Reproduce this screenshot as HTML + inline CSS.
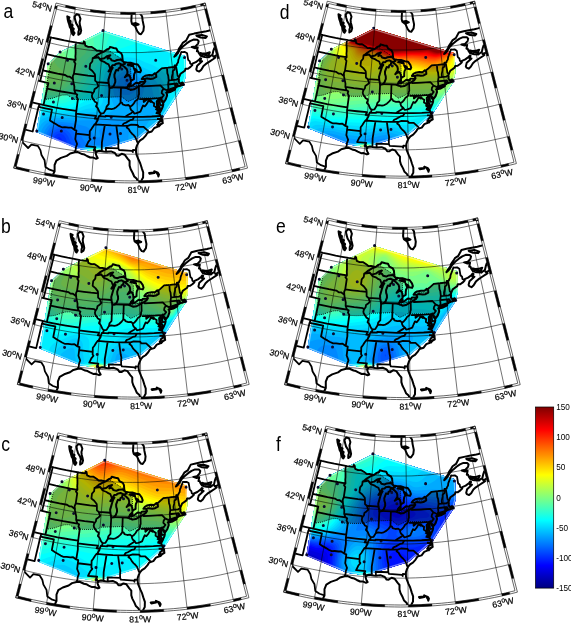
<!DOCTYPE html><html><head><meta charset="utf-8"><title>figure</title><style>
html,body{margin:0;padding:0;background:#fff}svg{display:block}
text{font-family:"Liberation Sans",sans-serif;fill:#000}.tl{font-size:8.7px;stroke:#000;stroke-width:0.2px}.dg{font-size:7.2px}.pl{font-size:19.5px}.cb{font-size:8.2px}
</style></head><body>
<svg width="571" height="623" viewBox="0 0 571 623">
<rect width="571" height="623" fill="#fff"/>
<defs><clipPath id="hull"><path d="M103.2 31.0 L185.1 55.9 L185.7 76.0 L183.0 86.0 L162.6 117.5 L138.5 138.0 L102.0 149.2 L94.3 151.0 L77.5 148.7 L36.4 132.0 L48.0 64.2 L60.4 52.0Z"/></clipPath>
<clipPath id="mc"><path d="M57.4 5.4 L59.2 5.8 L62.9 6.7 L66.6 7.5 L70.3 8.3 L74.0 9.1 L77.8 9.7 L81.5 10.4 L85.2 11.0 L89.0 11.5 L92.8 12.0 L96.5 12.5 L100.3 12.9 L104.1 13.2 L107.9 13.5 L111.6 13.8 L115.4 14.0 L119.2 14.2 L123.0 14.3 L126.8 14.4 L130.6 14.4 L134.4 14.4 L138.2 14.3 L142.0 14.2 L145.8 14.0 L149.6 13.8 L153.3 13.5 L157.1 13.2 L160.9 12.9 L164.7 12.5 L168.4 12.0 L172.2 11.5 L176.0 11.0 L179.7 10.4 L183.4 9.7 L187.2 9.1 L190.9 8.3 L194.6 7.5 L198.3 6.7 L202.0 5.8 L203.8 5.4 L245.1 166.7 L241.3 167.6 L235.6 169.0 L229.8 170.2 L224.1 171.4 L218.3 172.6 L212.5 173.6 L206.7 174.6 L200.9 175.6 L195.1 176.4 L189.3 177.2 L183.4 177.9 L177.6 178.5 L171.7 179.1 L165.9 179.5 L160.0 179.9 L154.1 180.3 L148.2 180.5 L142.4 180.7 L136.5 180.8 L130.6 180.9 L124.7 180.8 L118.8 180.7 L113.0 180.5 L107.1 180.3 L101.2 179.9 L95.3 179.5 L89.5 179.1 L83.6 178.5 L77.8 177.9 L71.9 177.2 L66.1 176.4 L60.3 175.6 L54.5 174.6 L48.7 173.6 L42.9 172.6 L37.1 171.4 L31.4 170.2 L25.6 169.0 L19.9 167.6 L16.1 166.7Z"/></clipPath>
<g id="bm"><g clip-path="url(#mc)"><path d="M20.8 140.3 L28.0 142.1 L35.2 143.7 L42.4 145.3 L49.7 146.7 L57.0 148.0 L64.3 149.2 L71.6 150.2 L78.9 151.1 L86.3 151.9 L93.7 152.6 L101.0 153.2 L108.4 153.6 L115.8 153.9 L123.2 154.1 L130.6 154.2 L138.0 154.1 L145.4 153.9 L152.8 153.6 L160.2 153.2 L167.5 152.6 L174.9 151.9 L182.3 151.1 L189.6 150.2 L196.9 149.2 L204.2 148.0 L211.5 146.7 L218.8 145.3 L226.0 143.7 L233.2 142.1 L240.4 140.3M29.2 107.4 L35.9 109.1 L42.5 110.6 L49.2 112.0 L55.9 113.3 L62.6 114.5 L69.4 115.6 L76.1 116.6 L82.9 117.4 L89.7 118.2 L96.5 118.8 L103.3 119.3 L110.1 119.7 L116.9 120.0 L123.8 120.2 L130.6 120.2 L137.4 120.2 L144.3 120.0 L151.1 119.7 L157.9 119.3 L164.7 118.8 L171.5 118.2 L178.3 117.4 L185.1 116.6 L191.8 115.6 L198.6 114.5 L205.3 113.3 L212.0 112.0 L218.7 110.6 L225.3 109.1 L232.0 107.4M37.6 74.8 L43.7 76.3 L49.8 77.7 L55.9 79.0 L62.1 80.2 L68.2 81.3 L74.4 82.3 L80.6 83.2 L86.8 83.9 L93.1 84.6 L99.3 85.2 L105.6 85.7 L111.8 86.0 L118.1 86.3 L124.3 86.5 L130.6 86.5 L136.9 86.5 L143.1 86.3 L149.4 86.0 L155.6 85.7 L161.9 85.2 L168.1 84.6 L174.4 83.9 L180.6 83.2 L186.8 82.3 L193.0 81.3 L199.1 80.2 L205.3 79.0 L211.4 77.7 L217.5 76.3 L223.6 74.8M46.0 42.0 L51.5 43.3 L57.1 44.6 L62.7 45.8 L68.3 46.9 L73.9 47.9 L79.5 48.8 L85.1 49.6 L90.8 50.3 L96.5 50.9 L102.1 51.5 L107.8 51.9 L113.5 52.2 L119.2 52.5 L124.9 52.6 L130.6 52.6 L136.3 52.6 L142.0 52.5 L147.7 52.2 L153.4 51.9 L159.1 51.5 L164.7 50.9 L170.4 50.3 L176.1 49.6 L181.7 48.8 L187.3 47.9 L192.9 46.9 L198.5 45.8 L204.1 44.6 L209.7 43.3 L215.2 42.0M54.6 8.6 L59.5 9.9 L64.5 11.0 L69.5 12.1 L74.6 13.1 L79.6 14.0 L84.7 14.8 L89.7 15.5 L94.8 16.1 L99.9 16.7 L105.0 17.2 L110.1 17.5 L115.2 17.8 L120.4 18.1 L125.5 18.2 L130.6 18.2 L135.7 18.2 L140.8 18.1 L146.0 17.8 L151.1 17.5 L156.2 17.2 L161.3 16.7 L166.4 16.1 L171.5 15.5 L176.5 14.8 L181.6 14.0 L186.6 13.1 L191.7 12.1 L196.7 11.0 L201.7 9.9 L206.6 8.6M44.4 174.9 L75.6 7.3M91.3 181.2 L105.5 11.3M138.5 182.8 L135.6 12.4M185.6 179.6 L165.7 10.3M232.2 171.8 L195.4 5.3" fill="none" stroke="#000" stroke-width="0.55"/>
<path d="M51.7 179.1 L52.2 176.3 L54.6 171.4 L54.6 165.0 L56.4 160.6 L60.9 157.9 L66.8 155.9 L70.2 153.5 L74.8 152.3 L77.8 152.1 L82.1 154.1 L84.5 154.6 L86.9 156.0 L90.2 157.5 L92.8 157.4 L96.1 158.8 L97.7 158.1 L96.4 155.7 L95.6 153.3 L96.7 152.0 L95.7 151.6 L99.2 150.8 L103.6 151.6 L106.1 151.8 L111.0 151.4 L114.9 153.0 L116.7 155.6 L118.7 155.7 L121.7 153.8 L124.7 154.7 L127.6 158.7 L129.6 161.0 L129.6 165.6 L130.6 169.0 L132.7 173.0 L134.2 176.5 L136.8 178.8 L137.9 181.9 L141.1 181.6 L141.8 179.8 L143.1 177.5 L143.2 172.3 L141.8 168.3 L140.2 163.2 L138.6 159.8 L136.5 154.7 L136.0 151.8 L136.0 148.4 L136.9 145.6 L138.3 142.7 L140.2 140.4 L143.0 138.7 L145.7 135.7 L147.5 132.8 L151.7 131.5 L154.3 128.0 L157.9 126.6 L159.2 124.9 L162.5 123.2 L162.5 120.1 L160.4 115.7 L159.8 114.1 L158.4 113.6 L158.2 110.3 L157.6 108.1 L157.0 105.3 L156.7 101.4 L158.3 99.6 L158.9 102.3 L158.3 105.2 L159.8 107.9 L160.1 112.4 L161.3 110.0 L162.8 106.5 L163.3 104.2 L163.0 103.1 L161.5 101.0 L160.6 98.8 L161.8 100.1 L163.8 102.2 L165.7 99.5 L167.1 95.5 L166.9 93.5 L166.2 92.7 L166.7 92.1 L168.1 90.3 L170.7 88.9 L173.6 88.0 L175.4 87.8 L176.8 87.0 L177.1 85.3 L178.0 86.3 L179.2 85.9 L180.3 85.7 L182.9 84.8 L183.0 84.0 L182.6 82.6 L181.8 82.7 L182.4 84.0 L180.7 84.3 L180.0 83.2 L178.7 81.7 L178.9 80.0 L178.7 78.3 L179.3 76.5 L180.5 73.8 L182.0 72.7 L185.0 70.6 L185.5 68.8 L188.0 68.7 L190.5 66.9 L192.3 65.1 L192.4 63.7 L195.8 62.2 L199.3 59.5 L200.2 58.2 L201.1 58.6 L200.0 61.1 L202.1 61.3 L197.2 65.7 L196.3 69.3 L196.9 70.6 L199.2 71.6 L201.3 69.7 L203.5 66.1 L205.9 63.9 L209.8 61.3 L213.4 59.0 L215.1 57.7 L213.2 56.5 L215.1 56.0 L217.3 54.9 L218.8 52.8 L217.7 51.9 L215.3 48.7 L214.3 48.0 L213.4 50.6 L212.4 54.9 L210.9 55.6 L208.9 57.2 L204.8 56.9 L202.7 56.5 L200.6 55.8 L198.9 53.3 L198.0 51.1 L196.9 51.3 L197.7 47.4 L195.1 48.2 L191.8 47.1 L195.5 46.4 L198.1 43.6 L198.7 41.1 L197.3 39.7 L193.5 39.6 L190.0 41.1 L186.6 43.4 L183.2 46.3 L179.9 49.6 L177.7 53.4 L175.4 56.0 L174.3 56.7 L175.9 54.2 L178.2 51.0 L179.0 48.6 L181.2 45.4 L182.7 42.9 L186.1 40.6 L189.2 34.8 L194.2 33.6 L199.5 32.5 L205.0 31.6 L208.5 30.7 L212.0 29.6 L215.5 28.4M166.8 92.7 L171.0 91.7 L175.0 89.5 L173.7 89.1 L170.8 90.3 L167.9 91.1 L166.8 92.7ZM196.4 35.5 L202.0 34.9 L206.9 36.4 L205.7 37.9 L200.6 37.5 L196.9 36.0 L196.4 35.5ZM200.4 53.0 L202.9 53.6 L206.1 53.5 L209.8 52.3 L208.5 55.3 L205.6 55.0 L202.2 54.3 L200.4 53.0ZM132.7 23.7 L135.8 23.1 L138.6 24.5 L135.8 25.4 L132.7 23.7ZM128.6 64.5 L132.6 64.3 L133.4 66.5 L130.6 65.7 L127.8 64.8 L128.6 64.5ZM149.1 173.0 L153.7 172.5 L154.3 173.0 L149.7 173.8 L149.1 173.0ZM154.2 171.3 L157.9 172.8 L159.0 174.5 L158.4 176.5 L158.0 175.1 L156.3 172.3 L154.2 171.3ZM153.1 181.2 L154.7 181.4 L155.9 185.1 L154.4 186.3 L152.8 184.7 L153.1 181.2ZM131.3 8.9 L131.6 15.3 L131.3 21.1 L132.0 24.0 L135.2 26.3 L137.4 31.4 L139.2 33.7 L141.0 34.2 L143.4 30.7 L143.9 26.6 L142.7 20.9 L142.1 16.3 L140.4 14.0 L143.8 8.6M160.4 115.7 L162.3 120.1 L162.8 123.2 L160.6 124.5 L158.4 126.9M160.1 118.0 L161.2 120.8 L158.6 122.4 L157.8 124.7 L156.4 125.0M157.0 119.1 L160.2 119.1 L160.3 120.8M158.3 108.6 L155.3 106.8M158.2 110.8 L155.4 108.8M158.3 112.2 L156.1 112.4M158.4 113.6 L155.7 112.7M93.4 58.0 L96.8 55.2 L100.9 52.8 L104.0 51.6 L106.8 49.5 L109.2 48.6 L110.0 46.9 L113.7 48.0 L116.3 48.4 L117.7 51.3 L121.1 53.1 L122.2 55.4 L122.5 58.8 L122.8 61.1 L120.9 59.6 L117.0 60.0 L114.6 61.1 L111.5 60.3 L110.5 58.6 L108.6 57.9 L107.6 58.7 L109.5 56.0 L110.3 55.2 L107.2 56.1 L104.3 58.2 L99.9 59.2 L98.2 57.1 L97.0 57.5 L93.4 58.0ZM109.6 87.9 L109.3 86.5 L108.6 83.0 L108.4 79.9 L109.5 76.1 L110.4 73.0 L111.4 70.0 L112.7 67.8 L111.0 69.7 L108.5 71.5 L110.3 68.5 L112.5 65.2 L114.8 65.0 L115.7 63.9 L118.8 63.2 L121.7 64.7 L120.7 65.3 L120.3 67.5 L118.7 68.3 L118.2 70.5 L116.2 69.9 L115.6 71.3 L114.4 74.6 L114.5 77.2 L115.2 79.4 L115.3 82.0 L113.9 85.6 L112.2 87.5 L109.6 87.9ZM121.9 65.0 L124.3 66.7 L126.8 69.3 L127.4 71.3 L127.4 73.6 L124.9 77.2 L126.9 75.8 L129.0 75.0 L130.4 77.5 L130.8 80.9 L133.9 79.2 L133.9 76.7 L134.2 74.1 L135.4 71.8 L133.8 68.2 L136.6 70.1 L137.0 71.8 L140.2 72.3 L141.0 70.6 L140.1 67.8 L137.7 64.5 L134.5 64.0 L130.6 62.8 L126.7 62.5 L124.3 62.2 L124.7 63.9 L121.9 65.0ZM126.6 88.2 L128.1 86.2 L130.6 86.5 L133.1 85.1 L136.0 82.8 L139.3 83.3 L140.1 81.9 L143.8 81.5 L145.4 81.2 L143.9 83.5 L140.6 85.5 L136.9 87.6 L134.0 89.3 L130.6 89.9 L129.8 89.3 L128.5 89.0 L126.6 88.2ZM141.7 79.0 L143.2 77.0 L145.2 75.8 L149.2 75.1 L152.5 75.2 L154.8 73.3 L156.1 74.4 L156.3 76.9 L153.5 78.5 L150.7 78.9 L147.0 78.4 L144.7 79.1 L141.7 79.0ZM128.9 84.5 L130.2 83.1 L130.8 84.0 L129.8 84.8 L128.9 84.5ZM78.3 34.8 L80.4 33.4 L81.2 30.6 L80.6 27.6 L79.9 25.1 L79.6 22.2 L80.5 18.8 L79.1 15.0 L76.4 14.3 L74.6 16.6 L75.1 19.6 L76.2 23.4 L78.2 26.6 L79.1 29.7 L78.4 31.9 L78.3 34.8Z" fill="none" stroke="#000" stroke-width="2.0" stroke-linejoin="round"/>
<path d="M73.4 35.1 L74.6 33.0 L73.1 31.0 L73.8 28.8 L71.9 27.3 L72.7 25.1 L70.4 24.0 L70.6 21.1 L68.4 19.5 L69.5 17.4 L67.3 16.3 L67.7 19.4 L68.3 21.9 L69.0 23.8 L69.8 26.9 L70.9 28.8 L71.4 31.8 L72.5 34.3 L73.4 35.1Z" fill="#000" stroke="#000" stroke-width="2.0" stroke-linejoin="round"/>
<path d="M45.6 36.0 L51.9 37.6 L58.1 39.0 L64.4 40.4 L70.8 41.6 L77.1 42.7 L83.5 43.6 L83.8 41.5 L84.7 42.1 L85.3 45.6 L88.2 46.8 L91.4 46.8 L94.8 49.0 L96.9 50.7 L99.4 50.6 L103.7 51.6M122.8 61.1 L124.3 62.8 L125.1 63.6M131.0 80.9 L130.6 83.1 L129.4 84.3 L128.1 85.1 L127.9 86.5M145.0 81.2 L144.7 79.2M155.3 73.9 L157.6 72.0 L161.7 68.3 L168.0 67.7 L174.4 66.9 L174.6 65.5 L176.8 65.2 L176.8 64.3 L178.1 62.2 L178.4 59.6 L179.0 58.3 L181.3 52.0 L182.2 52.2 L184.9 52.0 L187.1 53.3 L188.2 59.8 L189.8 61.3 L190.2 63.5 L192.2 64.8M50.9 37.3 L48.7 46.2 L46.5 55.0 L44.4 63.7 L42.3 72.5 L40.1 81.2 L48.4 83.1 L45.9 94.1 L43.5 105.1M46.7 54.2 L53.9 55.9 L61.1 57.4 L68.3 58.8 L75.6 60.0M42.8 70.3 L50.2 72.0 L57.6 73.6 L65.1 75.0 L67.4 76.6 L69.8 76.7 L72.1 78.5 L73.0 79.3M34.2 79.7 L40.1 81.2M47.2 88.6 L54.3 90.1 L61.4 91.5 L68.5 92.7 L75.7 93.8M28.5 101.4 L35.2 103.1 L42.0 104.7 L48.8 106.2 L55.7 107.6 L62.6 108.8 L69.4 109.9 L76.3 110.9M39.4 104.1 L38.7 106.9 L45.3 108.3 L52.0 109.7 L49.9 120.4 L53.2 122.6 L56.2 124.3 L58.8 125.9 L61.9 127.3 L64.8 127.2 L68.5 127.7 L71.3 127.6 L74.4 129.8 L76.4 130.5 L75.3 139.2 L76.2 141.6 L77.1 144.0 L75.9 147.3 L75.6 150.1 L74.6 152.3M38.5 106.8 L36.6 115.0 L34.6 123.3 L32.7 131.5 L21.3 128.7M19.3 136.4 L22.1 137.1 L22.8 142.6 L28.1 148.0 L31.4 144.6 L37.8 145.8 L40.4 150.1 L41.5 155.0 L44.6 160.3 L45.4 166.9 L49.6 169.7 L54.6 171.4M74.4 129.8 L76.0 120.0 L76.0 113.7 L77.9 99.2 L76.6 96.8 L77.3 94.6 L75.7 93.8 L74.3 90.2 L74.4 86.8 L73.8 83.9 L73.2 80.9 L73.0 79.2 L72.8 76.3 L73.9 73.7 L75.4 63.6 L74.1 61.7 L75.6 60.0 L75.4 56.2 L75.6 53.9 L75.6 49.3 L75.4 47.0 L75.9 42.5M76.0 133.6 L89.6 135.2M76.0 113.7 L86.0 114.9 L96.1 115.9 L94.8 118.6 L97.9 118.9M73.9 73.7 L80.9 74.7 L88.0 75.6 L95.1 76.3M74.2 90.2 L82.8 91.4 L91.3 92.3 L92.5 93.7M93.4 58.0 L92.7 58.2 L92.3 61.5 L90.2 63.9 L89.6 68.7 L92.4 71.0 L94.9 74.3 L95.1 76.3 L95.1 80.6 L96.9 82.2 L98.4 86.2 L96.6 87.8 L94.5 89.3 L94.1 91.5 L92.5 93.7 L91.9 95.8 L92.2 97.5 L94.9 101.7 L97.0 102.8 L96.8 104.2 L96.0 106.3 L97.8 108.2 L99.3 111.7 L100.8 113.5 L100.4 115.7 L99.0 116.2 L97.9 118.9 L97.8 120.0 L95.6 123.8 L94.6 124.3 L93.1 126.4 L91.4 129.1 L89.8 131.2 L89.7 135.2 L89.6 138.0 L90.5 139.2 L88.3 141.9 L87.0 144.6 L86.2 146.2 L95.4 147.1 L94.7 148.7 L95.7 151.6M96.9 82.2 L108.6 83.0M110.3 68.5 L109.6 67.0 L108.6 64.4 L105.9 63.1 L104.8 62.2 L101.0 60.7 L99.9 59.5M106.0 109.3 L106.6 106.6 L108.7 104.2 L108.8 100.8 L109.5 87.3M110.9 87.3 L121.0 87.7 L126.6 88.0M121.0 87.7 L120.5 102.7M138.8 84.7 L139.0 94.1 L138.5 95.4 L138.3 97.7 L137.7 99.4 L135.2 101.1 L133.9 103.3 L131.9 105.6 L130.2 106.7 L128.4 105.0 L125.6 105.3 L122.7 104.4 L121.9 102.7 L120.5 102.7 L118.8 104.9 L116.3 107.2 L113.8 108.6 L111.5 109.1 L108.2 108.6 L106.0 109.3 L103.7 113.1 L100.8 113.5M99.0 116.2 L105.5 116.6 L105.6 115.8 L115.4 116.4 L125.3 116.8 L134.3 116.9 L143.0 116.8 L151.7 116.5 L160.4 116.0M125.3 116.8 L127.9 115.1 L131.5 112.9 L133.0 111.6 L131.0 109.8 L130.2 107.9 L130.2 106.6M133.0 111.6 L134.3 113.5 L136.3 113.2 L137.9 112.7 L140.4 111.7 L141.8 108.3 L143.1 105.5 L144.7 106.4 L146.5 104.3 L148.6 100.7 L150.9 102.1 L151.4 101.0 L152.4 102.2 L154.2 103.2 L153.9 106.0 L155.3 106.8 L158.0 108.3M151.4 101.0 L149.2 99.3 L146.6 99.7 L143.7 102.0 L143.6 99.1M139.2 99.2 L146.0 99.0 L152.8 98.7 L159.6 98.2 L160.1 105.3 L163.3 105.0M159.6 98.2 L160.3 97.6 L161.2 97.7M142.0 84.8 L142.0 86.3 L151.2 85.9 L160.4 85.3 L163.5 88.7 L162.0 91.1 L161.7 93.1 L163.8 95.2 L162.4 97.0 L160.8 98.5M163.5 88.7 L167.0 90.4M168.1 90.3 L167.7 89.8 L168.5 88.5 L168.1 84.3 L168.7 80.3 L168.2 75.6 L167.4 73.4 L167.0 67.8M168.1 84.5 L175.2 83.7 L176.9 83.5 L177.9 85.2 L178.3 86.3M175.2 83.7 L175.6 87.6M168.7 80.4 L176.8 79.7 L176.9 79.4 L178.6 78.5M172.0 80.1 L171.9 76.9 L172.7 73.4 L172.8 71.1 L174.5 69.5 L174.4 66.9M178.9 77.1 L177.6 75.6 L177.1 72.3 L175.8 65.0M94.6 124.3 L102.9 124.9 L111.2 125.4 L119.5 125.7 L127.8 125.8 L131.1 124.7 L137.3 125.0 L138.0 125.5 L138.6 126.8 L143.6 126.8 L149.1 131.9M122.2 125.8 L123.7 123.5 L126.0 122.6 L127.9 121.5 L130.1 120.2 L132.6 119.7 L134.3 116.9M127.8 125.8 L126.7 127.5 L128.7 128.9 L130.1 131.5 L132.0 133.7 L133.4 134.9 L135.3 137.1 L136.3 139.6 L137.3 142.2 L138.3 142.6M116.3 125.6 L117.9 137.7 L118.6 140.9 L118.3 145.2 L118.4 148.3 L119.1 150.0 L132.1 150.9 L132.8 152.1 L133.0 149.9 L135.7 150.1M106.1 151.8 L105.8 147.8 L118.4 148.3M104.3 125.0 L104.7 125.6 L103.3 134.0 L101.9 142.4 L101.7 150.9" fill="none" stroke="#000" stroke-width="1.8" stroke-linejoin="round"/></g><path d="M56.0 3.0 L59.7 3.9 L63.3 4.8 L67.0 5.6 L70.7 6.4 L74.4 7.1 L78.1 7.8 L81.8 8.4 L85.5 9.0 L89.3 9.5 L93.0 10.0 L96.8 10.5 L100.5 10.9 L104.3 11.2 L108.0 11.5 L111.8 11.8 L115.5 12.0 L119.3 12.2 L123.1 12.3 L126.8 12.4 L130.6 12.4 L134.4 12.4 L138.1 12.3 L141.9 12.2 L145.7 12.0 L149.4 11.8 L153.2 11.5 L156.9 11.2 L160.7 10.9 L164.4 10.5 L168.2 10.0 L171.9 9.5 L175.7 9.0 L179.4 8.4 L183.1 7.8 L186.8 7.1 L190.5 6.4 L194.2 5.6 L197.9 4.8 L201.5 3.9 L205.2 3.0 L247.5 168.1 L241.8 169.5 L236.0 170.9 L230.3 172.2 L224.5 173.4 L218.7 174.5 L212.9 175.6 L207.1 176.6 L201.2 177.5 L195.4 178.4 L189.5 179.2 L183.7 179.9 L177.8 180.5 L171.9 181.0 L166.0 181.5 L160.1 181.9 L154.2 182.3 L148.3 182.5 L142.4 182.7 L136.5 182.8 L130.6 182.9 L124.7 182.8 L118.8 182.7 L112.9 182.5 L107.0 182.3 L101.1 181.9 L95.2 181.5 L89.3 181.0 L83.4 180.5 L77.5 179.9 L71.7 179.2 L65.8 178.4 L60.0 177.5 L54.1 176.6 L48.3 175.6 L42.5 174.5 L36.7 173.4 L30.9 172.2 L25.2 170.9 L19.4 169.5 L13.7 168.1Z" fill="none" stroke="#000" stroke-width="0.6"/>
<path d="M57.4 5.4 L59.2 5.8 L62.9 6.7 L66.6 7.5 L70.3 8.3 L74.0 9.1 L77.8 9.7 L81.5 10.4 L85.2 11.0 L89.0 11.5 L92.8 12.0 L96.5 12.5 L100.3 12.9 L104.1 13.2 L107.9 13.5 L111.6 13.8 L115.4 14.0 L119.2 14.2 L123.0 14.3 L126.8 14.4 L130.6 14.4 L134.4 14.4 L138.2 14.3 L142.0 14.2 L145.8 14.0 L149.6 13.8 L153.3 13.5 L157.1 13.2 L160.9 12.9 L164.7 12.5 L168.4 12.0 L172.2 11.5 L176.0 11.0 L179.7 10.4 L183.4 9.7 L187.2 9.1 L190.9 8.3 L194.6 7.5 L198.3 6.7 L202.0 5.8 L203.8 5.4 L245.1 166.7 L241.3 167.6 L235.6 169.0 L229.8 170.2 L224.1 171.4 L218.3 172.6 L212.5 173.6 L206.7 174.6 L200.9 175.6 L195.1 176.4 L189.3 177.2 L183.4 177.9 L177.6 178.5 L171.7 179.1 L165.9 179.5 L160.0 179.9 L154.1 180.3 L148.2 180.5 L142.4 180.7 L136.5 180.8 L130.6 180.9 L124.7 180.8 L118.8 180.7 L113.0 180.5 L107.1 180.3 L101.2 179.9 L95.3 179.5 L89.5 179.1 L83.6 178.5 L77.8 177.9 L71.9 177.2 L66.1 176.4 L60.3 175.6 L54.5 174.6 L48.7 173.6 L42.9 172.6 L37.1 171.4 L31.4 170.2 L25.6 169.0 L19.9 167.6 L16.1 166.7Z" fill="none" stroke="#000" stroke-width="0.6"/>
<path d="M13.7 168.1 L17.3 154.2 L19.2 154.6 L15.6 168.6ZM243.9 154.2 L240.4 140.3 L238.5 140.8 L242.0 154.6ZM20.8 140.3 L25.0 123.8 L27.0 124.3 L22.7 140.8ZM236.2 123.8 L232.0 107.4 L230.0 107.9 L234.2 124.3ZM29.2 107.4 L33.4 91.1 L35.4 91.6 L31.2 107.9ZM227.8 91.1 L223.6 74.8 L221.7 75.3 L225.8 91.6ZM37.6 74.8 L41.8 58.4 L43.7 58.9 L39.5 75.3ZM219.4 58.4 L215.2 42.0 L213.2 42.5 L217.5 58.9ZM46.0 42.0 L50.3 25.4 L52.2 25.9 L48.0 42.5ZM210.9 25.4 L206.6 8.6 L204.7 9.1 L209.0 25.9ZM54.6 8.6 L55.3 5.8 L57.2 6.3 L56.5 9.1ZM205.9 5.8 L205.2 3.0 L203.3 3.5 L204.0 6.3ZM13.7 168.1 L18.8 169.4 L23.9 170.6 L29.0 171.8 L29.4 169.8 L24.3 168.7 L19.2 167.4 L14.2 166.2ZM65.8 5.3 L69.1 6.0 L72.3 6.7 L75.6 7.3 L75.3 9.3 L72.0 8.7 L68.6 8.0 L65.4 7.3ZM44.4 174.9 L50.3 176.0 L56.1 176.9 L61.9 177.8 L67.8 178.6 L68.0 176.7 L62.2 175.8 L56.4 175.0 L50.6 174.0 L44.8 172.9ZM90.5 9.7 L94.3 10.2 L98.0 10.6 L101.7 11.0 L105.5 11.3 L105.3 13.3 L101.6 13.0 L97.8 12.6 L94.0 12.2 L90.2 11.7ZM91.3 181.2 L97.2 181.7 L103.0 182.1 L108.9 182.4 L114.8 182.6 L114.9 180.6 L109.0 180.4 L103.2 180.1 L97.3 179.7 L91.4 179.2ZM120.6 12.2 L124.3 12.3 L128.1 12.4 L131.9 12.4 L135.6 12.4 L135.7 14.4 L131.9 14.4 L128.1 14.4 L124.3 14.3 L120.5 14.2ZM138.5 182.8 L144.4 182.7 L150.3 182.4 L156.2 182.2 L162.1 181.8 L162.0 179.8 L156.1 180.2 L150.2 180.5 L144.3 180.7 L138.4 180.8ZM150.7 11.7 L154.4 11.5 L158.2 11.1 L162.0 10.8 L165.7 10.3 L165.9 12.3 L162.2 12.7 L158.4 13.1 L154.6 13.4 L150.8 13.7ZM185.6 179.6 L191.5 178.9 L197.3 178.1 L203.2 177.2 L209.0 176.3 L208.7 174.3 L202.9 175.3 L197.0 176.1 L191.2 176.9 L185.4 177.6ZM180.6 8.2 L184.3 7.6 L188.0 6.9 L191.7 6.1 L195.4 5.3 L195.8 7.3 L192.1 8.1 L188.4 8.8 L184.7 9.5 L181.0 10.2ZM232.2 171.8 L236.0 170.9 L239.9 170.0 L239.4 168.1 L235.6 169.0 L231.8 169.8ZM200.3 4.2 L202.8 3.6 L205.2 3.0 L205.7 4.9 L203.2 5.5 L200.8 6.1Z" fill="#000" stroke="#000" stroke-width="0.3"/></g>
</defs>
<g transform="translate(0.00 0.00) scale(1.0000 1.0000)">
<g clip-path="url(#hull)">
<rect x="32" y="27" width="158" height="128" fill="#0022ff"/>
<path d="M34.0 29.0L188.0 29.0L188.0 153.0L34.0 153.0L34.0 29.0ZM58.0 137.4L56.9 140.0L57.4 143.0L59.0 145.7L60.0 146.1L61.0 145.9L62.1 144.0L62.4 142.0L62.1 140.0L61.0 138.1L60.0 137.4L59.0 137.1L58.0 137.4Z" fill="#0033ff"/>
<path d="M34.0 29.0L188.0 29.0L188.0 153.0L68.2 153.0L67.8 145.0L66.0 138.7L64.3 136.0L63.0 134.8L61.0 133.8L59.0 133.6L57.0 134.2L55.9 135.0L54.4 137.0L53.7 139.0L53.1 145.0L53.9 153.0L34.0 153.0L34.0 29.0Z" fill="#0044ff"/>
<path d="M34.0 29.0L188.0 29.0L188.0 153.0L73.4 153.0L72.0 145.0L68.0 136.0L65.0 132.6L63.0 131.6L60.0 131.0L58.0 131.2L55.9 132.0L54.0 133.5L52.4 136.0L50.6 142.0L49.0 153.0L34.0 153.0L34.0 29.0Z" fill="#0055ff"/>
<path d="M34.0 29.0L188.0 29.0L188.0 153.0L76.7 153.0L75.8 151.0L76.4 147.0L76.1 145.0L70.4 134.0L68.8 132.0L66.0 130.0L63.0 128.9L60.0 128.6L57.0 129.1L55.0 129.9L53.0 131.3L51.6 133.0L49.8 137.0L44.9 153.0L34.0 153.0L34.0 29.0Z" fill="#0066ff"/>
<path d="M34.0 29.0L188.0 29.0L188.0 153.0L78.9 153.0L78.1 152.0L77.8 150.0L80.5 146.0L80.6 145.0L74.1 133.0L71.4 130.0L69.0 128.4L65.0 126.9L61.0 126.4L58.0 126.6L55.0 127.4L52.2 129.0L50.3 131.0L48.7 134.0L46.0 141.5L40.8 153.0L34.0 153.0L34.0 29.0Z" fill="#0077ff"/>
<path d="M34.0 29.0L188.0 29.0L188.0 153.0L80.5 153.0L79.2 151.0L80.0 149.0L82.0 147.3L85.8 145.0L86.3 144.0L82.9 139.0L79.3 132.0L76.5 129.0L72.0 126.3L67.0 124.8L61.0 124.2L57.0 124.5L54.0 125.3L52.0 126.2L49.7 128.0L47.1 132.0L44.0 140.3L36.4 153.0L34.0 153.0L34.0 29.0ZM126.0 81.6L125.0 82.6L124.7 84.0L125.0 85.2L126.0 85.9L127.0 86.1L128.8 85.0L129.3 83.0L128.9 82.0L128.0 81.2L127.0 81.1L126.0 81.6Z" fill="#0088ff"/>
<path d="M34.0 29.0L188.0 29.0L188.0 153.0L119.6 153.0L118.8 150.0L119.2 139.0L118.9 135.0L117.5 131.0L116.0 129.1L114.4 128.0L112.0 127.2L109.0 127.0L104.0 127.6L101.0 128.6L99.5 130.0L99.2 131.0L100.1 135.0L100.0 136.6L99.0 137.4L98.0 137.5L96.0 137.0L94.5 136.0L93.0 134.3L90.8 130.0L88.6 128.0L86.0 126.5L72.0 123.1L62.0 122.0L58.0 122.2L54.0 122.9L51.0 124.0L48.0 126.0L45.1 130.0L42.0 138.4L34.0 149.6L34.0 29.0ZM127.0 74.9L124.0 75.6L120.5 78.0L118.3 81.0L117.3 84.0L117.3 88.0L118.7 92.0L121.0 94.1L124.0 95.1L129.0 94.9L133.0 93.1L135.9 90.0L137.2 86.0L137.2 84.0L136.6 82.0L134.0 78.3L131.0 76.0L129.0 75.2L127.0 74.9ZM95.8 145.0L102.0 145.3L107.0 146.4L112.6 149.0L113.7 150.0L113.9 151.0L113.3 152.0L112.0 153.0L81.9 153.0L80.8 152.0L80.4 151.0L80.6 150.0L83.0 147.9L86.0 146.6L90.0 145.6L95.8 145.0Z" fill="#0099ff"/>
<path d="M34.0 29.0L188.0 29.0L188.0 153.0L131.7 153.0L129.3 144.0L128.2 138.0L129.3 128.0L128.6 124.0L126.8 122.0L124.0 120.5L120.0 119.1L116.0 118.5L94.0 120.3L86.0 120.2L77.0 120.6L60.0 119.9L55.0 120.4L51.0 121.3L47.0 123.1L44.0 125.9L42.2 129.0L39.0 136.8L34.0 143.3L34.0 29.0ZM126.0 70.9L123.0 71.8L119.5 74.0L116.5 77.0L114.5 80.0L113.6 83.0L113.2 87.0L113.3 91.0L114.1 95.0L116.0 98.0L118.0 99.8L120.0 101.0L123.0 101.9L132.2 103.0L136.4 104.0L138.4 105.0L141.0 108.2L142.0 108.7L143.0 108.0L143.1 107.0L141.8 102.0L141.8 97.0L143.7 91.0L144.1 88.0L143.8 85.0L143.1 83.0L142.0 81.0L139.5 78.0L134.0 73.3L130.0 71.2L128.0 70.8L126.0 70.9ZM87.5 147.0L93.0 146.1L101.0 146.4L107.0 148.2L109.5 150.0L109.8 151.0L109.4 152.0L108.2 153.0L83.0 153.0L81.9 152.0L81.5 151.0L81.7 150.0L84.0 148.2L87.5 147.0Z" fill="#00aaff"/>
<path d="M34.0 29.0L188.0 29.0L188.0 153.0L143.4 153.0L142.2 148.0L141.7 143.0L141.8 139.0L142.7 134.0L144.4 129.0L146.4 125.0L155.1 112.0L156.0 109.0L155.9 106.0L151.7 87.0L149.2 82.0L144.3 77.0L136.0 70.7L132.0 68.2L128.0 67.1L126.0 67.2L123.0 68.1L118.3 71.0L114.0 75.2L111.4 80.0L110.2 86.0L110.2 94.0L111.0 98.1L113.7 105.0L114.3 108.0L113.5 110.0L112.5 111.0L107.0 114.0L100.0 115.7L87.0 116.3L75.0 117.8L57.0 117.9L49.0 119.2L44.9 121.0L41.4 124.0L34.0 136.7L34.0 29.0ZM90.2 147.0L96.0 146.6L102.0 147.3L106.5 149.0L107.6 150.0L107.9 151.0L107.5 152.0L106.3 153.0L84.1 153.0L82.8 152.0L82.4 151.0L83.0 149.7L86.0 147.9L90.2 147.0Z" fill="#00bbff"/>
<path d="M34.0 29.0L188.0 29.0L188.0 153.0L154.7 153.0L153.5 148.0L152.9 143.0L153.2 134.0L155.0 126.0L159.8 115.0L161.0 109.0L160.7 103.0L158.9 89.0L158.0 85.1L156.0 81.0L151.6 77.0L134.6 66.0L132.0 64.7L129.0 64.0L127.0 63.9L124.0 64.4L119.0 66.9L113.0 72.0L110.2 76.0L108.4 81.0L107.4 87.0L107.0 93.0L107.4 102.0L107.2 105.0L105.9 108.0L103.9 110.0L102.0 111.1L99.0 111.9L87.0 112.6L74.0 115.3L54.0 115.9L47.1 117.0L43.0 118.6L39.7 121.0L36.9 124.0L34.0 128.3L34.0 29.0ZM87.3 148.0L93.0 147.1L100.0 147.4L105.0 149.0L106.3 150.0L106.7 151.0L106.2 152.0L104.8 153.0L85.0 153.0L83.6 152.0L83.2 151.0L83.5 150.0L85.0 148.9L87.3 148.0Z" fill="#00ccff"/>
<path d="M34.0 29.0L188.0 29.0L188.0 153.0L165.7 153.0L163.2 144.0L162.3 136.0L162.6 128.0L164.8 116.0L165.4 109.0L164.6 88.0L163.6 83.0L162.1 80.0L160.7 78.0L156.1 74.0L151.0 71.1L142.1 67.0L136.0 62.8L131.0 61.0L128.0 60.7L125.0 61.0L120.0 62.7L115.0 66.2L111.8 69.0L109.2 72.0L107.1 76.0L105.7 81.0L102.6 102.0L101.2 105.0L99.0 107.0L96.0 107.8L86.0 109.1L77.0 112.0L72.0 113.1L52.0 113.7L46.0 114.4L43.0 115.3L39.6 117.0L34.0 121.6L34.0 29.0ZM88.7 148.0L94.0 147.4L99.0 147.7L103.8 149.0L105.2 150.0L105.6 151.0L105.1 152.0L103.6 153.0L86.0 153.0L84.4 152.0L83.9 151.0L84.3 150.0L86.0 148.9L88.7 148.0Z" fill="#00ddff"/>
<path d="M34.0 29.0L188.0 29.0L188.0 153.0L177.4 153.0L174.8 147.0L172.5 140.0L171.2 133.0L170.6 125.0L170.1 96.0L170.9 85.0L170.4 82.0L169.1 79.0L165.0 73.7L159.0 68.6L152.0 64.8L145.0 62.3L137.9 59.0L134.0 57.8L127.0 57.3L121.0 58.5L118.0 60.0L115.0 62.1L108.0 68.5L106.0 71.2L104.3 75.0L99.7 96.0L98.0 99.4L95.0 102.2L85.0 105.5L73.0 110.4L67.0 111.1L50.0 111.3L45.0 111.8L39.0 113.7L34.0 116.6L34.0 29.0ZM90.4 148.0L95.0 147.7L100.0 148.2L103.0 149.2L104.2 150.0L104.7 151.0L104.2 152.0L102.5 153.0L86.9 153.0L85.2 152.0L84.6 151.0L85.1 150.0L87.0 148.8L90.4 148.0Z" fill="#00eeff"/>
<path d="M34.0 29.0L188.0 29.0L188.0 148.5L184.2 141.0L181.2 133.0L179.2 125.0L177.6 115.0L177.0 109.0L177.1 103.0L177.7 97.0L179.6 87.0L179.6 82.0L177.5 77.0L170.8 68.0L169.7 66.0L169.0 62.0L170.1 53.0L169.0 50.2L167.0 47.9L163.0 45.9L161.0 45.6L158.0 45.8L154.0 47.2L147.0 51.6L144.0 52.7L141.0 53.0L133.0 52.6L126.0 53.2L122.0 54.0L119.0 55.2L115.0 57.6L111.0 60.9L106.0 65.6L103.3 69.0L101.5 73.0L99.8 82.0L96.8 91.0L94.4 95.0L91.0 98.0L75.0 106.5L71.2 108.0L60.2 109.0L44.0 109.1L39.0 110.3L34.0 112.5L34.0 29.0ZM93.0 148.0L100.0 148.5L103.0 149.8L103.9 151.0L103.3 152.0L101.4 153.0L87.8 153.0L85.9 152.0L85.3 151.0L85.8 150.0L89.0 148.5L93.0 148.0Z" fill="#00ffff"/>
<path d="M34.0 29.0L188.0 29.0L188.0 73.6L184.6 68.0L183.8 66.0L183.3 62.0L183.7 53.0L183.3 48.0L181.9 43.0L179.7 39.0L177.1 36.0L175.0 34.3L170.0 31.8L164.0 30.8L158.0 31.5L151.0 34.2L137.2 43.0L121.0 48.6L117.0 50.8L114.0 53.1L103.0 63.7L100.0 67.2L97.9 72.0L95.4 83.0L93.6 87.0L91.7 90.0L87.5 94.0L75.7 102.0L71.0 104.5L66.0 105.8L58.0 106.5L44.0 106.4L39.0 107.2L34.0 108.7L34.0 29.0ZM188.0 102.0L188.0 113.8L187.6 108.0L188.0 102.0ZM88.5 149.0L93.0 148.2L98.0 148.4L102.0 149.7L103.1 151.0L102.5 152.0L100.4 153.0L88.7 153.0L86.6 152.0L85.9 151.0L86.5 150.0L88.5 149.0Z" fill="#11ffee"/>
<path d="M34.0 29.0L134.4 29.0L121.0 38.2L117.0 41.5L114.0 44.9L105.6 56.0L98.0 64.0L95.8 67.0L94.3 70.0L91.5 80.0L89.2 85.0L86.0 89.1L80.2 94.0L70.0 100.9L64.5 103.0L58.0 103.9L42.0 103.8L34.0 105.2L34.0 29.0ZM89.5 149.0L94.0 148.4L98.0 148.7L101.0 149.6L101.8 150.0L102.4 151.0L101.7 152.0L99.3 153.0L89.7 153.0L87.3 152.0L86.6 151.0L87.2 150.0L89.5 149.0Z" fill="#22ffdd"/>
<path d="M34.0 29.0L114.3 29.0L111.0 33.4L109.0 37.0L105.3 48.0L102.9 53.0L100.8 56.0L94.3 63.0L91.2 67.0L89.6 70.0L87.3 78.0L85.6 82.0L83.0 85.8L80.0 89.0L69.0 97.3L66.0 99.0L63.0 100.2L57.0 101.1L42.0 100.9L34.0 101.7L34.0 29.0ZM90.7 149.0L94.0 148.7L98.0 149.0L101.0 150.0L101.7 151.0L100.9 152.0L98.0 153.0L90.9 153.0L88.0 152.0L87.2 151.0L87.9 150.0L90.7 149.0Z" fill="#33ffcc"/>
<path d="M34.0 29.0L102.6 29.0L100.3 37.0L99.7 48.0L97.9 53.0L94.8 57.0L88.3 64.0L86.1 67.0L82.7 78.0L79.3 84.0L76.6 87.0L73.3 90.0L68.0 94.0L64.0 96.4L60.0 97.8L56.0 98.3L41.0 97.9L34.0 98.2L34.0 29.0ZM92.3 149.0L98.0 149.3L100.2 150.0L101.0 151.0L100.1 152.0L97.0 152.9L91.0 152.8L88.7 152.0L87.9 151.0L88.6 150.0L92.3 149.0Z" fill="#44ffbb"/>
<path d="M34.0 29.0L93.4 29.0L93.0 35.0L94.1 47.0L92.9 52.0L90.3 56.0L85.0 61.4L83.1 64.0L81.8 67.0L78.7 77.0L75.3 83.0L72.7 86.0L69.0 89.3L65.3 92.0L62.0 93.8L58.0 95.1L54.0 95.5L34.0 94.5L34.0 29.0ZM89.4 150.0L92.0 149.3L96.0 149.2L99.4 150.0L100.2 151.0L99.3 152.0L98.0 152.4L93.0 152.8L89.5 152.0L88.5 151.0L89.4 150.0Z" fill="#55ffaa"/>
<path d="M34.0 29.0L83.1 29.0L83.6 36.0L86.9 48.0L86.4 52.0L85.0 54.0L81.0 57.2L79.1 60.0L75.8 73.0L74.3 77.0L72.1 81.0L69.7 84.0L66.7 87.0L61.0 90.7L57.0 91.9L52.0 92.3L34.0 90.3L34.0 29.0ZM90.3 150.0L93.0 149.4L96.0 149.5L98.5 150.0L99.5 151.0L98.0 152.1L93.0 152.5L90.0 151.8L89.2 151.0L90.3 150.0Z" fill="#66ff99"/>
<path d="M34.0 29.0L68.4 29.0L64.0 43.8L63.5 50.0L64.0 53.0L65.4 56.0L70.0 61.9L71.2 64.0L72.0 67.0L71.8 69.0L70.2 75.0L67.8 80.0L64.0 84.6L60.0 87.3L56.0 88.5L51.0 88.6L34.0 85.4L34.0 29.0ZM91.3 150.0L96.0 149.7L97.4 150.0L98.7 151.0L97.0 152.1L93.0 152.3L91.3 152.0L90.0 151.0L91.3 150.0Z" fill="#77ff88"/>
<path d="M34.0 29.0L53.5 29.0L51.6 37.0L50.8 43.0L50.8 49.0L51.5 54.0L53.1 59.0L55.1 63.0L58.0 66.9L62.0 70.1L63.1 72.0L63.5 74.0L63.3 77.0L62.1 80.0L60.5 82.0L58.0 83.6L55.0 84.2L51.0 83.8L34.0 78.4L34.0 29.0ZM92.7 150.0L96.0 150.0L97.8 151.0L95.9 152.0L92.8 152.0L90.8 151.0L92.7 150.0Z" fill="#88ff77"/>
<path d="M34.0 29.0L39.0 29.0L36.7 39.0L34.0 55.5L34.0 29.0ZM91.9 151.0L94.0 150.4L96.7 151.0L94.0 151.6L91.9 151.0Z" fill="#99ff66"/>
<path d="M53.0 55.7 L75.6 60.0 L75.4 56.2 L75.6 53.9 L75.6 49.3 L75.4 47.0 L75.9 42.5 L83.5 43.6 L83.8 41.5 L84.7 42.1 L85.3 45.6 L88.2 46.8 L91.4 46.8 L94.8 49.0 L96.9 50.7 L99.4 50.6 L103.7 51.6 L108.3 50.2 L121.5 58.8 L122.8 61.1 L124.3 62.8 L125.1 63.6 L126.7 65.1 L130.6 67.9 L131.0 80.9 L130.6 83.1 L129.4 84.3 L128.1 85.1 L127.9 86.5 L131.0 88.3 L136.8 85.3 L145.0 81.7 L144.7 79.2 L146.1 77.0 L153.8 76.6 L155.3 73.9 L157.6 72.0 L161.7 68.3 L174.4 66.9 L174.6 65.5 L175.8 65.0 L177.1 72.3 L177.6 75.6 L178.9 77.1 L178.7 78.3 L178.9 80.0 L178.7 81.7 L180.0 83.2 L182.6 82.6 L183.1 84.8 L180.3 85.7 L178.0 86.3 L176.8 87.0 L175.0 89.5 L171.0 91.7 L166.8 92.7 L167.1 95.5 L165.7 99.5 L163.8 102.2 L161.8 100.1 L160.6 98.8 L159.6 98.2 L163.0 98.0 L140.0 98.0 L138.0 96.5 L134.0 99.0 L128.0 101.6 L122.0 97.0 L120.0 96.8 L109.0 97.2 L98.5 97.5 L96.0 99.5 L85.0 99.8 L74.0 99.4 L71.5 97.6 L67.3 94.9 L62.3 95.1 L58.0 96.3 L52.0 98.4 L45.6 99.4 L46.4 88.4 L47.9 77.4Z" fill="#000" fill-opacity="0.30"/>
<path d="M53.0 55.7 L75.6 60.0 L75.4 56.2 L75.6 53.9 L75.6 49.3 L75.4 47.0 L75.9 42.5 L83.5 43.6 L83.8 41.5 L84.7 42.1 L85.3 45.6 L88.2 46.8 L91.4 46.8 L94.8 49.0 L96.9 50.7 L99.4 50.6 L103.7 51.6 L108.3 50.2 L121.5 58.8 L122.8 61.1 L124.3 62.8 L125.1 63.6 L126.7 65.1 L130.6 67.9 L131.0 80.9 L130.6 83.1 L129.4 84.3 L128.1 85.1 L127.9 86.5 L131.0 88.3 L136.8 85.3 L145.0 81.7 L144.7 79.2 L146.1 77.0 L153.8 76.6 L155.3 73.9 L157.6 72.0 L161.7 68.3 L174.4 66.9 L174.6 65.5 L175.8 65.0 L177.1 72.3 L177.6 75.6 L178.9 77.1 L178.7 78.3 L178.9 80.0 L178.7 81.7 L180.0 83.2 L182.6 82.6 L183.1 84.8 L180.3 85.7 L178.0 86.3 L176.8 87.0 L175.0 89.5 L171.0 91.7 L166.8 92.7 L167.1 95.5 L165.7 99.5 L163.8 102.2 L161.8 100.1 L160.6 98.8 L159.6 98.2 L163.0 98.0 L140.0 98.0 L138.0 96.5 L134.0 99.0 L128.0 101.6 L122.0 97.0 L120.0 96.8 L109.0 97.2 L98.5 97.5 L96.0 99.5 L85.0 99.8 L74.0 99.4 L71.5 97.6 L67.3 94.9 L62.3 95.1 L58.0 96.3 L52.0 98.4 L45.6 99.4 L46.4 88.4 L47.9 77.4Z" fill="none" stroke="#000" stroke-width="0.9" stroke-dasharray="0.9 1.1"/>
<path d="M103.2 31.0 L185.1 55.9 L185.7 76.0 L183.0 86.0 L162.6 117.5 L138.5 138.0 L102.0 149.2 L94.3 151.0 L77.5 148.7 L36.4 132.0 L48.0 64.2 L60.4 52.0Z" fill="none" stroke="#fff" stroke-opacity="0.45" stroke-width="2.6"/>
</g>
<path d="M103.0 30.4h0.01M60.1 51.9h0.01M48.2 63.7h0.01M67.5 60.2h0.01M85.8 66.3h0.01M54.3 82.9h0.01M71.8 83.8h0.01M121.8 68.9h0.01M127.0 80.3h0.01M155.7 60.2h0.01M53.4 101.9h0.01M72.4 98.4h0.01M43.5 114.1h0.01M62.2 117.6h0.01M36.8 130.9h0.01M61.3 130.9h0.01M110.0 133.9h0.01M120.5 133.4h0.01M94.2 137.9h0.01M101.6 95.4h0.01M111.2 117.3h0.01M94.3 150.0h0.01M162.3 116.4h0.01M184.5 57.5h0.01M183.5 84.5h0.01" fill="none" stroke="#0a0a30" stroke-width="3.0" stroke-linecap="round"/>
<use href="#bm"/>
</g>
<text transform="translate(17.4 143.4) rotate(14.4)" text-anchor="end" class="tl"><tspan>30</tspan><tspan class="dg" dy="-3.3">o</tspan><tspan dy="3.3">N</tspan></text>
<text transform="translate(25.8 110.5) rotate(14.4)" text-anchor="end" class="tl"><tspan>36</tspan><tspan class="dg" dy="-3.3">o</tspan><tspan dy="3.3">N</tspan></text>
<text transform="translate(34.2 77.8) rotate(14.4)" text-anchor="end" class="tl"><tspan>42</tspan><tspan class="dg" dy="-3.3">o</tspan><tspan dy="3.3">N</tspan></text>
<text transform="translate(42.6 45.0) rotate(14.4)" text-anchor="end" class="tl"><tspan>48</tspan><tspan class="dg" dy="-3.3">o</tspan><tspan dy="3.3">N</tspan></text>
<text transform="translate(51.1 11.7) rotate(14.4)" text-anchor="end" class="tl"><tspan>54</tspan><tspan class="dg" dy="-3.3">o</tspan><tspan dy="3.3">N</tspan></text>
<text transform="translate(43.2 184.8) rotate(10.5)" text-anchor="middle" class="tl"><tspan>99</tspan><tspan class="dg" dy="-3.3">o</tspan><tspan dy="3.3">W</tspan></text>
<text transform="translate(90.7 191.2) rotate(4.8)" text-anchor="middle" class="tl"><tspan>90</tspan><tspan class="dg" dy="-3.3">o</tspan><tspan dy="3.3">W</tspan></text>
<text transform="translate(138.6 192.8) rotate(-1.0)" text-anchor="middle" class="tl"><tspan>81</tspan><tspan class="dg" dy="-3.3">o</tspan><tspan dy="3.3">W</tspan></text>
<text transform="translate(186.4 189.6) rotate(-6.7)" text-anchor="middle" class="tl"><tspan>72</tspan><tspan class="dg" dy="-3.3">o</tspan><tspan dy="3.3">W</tspan></text>
<text transform="translate(233.7 181.6) rotate(-12.5)" text-anchor="middle" class="tl"><tspan>63</tspan><tspan class="dg" dy="-3.3">o</tspan><tspan dy="3.3">W</tspan></text>
<text transform="translate(3.6 18.4) scale(0.9 1)" class="pl">a</text>
<g transform="translate(3.78 217.66) scale(0.9915 0.9920)">
<g clip-path="url(#hull)">
<rect x="32" y="27" width="158" height="128" fill="#0044ff"/>
<path d="M34.0 29.0L188.0 29.0L188.0 146.5L181.9 153.0L34.0 153.0L34.0 29.0Z" fill="#0055ff"/>
<path d="M34.0 29.0L188.0 29.0L188.0 137.6L174.6 153.0L34.0 153.0L34.0 29.0Z" fill="#0066ff"/>
<path d="M34.0 29.0L188.0 29.0L188.0 128.4L173.8 146.0L167.5 153.0L34.0 153.0L34.0 29.0Z" fill="#0077ff"/>
<path d="M34.0 29.0L188.0 29.0L188.0 118.6L181.4 128.0L169.5 143.0L164.2 149.0L160.0 153.0L34.0 153.0L34.0 29.0Z" fill="#0088ff"/>
<path d="M34.0 29.0L188.0 29.0L188.0 108.1L186.3 109.0L185.6 110.0L181.8 119.0L178.0 124.6L161.0 145.0L156.0 149.7L151.3 153.0L34.0 153.0L34.0 29.0Z" fill="#0099ff"/>
<path d="M34.0 29.0L188.0 29.0L188.0 102.7L184.0 102.1L182.0 103.0L180.9 105.0L180.0 112.0L179.2 115.0L176.3 120.0L167.0 128.9L159.0 139.3L155.0 143.7L150.0 147.6L145.0 149.9L141.0 150.9L136.0 151.2L132.0 150.8L124.0 149.2L122.0 149.2L120.0 150.3L117.7 153.0L34.0 153.0L34.0 29.0Z" fill="#00aaff"/>
<path d="M34.0 29.0L188.0 29.0L188.0 99.7L183.0 98.6L181.0 98.8L180.0 99.4L178.8 101.0L177.5 104.0L176.6 112.0L174.7 116.0L172.0 118.6L166.1 122.0L164.0 123.6L152.0 138.9L148.4 142.0L145.0 143.8L140.0 144.7L135.0 144.0L130.2 142.0L122.0 137.1L118.0 136.3L115.0 137.1L114.0 138.0L113.1 140.0L112.0 145.0L112.1 146.0L113.7 150.0L113.7 151.0L112.6 153.0L34.0 153.0L34.0 29.0Z" fill="#00bbff"/>
<path d="M34.0 29.0L188.0 29.0L188.0 97.5L182.0 96.4L179.0 97.0L178.0 98.0L173.9 106.0L174.0 110.0L172.8 113.0L170.0 115.2L163.0 117.5L161.0 118.8L147.0 134.3L143.6 137.0L141.0 137.6L138.2 137.0L128.4 132.0L124.0 130.9L121.0 130.9L118.0 131.3L115.0 132.4L113.0 133.7L110.3 137.0L107.7 144.0L108.1 146.0L111.4 150.0L111.2 152.0L110.3 153.0L74.0 153.0L73.2 152.0L72.6 150.0L73.0 146.0L71.2 133.0L70.0 131.2L69.0 131.0L67.0 131.5L64.0 133.0L60.0 135.5L58.0 137.3L56.6 140.0L53.6 149.0L51.3 153.0L34.0 153.0L34.0 29.0Z" fill="#00ccff"/>
<path d="M34.0 29.0L188.0 29.0L188.0 95.8L182.0 94.8L180.0 94.9L178.0 95.6L177.0 96.7L174.0 102.1L172.0 104.1L168.8 106.0L168.1 108.0L168.4 110.0L165.5 112.0L150.0 120.8L146.0 122.4L142.0 123.5L130.0 123.3L126.0 123.9L119.0 126.3L112.0 129.9L110.0 131.8L108.4 134.0L103.7 144.0L103.9 145.0L108.0 147.9L109.9 150.0L109.7 152.0L108.8 153.0L77.7 153.0L76.8 152.0L76.5 150.0L77.8 148.0L81.0 145.0L81.1 144.0L79.8 138.0L79.8 128.0L78.8 125.0L77.0 123.1L74.7 122.0L72.0 121.6L69.0 122.3L65.6 124.0L57.0 129.7L54.2 132.0L51.2 136.0L46.0 146.3L44.0 149.0L41.0 151.9L39.4 153.0L34.0 153.0L34.0 29.0Z" fill="#00ddff"/>
<path d="M34.0 29.0L188.0 29.0L188.0 94.3L182.0 93.5L178.0 94.2L176.8 95.0L174.0 100.0L172.2 102.0L167.4 105.0L162.0 110.3L156.0 113.6L153.0 114.7L149.0 115.4L134.0 115.7L126.0 116.9L120.0 119.4L110.0 126.0L107.8 128.0L106.0 130.6L102.0 139.4L98.2 143.0L97.6 144.0L106.0 147.6L108.0 149.0L108.7 150.0L108.9 151.0L108.6 152.0L107.6 153.0L79.7 153.0L78.7 152.0L78.3 151.0L78.4 150.0L80.0 148.3L83.0 146.6L89.8 144.0L89.8 143.0L87.0 139.9L85.9 137.0L86.4 127.0L85.8 123.0L84.6 121.0L83.0 119.8L80.0 118.6L77.0 118.1L72.0 118.1L67.0 119.2L51.0 126.4L48.9 128.0L47.0 130.4L43.3 138.0L41.0 141.6L38.0 144.4L34.0 146.7L34.0 29.0Z" fill="#00eeff"/>
<path d="M34.0 29.0L188.0 29.0L188.0 93.0L182.0 92.4L178.0 93.1L176.0 94.6L173.5 99.0L172.0 100.7L166.4 104.0L160.0 108.6L156.0 110.6L150.0 111.5L142.0 110.7L130.0 110.9L122.8 112.0L115.4 114.0L104.4 118.0L101.3 120.0L100.4 121.0L100.0 122.9L99.6 123.0L99.0 123.1L99.4 121.0L98.7 119.0L96.6 117.0L91.9 115.0L87.0 114.0L82.0 114.0L73.0 114.9L59.0 117.6L55.0 118.0L50.0 117.0L43.0 113.0L41.0 112.7L39.0 113.0L37.1 114.0L34.0 117.1L34.0 29.0ZM88.9 146.0L95.0 145.5L101.0 146.4L106.0 148.4L107.8 150.0L108.0 151.0L107.6 152.0L106.5 153.0L81.1 153.0L80.0 152.0L79.6 151.0L79.8 150.0L80.6 149.0L84.0 147.2L88.9 146.0Z" fill="#00ffff"/>
<path d="M34.0 29.0L188.0 29.0L188.0 91.8L182.0 91.3L178.0 92.1L176.0 93.4L173.0 98.3L171.0 100.3L158.0 107.0L153.0 108.4L149.0 108.4L141.0 107.4L129.0 107.1L109.0 108.8L100.0 108.4L86.0 109.3L72.0 112.2L59.0 113.4L56.0 113.0L53.3 112.0L46.0 107.4L43.0 106.2L39.0 105.5L34.0 105.7L34.0 29.0ZM86.8 147.0L92.0 146.2L99.0 146.5L105.0 148.4L106.9 150.0L107.2 151.0L106.8 152.0L105.6 153.0L82.2 153.0L81.0 152.0L80.6 151.0L80.9 150.0L83.0 148.3L86.8 147.0Z" fill="#11ffee"/>
<path d="M34.0 29.0L188.0 29.0L188.0 90.6L182.0 90.3L178.0 91.1L175.3 93.0L172.2 98.0L170.0 99.8L158.0 104.7L153.0 105.7L149.0 105.6L131.0 103.8L123.0 103.8L100.0 104.8L88.0 105.8L82.0 106.8L72.0 109.2L61.0 109.7L58.0 109.3L55.0 108.3L47.0 103.8L43.0 102.1L39.0 101.0L34.0 100.2L34.0 29.0ZM89.0 147.0L95.0 146.5L101.0 147.3L105.1 149.0L106.2 150.0L106.5 151.0L106.1 152.0L104.8 153.0L83.2 153.0L81.9 152.0L81.5 151.0L81.8 150.0L84.0 148.4L89.0 147.0Z" fill="#22ffdd"/>
<path d="M34.0 29.0L188.0 29.0L188.0 89.5L182.0 89.3L178.0 90.1L175.0 92.2L172.1 97.0L170.0 98.8L163.0 101.3L155.0 103.0L148.0 103.0L130.0 100.6L122.0 100.2L88.0 102.9L69.0 106.2L62.0 106.2L56.0 104.7L44.0 98.6L34.0 95.4L34.0 29.0ZM92.1 147.0L97.0 147.1L101.0 147.7L104.3 149.0L105.5 150.0L105.9 151.0L105.4 152.0L104.0 153.0L84.1 153.0L82.7 152.0L82.3 151.0L82.6 150.0L83.8 149.0L88.0 147.5L92.1 147.0Z" fill="#33ffcc"/>
<path d="M34.0 29.0L188.0 29.0L188.0 88.5L182.0 88.4L178.0 89.1L175.0 91.0L171.9 96.0L170.0 97.8L166.0 99.3L158.0 100.6L152.0 100.7L144.0 100.0L131.0 97.2L122.0 96.2L109.0 97.4L68.0 102.5L62.0 102.4L56.0 100.8L43.0 94.2L34.0 90.6L34.0 29.0ZM87.3 148.0L93.0 147.2L99.0 147.5L103.6 149.0L104.9 150.0L105.3 151.0L104.8 152.0L103.3 153.0L84.9 153.0L83.4 152.0L82.9 151.0L83.3 150.0L85.0 148.8L87.3 148.0Z" fill="#44ffbb"/>
<path d="M34.0 29.0L188.0 29.0L188.0 87.4L181.0 87.5L177.0 88.4L174.0 90.7L171.7 95.0L170.0 96.8L167.0 97.9L163.0 98.5L156.0 98.5L143.0 97.2L128.0 91.9L122.0 90.8L117.0 91.3L100.0 95.1L86.0 97.2L64.0 98.5L60.0 98.1L57.0 97.4L34.0 85.3L34.0 29.0ZM88.5 148.0L94.0 147.4L99.0 147.8L102.9 149.0L104.3 150.0L104.7 151.0L104.2 152.0L102.6 153.0L85.7 153.0L84.1 152.0L83.6 151.0L84.0 150.0L86.0 148.7L88.5 148.0Z" fill="#55ffaa"/>
<path d="M34.0 29.0L188.0 29.0L188.0 86.3L180.0 86.6L176.0 87.7L173.3 90.0L171.0 94.5L170.0 95.6L168.0 96.5L165.0 96.9L159.0 96.6L143.0 93.5L140.0 92.0L128.0 84.1L125.0 83.0L122.0 82.7L119.0 83.0L116.0 83.8L99.0 90.5L87.0 93.3L73.0 93.2L63.0 94.0L60.0 93.8L57.0 93.0L51.0 89.8L34.0 79.3L34.0 29.0ZM89.8 148.0L95.0 147.6L100.0 148.3L103.0 149.5L103.7 150.0L104.2 151.0L103.6 152.0L101.9 153.0L86.4 153.0L84.7 152.0L84.2 151.0L84.6 150.0L87.0 148.7L89.8 148.0Z" fill="#66ff99"/>
<path d="M34.0 29.0L188.0 29.0L188.0 85.3L180.0 85.5L176.0 86.5L174.0 87.6L172.6 89.0L170.0 93.8L169.0 94.7L166.0 95.4L162.0 95.1L158.0 94.0L147.0 89.8L129.0 77.6L124.0 75.2L120.0 74.5L116.0 75.6L107.0 80.6L97.0 84.9L90.0 87.1L84.0 87.9L73.0 87.9L64.0 88.6L60.0 88.3L57.0 87.5L53.0 85.6L48.9 83.0L34.0 71.4L34.0 29.0ZM91.5 148.0L96.0 147.9L100.0 148.5L103.0 149.9L103.6 151.0L103.1 152.0L101.2 153.0L87.1 153.0L85.3 152.0L84.7 151.0L85.2 150.0L88.0 148.6L91.5 148.0Z" fill="#77ff88"/>
<path d="M34.0 29.0L188.0 29.0L188.0 84.2L180.0 84.4L176.0 85.1L174.0 86.0L172.0 87.5L168.0 93.0L165.0 93.5L162.0 92.8L156.3 90.0L132.0 74.6L123.0 67.0L117.0 60.0L116.0 59.2L115.0 59.2L114.4 61.0L114.4 66.0L112.9 69.0L107.8 74.0L104.7 76.0L101.0 77.7L94.0 80.0L89.0 80.9L81.0 81.2L72.0 81.0L63.0 81.8L57.7 81.0L53.8 79.0L48.6 75.0L44.6 71.0L38.1 63.0L34.0 59.9L34.0 29.0ZM87.6 149.0L92.0 148.1L98.0 148.3L102.0 149.6L103.1 151.0L102.5 152.0L100.5 153.0L87.9 153.0L85.9 152.0L85.3 151.0L85.8 150.0L87.6 149.0Z" fill="#88ff77"/>
<path d="M34.0 29.0L188.0 29.0L188.0 83.1L179.0 83.3L175.0 84.0L171.0 86.0L167.0 89.9L165.0 90.4L163.0 89.9L160.0 88.2L154.5 84.0L140.0 76.1L135.0 72.8L128.5 67.0L122.0 59.0L119.1 56.0L116.0 53.6L114.0 52.9L111.7 54.0L110.3 56.0L109.3 59.0L108.1 65.0L106.2 69.0L103.0 71.9L99.0 73.9L93.0 75.2L86.0 75.3L76.9 74.0L62.9 71.0L59.2 69.0L57.8 67.0L58.0 65.0L60.2 60.0L61.0 56.0L60.5 53.0L59.0 51.4L56.0 50.0L53.0 49.4L34.0 48.4L34.0 29.0ZM88.4 149.0L93.0 148.2L98.0 148.5L101.0 149.4L102.1 150.0L102.6 151.0L102.0 152.0L99.8 153.0L88.6 153.0L86.4 152.0L85.8 151.0L86.3 150.0L88.4 149.0Z" fill="#99ff66"/>
<path d="M34.0 29.0L188.0 29.0L188.0 81.8L185.0 82.2L176.0 82.2L172.0 83.1L166.0 85.6L163.0 85.2L156.5 81.0L147.0 76.9L138.0 71.7L132.3 67.0L122.3 56.0L117.0 52.0L114.0 51.0L111.0 51.7L108.5 54.0L106.9 57.0L103.7 65.0L102.0 67.5L100.0 69.0L97.0 70.0L93.0 70.4L89.0 70.1L84.0 68.9L77.0 65.9L73.8 64.0L71.4 62.0L69.0 58.9L64.3 49.0L62.0 46.6L59.8 45.0L56.0 43.3L51.0 42.0L44.0 41.2L34.0 40.6L34.0 29.0ZM89.2 149.0L93.0 148.4L98.0 148.7L101.0 149.7L102.2 151.0L101.5 152.0L99.1 153.0L89.4 153.0L87.0 152.0L86.3 151.0L86.9 150.0L89.2 149.0Z" fill="#aaff55"/>
<path d="M34.0 29.0L188.0 29.0L188.0 80.5L185.0 81.0L175.0 80.6L166.0 81.7L162.0 80.7L149.0 75.2L141.0 70.9L135.0 66.3L127.3 58.0L123.9 55.0L118.0 50.9L114.0 49.5L110.2 50.0L107.3 52.0L102.0 60.4L98.7 64.0L97.0 64.8L95.0 65.2L90.0 64.3L86.0 62.4L74.0 54.8L72.0 52.9L69.2 48.0L67.0 45.1L62.0 41.0L57.0 38.5L51.0 36.7L44.0 35.4L34.0 34.5L34.0 29.0ZM90.0 149.0L94.0 148.6L98.0 148.9L101.0 150.0L101.7 151.0L101.0 152.0L98.2 153.0L90.2 153.0L87.5 152.0L86.8 151.0L87.4 150.0L90.0 149.0Z" fill="#bbff44"/>
<path d="M34.0 29.0L188.0 29.0L188.0 79.0L184.0 79.5L176.0 78.9L166.0 78.7L162.0 77.7L151.0 73.7L144.0 70.2L139.1 67.0L135.0 63.4L128.0 56.2L125.1 54.0L118.0 49.5L114.0 48.1L110.0 48.2L107.0 49.5L105.0 51.2L101.0 56.3L98.0 58.5L96.0 59.1L93.0 58.7L90.0 56.8L86.0 52.9L77.0 48.0L68.0 40.0L61.0 35.6L56.0 33.5L50.0 31.7L34.0 29.0ZM91.0 149.0L94.0 148.7L97.5 149.0L100.5 150.0L101.2 151.0L100.4 152.0L97.2 153.0L91.0 153.0L88.1 152.0L87.3 151.0L88.0 150.0L91.0 149.0Z" fill="#ccff33"/>
<path d="M55.4 29.0L188.0 29.0L188.0 77.1L183.0 77.7L166.0 76.1L160.0 74.6L152.0 71.8L146.0 69.0L141.0 65.9L137.0 62.6L127.7 54.0L119.0 48.8L115.0 47.0L111.0 46.4L107.3 47.0L103.6 49.0L100.0 52.7L99.0 53.3L97.0 53.6L95.0 53.2L87.9 48.0L79.0 42.7L67.0 34.4L61.0 31.3L55.4 29.0ZM92.3 149.0L98.0 149.3L100.0 150.0L100.7 151.0L99.9 152.0L97.0 152.8L91.0 152.8L88.6 152.0L87.8 151.0L89.0 149.8L92.3 149.0Z" fill="#ddff22"/>
<path d="M64.9 29.0L188.0 29.0L188.0 75.0L182.0 75.5L169.0 74.2L162.0 72.9L155.0 70.8L149.0 68.2L143.0 64.8L139.0 61.9L129.0 53.2L117.0 46.5L113.0 45.2L109.0 44.8L105.0 45.2L99.0 47.1L96.0 46.9L92.0 45.0L64.9 29.0ZM89.2 150.0L92.0 149.2L96.0 149.2L99.4 150.0L100.2 151.0L99.3 152.0L98.0 152.4L93.0 152.8L89.2 152.0L88.3 151.0L89.2 150.0Z" fill="#eeff11"/>
<path d="M72.4 29.0L188.0 29.0L188.0 72.5L182.0 73.1L171.0 72.1L162.0 70.6L155.0 68.6L144.0 63.0L140.0 60.3L130.9 53.0L117.0 45.2L111.0 43.3L100.0 42.5L95.0 41.3L86.0 36.9L72.4 29.0ZM89.8 150.0L93.0 149.3L96.0 149.4L98.8 150.0L99.7 151.0L98.0 152.2L93.0 152.7L89.8 152.0L88.8 151.0L89.8 150.0Z" fill="#ffff00"/>
<path d="M79.3 29.0L188.0 29.0L188.0 69.7L182.0 70.3L174.0 69.9L164.0 68.5L156.0 66.6L145.0 61.3L131.7 52.0L117.0 44.0L112.0 42.0L102.0 39.6L96.0 37.5L89.0 34.3L79.3 29.0ZM90.5 150.0L93.0 149.5L96.0 149.6L98.1 150.0L99.2 151.0L98.0 152.0L97.0 152.3L93.0 152.5L90.5 152.0L89.4 151.0L90.5 150.0Z" fill="#ffee00"/>
<path d="M85.9 29.0L188.0 29.0L188.0 66.6L180.0 67.3L172.0 67.0L162.0 65.6L156.1 64.0L144.0 58.3L134.3 52.0L126.0 48.0L117.0 42.6L97.0 34.5L85.9 29.0ZM91.3 150.0L96.0 149.8L97.3 150.0L98.6 151.0L97.0 152.1L92.0 152.1L89.9 151.0L91.3 150.0Z" fill="#ffdd00"/>
<path d="M92.2 29.0L188.0 29.0L188.0 63.4L179.0 64.1L172.0 64.0L163.0 62.8L156.0 60.9L144.0 55.9L135.7 51.0L126.0 46.9L116.0 40.7L92.2 29.0ZM92.3 150.0L96.3 150.0L98.0 151.0L96.2 152.0L92.3 152.0L90.6 151.0L92.3 150.0Z" fill="#ffcc00"/>
<path d="M97.8 29.0L188.0 29.0L188.0 60.1L177.0 60.8L169.0 60.5L161.0 59.1L151.0 55.9L143.1 53.0L137.0 49.8L127.0 46.3L118.0 40.3L97.8 29.0ZM91.3 151.0L94.0 150.1L96.0 150.4L97.3 151.0L96.0 151.6L94.0 151.9L91.3 151.0Z" fill="#ffbb00"/>
<path d="M102.4 29.0L188.0 29.0L188.0 56.7L174.0 57.3L165.0 56.4L148.9 52.0L139.0 48.3L129.0 46.0L126.8 45.0L119.0 39.4L102.4 29.0ZM92.2 151.0L94.0 150.5L96.3 151.0L94.0 151.5L92.2 151.0Z" fill="#ffaa00"/>
<path d="M106.2 29.0L188.0 29.0L188.0 53.3L175.0 53.7L167.0 53.1L153.0 49.7L143.0 46.3L133.0 45.5L129.0 44.7L127.0 43.7L120.0 38.4L106.2 29.0Z" fill="#ff9900"/>
<path d="M109.7 29.0L188.0 29.0L188.0 49.9L176.0 50.1L169.0 49.7L159.0 47.8L144.0 43.5L142.0 43.4L134.0 43.9L130.0 43.5L127.0 42.0L109.7 29.0Z" fill="#ff8800"/>
<path d="M113.0 29.0L188.0 29.0L188.0 46.6L176.0 46.6L168.0 46.0L144.0 41.1L134.0 41.9L130.0 41.6L127.0 40.0L113.0 29.0Z" fill="#ff7700"/>
<path d="M116.2 29.0L188.0 29.0L188.0 43.2L177.0 43.3L169.0 42.7L146.0 38.8L142.0 38.8L134.0 39.7L131.0 39.5L127.0 37.6L116.2 29.0Z" fill="#ff6600"/>
<path d="M119.5 29.0L188.0 29.0L188.0 39.9L171.0 39.5L147.0 36.4L132.0 37.0L130.0 36.5L127.0 34.9L119.5 29.0Z" fill="#ff5500"/>
<path d="M123.2 29.0L188.0 29.0L188.0 36.6L172.0 36.3L148.0 33.8L133.0 34.2L129.0 33.0L123.2 29.0Z" fill="#ff4400"/>
<path d="M127.8 29.0L188.0 29.0L188.0 33.3L173.0 33.1L149.0 31.2L135.0 31.3L131.0 30.5L127.8 29.0Z" fill="#ff3300"/>
<path d="M160.8 29.0L188.0 29.0L188.0 29.9L175.0 29.9L160.8 29.0Z" fill="#ff2200"/>
<path d="M53.0 55.7 L75.6 60.0 L75.4 56.2 L75.6 53.9 L75.6 49.3 L75.4 47.0 L75.9 42.5 L83.5 43.6 L83.8 41.5 L84.7 42.1 L85.3 45.6 L88.2 46.8 L91.4 46.8 L94.8 49.0 L96.9 50.7 L99.4 50.6 L103.7 51.6 L108.3 50.2 L121.5 58.8 L122.8 61.1 L124.3 62.8 L125.1 63.6 L126.7 65.1 L130.6 67.9 L131.0 80.9 L130.6 83.1 L129.4 84.3 L128.1 85.1 L127.9 86.5 L131.0 88.3 L136.8 85.3 L145.0 81.7 L144.7 79.2 L146.1 77.0 L153.8 76.6 L155.3 73.9 L157.6 72.0 L161.7 68.3 L174.4 66.9 L174.6 65.5 L175.8 65.0 L177.1 72.3 L177.6 75.6 L178.9 77.1 L178.7 78.3 L178.9 80.0 L178.7 81.7 L180.0 83.2 L182.6 82.6 L183.1 84.8 L180.3 85.7 L178.0 86.3 L176.8 87.0 L175.0 89.5 L171.0 91.7 L166.8 92.7 L167.1 95.5 L165.7 99.5 L163.8 102.2 L161.8 100.1 L160.6 98.8 L159.6 98.2 L163.0 98.0 L140.0 98.0 L138.0 96.5 L134.0 99.0 L128.0 101.6 L122.0 97.0 L120.0 96.8 L109.0 97.2 L98.5 97.5 L96.0 99.5 L85.0 99.8 L74.0 99.4 L71.5 97.6 L67.3 94.9 L62.3 95.1 L58.0 96.3 L52.0 98.4 L45.6 99.4 L46.4 88.4 L47.9 77.4Z" fill="#000" fill-opacity="0.30"/>
<path d="M53.0 55.7 L75.6 60.0 L75.4 56.2 L75.6 53.9 L75.6 49.3 L75.4 47.0 L75.9 42.5 L83.5 43.6 L83.8 41.5 L84.7 42.1 L85.3 45.6 L88.2 46.8 L91.4 46.8 L94.8 49.0 L96.9 50.7 L99.4 50.6 L103.7 51.6 L108.3 50.2 L121.5 58.8 L122.8 61.1 L124.3 62.8 L125.1 63.6 L126.7 65.1 L130.6 67.9 L131.0 80.9 L130.6 83.1 L129.4 84.3 L128.1 85.1 L127.9 86.5 L131.0 88.3 L136.8 85.3 L145.0 81.7 L144.7 79.2 L146.1 77.0 L153.8 76.6 L155.3 73.9 L157.6 72.0 L161.7 68.3 L174.4 66.9 L174.6 65.5 L175.8 65.0 L177.1 72.3 L177.6 75.6 L178.9 77.1 L178.7 78.3 L178.9 80.0 L178.7 81.7 L180.0 83.2 L182.6 82.6 L183.1 84.8 L180.3 85.7 L178.0 86.3 L176.8 87.0 L175.0 89.5 L171.0 91.7 L166.8 92.7 L167.1 95.5 L165.7 99.5 L163.8 102.2 L161.8 100.1 L160.6 98.8 L159.6 98.2 L163.0 98.0 L140.0 98.0 L138.0 96.5 L134.0 99.0 L128.0 101.6 L122.0 97.0 L120.0 96.8 L109.0 97.2 L98.5 97.5 L96.0 99.5 L85.0 99.8 L74.0 99.4 L71.5 97.6 L67.3 94.9 L62.3 95.1 L58.0 96.3 L52.0 98.4 L45.6 99.4 L46.4 88.4 L47.9 77.4Z" fill="none" stroke="#000" stroke-width="0.9" stroke-dasharray="0.9 1.1"/>
<path d="M103.2 31.0 L185.1 55.9 L185.7 76.0 L183.0 86.0 L162.6 117.5 L138.5 138.0 L102.0 149.2 L94.3 151.0 L77.5 148.7 L36.4 132.0 L48.0 64.2 L60.4 52.0Z" fill="none" stroke="#fff" stroke-opacity="0.45" stroke-width="2.6"/>
</g>
<path d="M103.0 30.4h0.01M60.1 51.9h0.01M48.2 63.7h0.01M67.5 60.2h0.01M85.8 66.3h0.01M54.3 82.9h0.01M71.8 83.8h0.01M121.8 68.9h0.01M127.0 80.3h0.01M155.7 60.2h0.01M53.4 101.9h0.01M72.4 98.4h0.01M43.5 114.1h0.01M62.2 117.6h0.01M36.8 130.9h0.01M61.3 130.9h0.01M110.0 133.9h0.01M120.5 133.4h0.01M94.2 137.9h0.01M101.6 95.4h0.01M111.2 117.3h0.01M94.3 150.0h0.01M162.3 116.4h0.01M184.5 57.5h0.01M183.5 84.5h0.01" fill="none" stroke="#0a0a30" stroke-width="3.0" stroke-linecap="round"/>
<use href="#bm"/>
</g>
<text transform="translate(21.0 359.9) rotate(14.4)" text-anchor="end" class="tl"><tspan>30</tspan><tspan class="dg" dy="-3.3">o</tspan><tspan dy="3.3">N</tspan></text>
<text transform="translate(29.3 327.3) rotate(14.4)" text-anchor="end" class="tl"><tspan>36</tspan><tspan class="dg" dy="-3.3">o</tspan><tspan dy="3.3">N</tspan></text>
<text transform="translate(37.6 294.9) rotate(14.4)" text-anchor="end" class="tl"><tspan>42</tspan><tspan class="dg" dy="-3.3">o</tspan><tspan dy="3.3">N</tspan></text>
<text transform="translate(45.9 262.4) rotate(14.4)" text-anchor="end" class="tl"><tspan>48</tspan><tspan class="dg" dy="-3.3">o</tspan><tspan dy="3.3">N</tspan></text>
<text transform="translate(54.4 229.3) rotate(14.4)" text-anchor="end" class="tl"><tspan>54</tspan><tspan class="dg" dy="-3.3">o</tspan><tspan dy="3.3">N</tspan></text>
<text transform="translate(46.6 401.1) rotate(10.5)" text-anchor="middle" class="tl"><tspan>99</tspan><tspan class="dg" dy="-3.3">o</tspan><tspan dy="3.3">W</tspan></text>
<text transform="translate(93.7 407.4) rotate(4.8)" text-anchor="middle" class="tl"><tspan>90</tspan><tspan class="dg" dy="-3.3">o</tspan><tspan dy="3.3">W</tspan></text>
<text transform="translate(141.2 409.0) rotate(-1.0)" text-anchor="middle" class="tl"><tspan>81</tspan><tspan class="dg" dy="-3.3">o</tspan><tspan dy="3.3">W</tspan></text>
<text transform="translate(188.6 405.8) rotate(-6.7)" text-anchor="middle" class="tl"><tspan>72</tspan><tspan class="dg" dy="-3.3">o</tspan><tspan dy="3.3">W</tspan></text>
<text transform="translate(235.5 397.9) rotate(-12.5)" text-anchor="middle" class="tl"><tspan>63</tspan><tspan class="dg" dy="-3.3">o</tspan><tspan dy="3.3">W</tspan></text>
<text transform="translate(0.9 233.3) scale(0.9 1)" class="pl">b</text>
<g transform="translate(2.02 429.87) scale(0.9976 0.9984)">
<g clip-path="url(#hull)">
<rect x="32" y="27" width="158" height="128" fill="#00aaff"/>
<path d="M34.0 29.0L188.0 29.0L188.0 151.5L183.0 151.8L178.5 153.0L61.8 153.0L56.0 151.9L48.9 153.0L34.0 153.0L34.0 29.0Z" fill="#00bbff"/>
<path d="M34.0 29.0L188.0 29.0L188.0 141.9L184.0 141.2L181.0 141.1L176.0 142.3L172.0 144.7L161.7 153.0L74.4 153.0L70.0 148.1L67.0 145.9L62.0 143.2L58.0 142.3L53.0 143.1L41.0 148.4L34.0 150.4L34.0 29.0Z" fill="#00ccff"/>
<path d="M34.0 29.0L188.0 29.0L188.0 133.2L182.0 130.6L178.0 129.5L175.0 129.2L172.0 129.9L170.0 131.2L168.0 133.3L161.6 142.0L157.1 147.0L153.0 150.2L147.7 153.0L78.2 153.0L76.6 151.0L76.7 149.0L78.0 146.0L77.0 144.5L71.2 140.0L67.0 137.4L63.0 135.7L59.0 135.0L55.0 135.4L51.0 136.6L47.0 138.4L40.0 142.5L34.0 144.6L34.0 29.0Z" fill="#00ddff"/>
<path d="M34.0 29.0L188.0 29.0L188.0 126.2L175.0 119.6L171.0 118.7L168.0 119.1L165.0 120.8L163.0 122.8L153.9 139.0L151.0 142.3L147.5 145.0L143.0 146.8L138.0 147.4L134.0 147.1L123.0 145.1L119.0 145.0L115.0 145.6L113.0 146.5L112.8 147.0L113.4 150.0L112.3 152.0L111.0 153.0L80.3 153.0L78.7 151.0L79.4 149.0L81.0 147.7L86.7 145.0L87.7 144.0L86.8 143.0L73.0 133.1L69.0 131.2L65.0 130.1L58.0 129.8L51.2 131.0L45.0 133.4L38.0 137.6L34.0 138.8L34.0 29.0Z" fill="#00eeff"/>
<path d="M34.0 29.0L188.0 29.0L188.0 120.8L177.0 115.1L172.0 113.2L168.0 112.9L163.7 114.0L158.0 116.7L153.9 120.0L150.0 125.0L145.0 135.0L143.0 137.0L141.0 137.5L139.0 137.1L137.0 136.2L131.0 132.2L128.0 130.8L124.0 129.5L121.0 129.2L118.0 129.5L115.0 130.4L106.0 135.4L102.2 137.0L99.0 137.4L96.0 137.1L89.0 134.7L80.0 129.1L75.7 127.0L71.0 125.5L66.0 124.9L58.0 125.2L50.0 126.5L45.0 128.0L34.0 132.5L34.0 29.0ZM89.9 146.0L97.0 145.5L104.0 146.5L107.0 147.6L109.0 148.9L109.9 150.0L110.0 151.0L109.4 152.0L108.2 153.0L81.8 153.0L80.7 152.0L80.2 151.0L80.4 150.0L81.2 149.0L84.0 147.4L89.9 146.0Z" fill="#00ffff"/>
<path d="M34.0 29.0L188.0 29.0L188.0 116.5L176.0 111.0L172.0 109.7L169.0 109.4L159.2 111.0L148.0 113.8L138.0 115.3L133.0 115.5L121.0 114.9L116.0 115.2L111.3 117.0L101.0 123.1L96.0 124.5L90.0 124.2L74.0 120.5L66.0 120.1L59.0 120.7L50.0 122.1L34.0 126.3L34.0 29.0ZM88.0 147.0L94.0 146.3L101.0 146.8L106.0 148.3L108.0 150.0L108.3 151.0L107.8 152.0L106.5 153.0L83.1 153.0L81.8 152.0L81.3 151.0L81.6 150.0L84.0 148.2L88.0 147.0Z" fill="#11ffee"/>
<path d="M34.0 29.0L188.0 29.0L188.0 112.9L177.0 108.6L170.0 107.0L163.0 107.4L149.0 109.2L137.0 109.8L116.0 109.3L112.0 110.0L99.0 115.3L93.0 116.8L87.0 117.0L74.0 115.8L67.0 115.8L57.0 116.9L34.0 120.7L34.0 29.0ZM91.2 147.0L96.0 146.8L102.0 147.6L105.6 149.0L106.7 150.0L107.0 151.0L106.5 152.0L105.1 153.0L84.2 153.0L82.8 152.0L82.3 151.0L83.0 149.6L85.0 148.4L87.0 147.7L91.2 147.0Z" fill="#22ffdd"/>
<path d="M34.0 29.0L188.0 29.0L188.0 109.8L178.0 106.5L170.0 105.0L163.0 105.0L148.0 106.1L139.0 106.3L117.0 105.7L110.0 106.6L96.0 110.6L90.0 111.7L84.0 112.0L70.0 111.7L59.0 112.8L44.0 115.0L34.0 115.5L34.0 29.0ZM87.5 148.0L93.0 147.2L100.0 147.6L104.3 149.0L105.6 150.0L106.0 151.0L105.4 152.0L103.9 153.0L85.2 153.0L83.7 152.0L83.2 151.0L83.5 150.0L85.0 148.9L87.5 148.0Z" fill="#33ffcc"/>
<path d="M34.0 29.0L188.0 29.0L188.0 107.0L178.0 104.2L169.0 103.0L160.0 102.8L142.0 103.5L119.0 102.6L108.0 103.5L93.0 106.7L87.0 107.6L71.0 108.1L45.0 111.0L40.0 110.9L34.0 110.3L34.0 29.0ZM89.1 148.0L94.0 147.5L99.0 147.8L103.2 149.0L104.7 150.0L105.1 151.0L104.5 152.0L102.9 153.0L86.1 153.0L84.5 152.0L84.0 151.0L84.3 150.0L86.0 148.9L89.1 148.0Z" fill="#44ffbb"/>
<path d="M34.0 29.0L188.0 29.0L188.0 104.4L178.0 102.1L165.0 100.8L156.0 100.5L142.0 100.9L122.0 99.5L106.0 100.3L86.0 103.7L51.0 106.7L42.0 106.5L34.0 104.6L34.0 29.0ZM90.9 148.0L95.0 147.7L100.0 148.3L103.0 149.4L103.8 150.0L104.3 151.0L103.7 152.0L101.9 153.0L87.1 153.0L85.2 152.0L84.7 151.0L85.1 150.0L87.0 148.9L90.9 148.0Z" fill="#55ffaa"/>
<path d="M34.0 29.0L188.0 29.0L188.0 102.0L179.0 100.2L161.0 98.3L152.0 97.9L142.0 98.2L131.0 96.9L123.0 96.4L103.0 96.7L84.0 100.0L57.0 102.9L51.0 102.9L46.0 102.4L42.0 101.5L38.0 100.0L34.0 97.8L34.0 29.0ZM87.7 149.0L92.0 148.1L98.0 148.3L102.0 149.4L103.0 150.0L103.5 151.0L102.9 152.0L100.9 153.0L88.0 153.0L86.0 152.0L85.4 151.0L85.9 150.0L87.7 149.0Z" fill="#66ff99"/>
<path d="M34.0 29.0L188.0 29.0L188.0 99.5L180.0 98.2L170.0 97.4L158.0 95.4L151.0 94.9L142.0 95.2L133.0 93.6L126.0 92.9L114.0 92.7L106.0 92.1L98.0 92.7L86.0 95.4L74.0 97.5L60.0 99.3L52.7 99.0L48.2 98.0L45.0 96.8L41.5 95.0L38.8 93.0L36.0 90.3L34.0 87.7L34.0 29.0ZM88.7 149.0L93.0 148.3L98.0 148.5L101.0 149.3L102.2 150.0L102.8 151.0L102.1 152.0L99.9 153.0L88.9 153.0L86.7 152.0L86.0 151.0L86.6 150.0L88.7 149.0Z" fill="#77ff88"/>
<path d="M34.0 29.0L188.0 29.0L188.0 97.1L180.0 96.0L170.0 95.2L161.0 92.9L153.0 91.4L142.0 90.8L133.0 89.4L106.0 86.5L102.0 86.6L98.0 87.1L72.0 93.3L62.0 95.0L57.0 95.2L52.0 93.7L47.2 91.0L43.2 87.0L40.6 82.0L39.6 77.0L39.9 72.0L41.5 67.0L44.2 62.0L49.4 55.0L49.6 53.0L48.0 51.2L45.9 50.0L40.4 48.0L34.0 46.4L34.0 29.0ZM89.7 149.0L94.0 148.5L98.0 148.8L101.5 150.0L102.1 151.0L101.4 152.0L98.8 153.0L89.9 153.0L87.4 152.0L86.7 151.0L87.3 150.0L89.7 149.0Z" fill="#88ff77"/>
<path d="M34.0 29.0L188.0 29.0L188.0 94.7L171.0 92.7L158.0 88.6L153.0 87.4L141.0 85.3L128.0 84.1L117.0 81.7L112.0 81.1L100.0 81.4L88.0 84.1L73.0 86.1L63.0 88.3L59.0 88.2L56.0 87.3L52.0 84.5L49.5 81.0L48.2 77.0L48.1 72.0L49.4 68.0L50.9 65.0L53.5 62.0L59.4 57.0L60.6 55.0L60.8 53.0L59.8 51.0L58.0 49.0L52.0 45.1L44.0 42.0L34.0 39.3L34.0 29.0ZM90.9 149.0L94.0 148.7L97.8 149.0L100.8 150.0L101.4 151.0L100.7 152.0L97.5 153.0L91.0 153.0L88.1 152.0L87.3 151.0L88.0 150.0L90.9 149.0Z" fill="#99ff66"/>
<path d="M34.0 29.0L188.0 29.0L188.0 92.3L173.0 90.0L156.0 84.3L142.0 81.3L131.0 79.9L122.0 77.5L117.0 76.6L111.0 76.4L104.0 76.8L89.0 79.2L83.0 79.6L72.0 78.7L64.0 78.9L60.0 77.9L58.0 76.8L56.4 75.0L55.4 73.0L55.0 70.0L55.4 68.0L56.4 66.0L61.7 61.0L63.5 58.0L64.1 54.0L63.0 50.0L61.0 47.3L59.0 45.3L53.0 41.3L45.0 37.6L34.0 34.1L34.0 29.0ZM92.7 149.0L98.0 149.3L100.0 150.0L100.8 151.0L99.9 152.0L97.0 152.8L93.2 153.0L91.0 152.7L88.8 152.0L87.9 151.0L89.0 149.9L92.7 149.0Z" fill="#aaff55"/>
<path d="M34.0 29.0L188.0 29.0L188.0 89.8L176.0 87.5L158.0 81.8L149.0 80.1L136.0 77.2L126.0 73.8L122.0 72.8L117.0 72.3L111.0 72.4L91.0 74.9L86.0 75.2L79.0 74.3L71.3 72.0L67.6 70.0L66.1 68.0L66.0 66.0L67.1 59.0L66.9 54.0L65.3 49.0L62.5 45.0L58.0 40.9L52.0 37.0L44.0 33.2L34.0 29.6L34.0 29.0ZM89.5 150.0L93.0 149.2L96.0 149.2L99.2 150.0L100.1 151.0L99.1 152.0L98.0 152.4L93.0 152.7L89.6 152.0L88.6 151.0L89.5 150.0Z" fill="#bbff44"/>
<path d="M42.9 29.0L188.0 29.0L188.0 87.2L179.0 85.4L170.0 82.4L160.8 80.0L149.0 77.8L140.0 75.5L135.0 73.8L127.0 70.1L123.0 69.0L119.0 68.6L114.0 68.7L90.0 71.4L85.0 71.1L81.0 70.0L76.0 67.2L73.0 64.0L71.7 61.0L67.9 49.0L66.0 45.7L63.0 42.0L59.0 38.3L55.0 35.4L49.0 31.9L42.9 29.0ZM90.3 150.0L93.0 149.5L96.0 149.5L98.3 150.0L99.4 151.0L98.0 152.1L93.0 152.5L90.0 151.7L89.3 151.0L90.3 150.0Z" fill="#ccff33"/>
<path d="M49.8 29.0L188.0 29.0L188.0 84.6L181.0 83.1L170.0 79.6L151.0 76.1L144.0 74.3L137.0 71.9L128.0 67.2L122.0 65.6L115.0 65.2L102.0 67.1L94.0 67.8L89.0 67.7L85.0 66.8L80.4 64.0L76.0 59.4L73.0 54.8L68.9 46.0L64.3 40.0L58.0 34.4L49.8 29.0ZM91.4 150.0L96.0 149.8L97.3 150.0L98.6 151.0L97.0 152.1L92.0 152.1L90.0 151.0L91.4 150.0Z" fill="#ddff22"/>
<path d="M54.9 29.0L188.0 29.0L188.0 82.0L183.0 80.9L170.0 77.1L154.0 74.7L146.0 72.8L139.0 70.3L129.0 65.0L120.0 62.3L114.0 62.1L104.0 64.1L98.0 64.7L92.0 64.4L88.0 63.3L84.0 60.8L78.0 55.4L75.0 51.8L70.3 44.0L66.4 39.0L61.0 33.7L54.9 29.0ZM92.8 150.0L95.8 150.0L97.8 151.0L95.7 152.0L92.9 152.0L90.9 151.0L92.8 150.0Z" fill="#eeff11"/>
<path d="M59.0 29.0L188.0 29.0L188.0 79.3L171.0 74.9L156.0 73.1L148.0 71.3L141.0 68.9L129.0 62.6L123.0 60.4L118.0 59.1L114.0 59.0L105.0 61.4L100.0 62.1L96.0 62.0L91.8 61.0L88.0 58.9L78.5 51.0L67.4 37.0L59.0 29.0ZM91.9 151.0L94.0 150.4L96.7 151.0L94.0 151.6L91.9 151.0Z" fill="#ffff00"/>
<path d="M62.6 29.0L188.0 29.0L188.0 76.5L172.0 72.6L157.0 71.4L150.4 70.0L142.0 67.1L129.0 60.3L121.0 57.2L117.0 56.1L113.0 56.2L106.0 58.7L102.0 59.6L98.0 59.7L94.0 58.8L90.0 56.6L79.3 48.0L69.0 35.6L62.6 29.0Z" fill="#ffee00"/>
<path d="M65.7 29.0L188.0 29.0L188.0 73.7L172.0 70.1L167.0 69.6L157.0 69.4L153.0 68.6L144.0 65.5L132.0 59.4L121.0 54.6L117.0 53.4L115.0 53.3L113.0 53.6L106.0 56.3L102.0 57.4L98.0 57.4L95.0 56.5L91.0 54.2L80.7 46.0L65.7 29.0Z" fill="#ffdd00"/>
<path d="M68.7 29.0L188.0 29.0L188.0 70.9L172.0 67.4L167.0 67.1L158.0 67.3L155.0 66.9L146.0 63.8L134.0 57.9L122.0 52.6L118.0 51.3L115.0 51.0L113.0 51.3L102.0 55.2L100.0 55.4L97.0 54.8L92.0 52.2L82.9 45.0L78.9 41.0L68.7 29.0Z" fill="#ffcc00"/>
<path d="M71.5 29.0L188.0 29.0L188.0 67.9L172.0 64.6L167.0 64.4L158.0 64.6L154.3 64.0L146.2 61.0L122.0 50.1L118.0 49.0L115.0 48.9L112.0 49.4L102.0 53.0L100.0 53.2L98.0 52.8L93.0 50.3L84.8 44.0L80.0 39.1L71.5 29.0Z" fill="#ffbb00"/>
<path d="M74.3 29.0L188.0 29.0L188.0 64.8L173.0 61.7L168.0 61.4L159.0 61.4L154.0 60.6L146.0 57.8L123.0 48.0L119.0 46.9L116.0 46.7L113.0 47.1L102.0 50.6L98.0 50.4L93.0 47.9L86.0 42.4L81.7 38.0L74.3 29.0Z" fill="#ffaa00"/>
<path d="M76.9 29.0L188.0 29.0L188.0 61.5L173.0 58.5L159.0 57.6L152.0 56.3L144.0 53.8L124.4 46.0L120.0 44.8L117.0 44.5L114.0 44.7L102.0 48.2L98.0 47.9L93.0 45.4L88.0 41.6L83.5 37.0L76.9 29.0Z" fill="#ff9900"/>
<path d="M79.6 29.0L188.0 29.0L188.0 58.1L173.0 55.0L160.0 53.8L150.0 52.2L140.0 49.2L125.0 43.5L120.0 42.3L117.0 42.1L114.0 42.5L103.0 45.7L100.0 45.9L98.0 45.5L94.0 43.7L89.2 40.0L85.0 35.7L79.6 29.0Z" fill="#ff8800"/>
<path d="M82.3 29.0L188.0 29.0L188.0 54.6L173.0 51.5L155.0 49.4L148.0 48.1L140.0 45.9L126.0 41.0L121.0 39.9L115.0 39.9L104.0 43.3L101.0 43.6L99.0 43.4L95.0 41.8L91.1 39.0L87.1 35.0L82.3 29.0Z" fill="#ff7700"/>
<path d="M85.1 29.0L188.0 29.0L188.0 51.1L173.0 48.1L148.0 44.6L141.0 42.9L127.0 38.5L121.0 37.3L115.0 37.3L104.0 41.0L101.0 41.3L99.0 41.1L96.0 39.9L93.0 37.9L89.1 34.0L85.1 29.0Z" fill="#ff6600"/>
<path d="M88.0 29.0L188.0 29.0L188.0 47.6L173.0 44.7L149.0 41.3L128.0 35.9L121.0 34.7L117.0 34.6L114.0 35.0L104.0 38.6L100.0 38.9L97.0 37.9L94.3 36.0L88.0 29.0Z" fill="#ff5500"/>
<path d="M91.2 29.0L188.0 29.0L188.0 44.0L173.0 41.3L149.0 37.8L129.0 33.1L122.0 32.1L118.0 32.0L114.0 32.4L104.0 35.9L100.0 36.3L98.0 35.5L96.0 34.1L91.2 29.0Z" fill="#ff4400"/>
<path d="M95.0 29.0L188.0 29.0L188.0 40.5L173.0 37.9L150.0 34.5L125.0 29.6L120.0 29.2L115.0 29.6L102.0 32.9L99.0 32.2L95.0 29.0Z" fill="#ff3300"/>
<path d="M139.1 29.0L188.0 29.0L188.0 37.0L151.0 31.2L139.1 29.0Z" fill="#ff2200"/>
<path d="M159.3 29.0L188.0 29.0L188.0 33.5L159.3 29.0Z" fill="#ff1100"/>
<path d="M182.5 29.0L188.0 29.0L188.0 29.9L182.5 29.0Z" fill="#ff0000"/>
<path d="M53.0 55.7 L75.6 60.0 L75.4 56.2 L75.6 53.9 L75.6 49.3 L75.4 47.0 L75.9 42.5 L83.5 43.6 L83.8 41.5 L84.7 42.1 L85.3 45.6 L88.2 46.8 L91.4 46.8 L94.8 49.0 L96.9 50.7 L99.4 50.6 L103.7 51.6 L108.3 50.2 L121.5 58.8 L122.8 61.1 L124.3 62.8 L125.1 63.6 L126.7 65.1 L130.6 67.9 L131.0 80.9 L130.6 83.1 L129.4 84.3 L128.1 85.1 L127.9 86.5 L131.0 88.3 L136.8 85.3 L145.0 81.7 L144.7 79.2 L146.1 77.0 L153.8 76.6 L155.3 73.9 L157.6 72.0 L161.7 68.3 L174.4 66.9 L174.6 65.5 L175.8 65.0 L177.1 72.3 L177.6 75.6 L178.9 77.1 L178.7 78.3 L178.9 80.0 L178.7 81.7 L180.0 83.2 L182.6 82.6 L183.1 84.8 L180.3 85.7 L178.0 86.3 L176.8 87.0 L175.0 89.5 L171.0 91.7 L166.8 92.7 L167.1 95.5 L165.7 99.5 L163.8 102.2 L161.8 100.1 L160.6 98.8 L159.6 98.2 L163.0 98.0 L140.0 98.0 L138.0 96.5 L134.0 99.0 L128.0 101.6 L122.0 97.0 L120.0 96.8 L109.0 97.2 L98.5 97.5 L96.0 99.5 L85.0 99.8 L74.0 99.4 L71.5 97.6 L67.3 94.9 L62.3 95.1 L58.0 96.3 L52.0 98.4 L45.6 99.4 L46.4 88.4 L47.9 77.4Z" fill="#000" fill-opacity="0.30"/>
<path d="M53.0 55.7 L75.6 60.0 L75.4 56.2 L75.6 53.9 L75.6 49.3 L75.4 47.0 L75.9 42.5 L83.5 43.6 L83.8 41.5 L84.7 42.1 L85.3 45.6 L88.2 46.8 L91.4 46.8 L94.8 49.0 L96.9 50.7 L99.4 50.6 L103.7 51.6 L108.3 50.2 L121.5 58.8 L122.8 61.1 L124.3 62.8 L125.1 63.6 L126.7 65.1 L130.6 67.9 L131.0 80.9 L130.6 83.1 L129.4 84.3 L128.1 85.1 L127.9 86.5 L131.0 88.3 L136.8 85.3 L145.0 81.7 L144.7 79.2 L146.1 77.0 L153.8 76.6 L155.3 73.9 L157.6 72.0 L161.7 68.3 L174.4 66.9 L174.6 65.5 L175.8 65.0 L177.1 72.3 L177.6 75.6 L178.9 77.1 L178.7 78.3 L178.9 80.0 L178.7 81.7 L180.0 83.2 L182.6 82.6 L183.1 84.8 L180.3 85.7 L178.0 86.3 L176.8 87.0 L175.0 89.5 L171.0 91.7 L166.8 92.7 L167.1 95.5 L165.7 99.5 L163.8 102.2 L161.8 100.1 L160.6 98.8 L159.6 98.2 L163.0 98.0 L140.0 98.0 L138.0 96.5 L134.0 99.0 L128.0 101.6 L122.0 97.0 L120.0 96.8 L109.0 97.2 L98.5 97.5 L96.0 99.5 L85.0 99.8 L74.0 99.4 L71.5 97.6 L67.3 94.9 L62.3 95.1 L58.0 96.3 L52.0 98.4 L45.6 99.4 L46.4 88.4 L47.9 77.4Z" fill="none" stroke="#000" stroke-width="0.9" stroke-dasharray="0.9 1.1"/>
<path d="M103.2 31.0 L185.1 55.9 L185.7 76.0 L183.0 86.0 L162.6 117.5 L138.5 138.0 L102.0 149.2 L94.3 151.0 L77.5 148.7 L36.4 132.0 L48.0 64.2 L60.4 52.0Z" fill="none" stroke="#fff" stroke-opacity="0.45" stroke-width="2.6"/>
</g>
<path d="M103.0 30.4h0.01M60.1 51.9h0.01M48.2 63.7h0.01M67.5 60.2h0.01M85.8 66.3h0.01M54.3 82.9h0.01M71.8 83.8h0.01M121.8 68.9h0.01M127.0 80.3h0.01M155.7 60.2h0.01M53.4 101.9h0.01M72.4 98.4h0.01M43.5 114.1h0.01M62.2 117.6h0.01M36.8 130.9h0.01M61.3 130.9h0.01M110.0 133.9h0.01M120.5 133.4h0.01M94.2 137.9h0.01M101.6 95.4h0.01M111.2 117.3h0.01M94.3 150.0h0.01M162.3 116.4h0.01M184.5 57.5h0.01M183.5 84.5h0.01" fill="none" stroke="#0a0a30" stroke-width="3.0" stroke-linecap="round"/>
<use href="#bm"/>
</g>
<text transform="translate(19.3 573.0) rotate(14.4)" text-anchor="end" class="tl"><tspan>30</tspan><tspan class="dg" dy="-3.3">o</tspan><tspan dy="3.3">N</tspan></text>
<text transform="translate(27.7 540.2) rotate(14.4)" text-anchor="end" class="tl"><tspan>36</tspan><tspan class="dg" dy="-3.3">o</tspan><tspan dy="3.3">N</tspan></text>
<text transform="translate(36.1 507.6) rotate(14.4)" text-anchor="end" class="tl"><tspan>42</tspan><tspan class="dg" dy="-3.3">o</tspan><tspan dy="3.3">N</tspan></text>
<text transform="translate(44.5 474.8) rotate(14.4)" text-anchor="end" class="tl"><tspan>48</tspan><tspan class="dg" dy="-3.3">o</tspan><tspan dy="3.3">N</tspan></text>
<text transform="translate(53.0 441.5) rotate(14.4)" text-anchor="end" class="tl"><tspan>54</tspan><tspan class="dg" dy="-3.3">o</tspan><tspan dy="3.3">N</tspan></text>
<text transform="translate(45.1 614.4) rotate(10.5)" text-anchor="middle" class="tl"><tspan>99</tspan><tspan class="dg" dy="-3.3">o</tspan><tspan dy="3.3">W</tspan></text>
<text transform="translate(92.5 620.8) rotate(4.8)" text-anchor="middle" class="tl"><tspan>90</tspan><tspan class="dg" dy="-3.3">o</tspan><tspan dy="3.3">W</tspan></text>
<text transform="translate(140.3 622.4) rotate(-1.0)" text-anchor="middle" class="tl"><tspan>81</tspan><tspan class="dg" dy="-3.3">o</tspan><tspan dy="3.3">W</tspan></text>
<text transform="translate(188.0 619.2) rotate(-6.7)" text-anchor="middle" class="tl"><tspan>72</tspan><tspan class="dg" dy="-3.3">o</tspan><tspan dy="3.3">W</tspan></text>
<text transform="translate(235.2 611.2) rotate(-12.5)" text-anchor="middle" class="tl"><tspan>63</tspan><tspan class="dg" dy="-3.3">o</tspan><tspan dy="3.3">W</tspan></text>
<text transform="translate(1.3 451.2) scale(0.9 1)" class="pl">c</text>
<g transform="translate(272.00 -1.79) scale(0.9874 0.9838)">
<g clip-path="url(#hull)">
<rect x="32" y="27" width="158" height="128" fill="#0000cc"/>
<path d="M34.0 29.0L188.0 29.0L188.0 151.0L185.6 153.0L34.0 153.0L34.0 29.0Z" fill="#0000dd"/>
<path d="M34.0 29.0L188.0 29.0L188.0 148.0L182.1 153.0L34.0 153.0L34.0 29.0Z" fill="#0000ee"/>
<path d="M34.0 29.0L188.0 29.0L188.0 145.0L178.5 153.0L34.0 153.0L34.0 29.0Z" fill="#0000ff"/>
<path d="M34.0 29.0L188.0 29.0L188.0 141.8L174.8 153.0L34.0 153.0L34.0 29.0Z" fill="#0011ff"/>
<path d="M34.0 29.0L188.0 29.0L188.0 138.7L178.0 147.5L171.0 153.0L34.0 153.0L34.0 29.0Z" fill="#0022ff"/>
<path d="M34.0 29.0L188.0 29.0L188.0 135.5L175.0 147.0L167.0 153.0L34.0 153.0L34.0 29.0Z" fill="#0033ff"/>
<path d="M34.0 29.0L188.0 29.0L188.0 132.3L172.5 146.0L162.8 153.0L34.0 153.0L34.0 29.0Z" fill="#0044ff"/>
<path d="M34.0 29.0L188.0 29.0L188.0 129.2L169.0 145.8L163.2 150.0L158.2 153.0L34.0 153.0L34.0 29.0Z" fill="#0055ff"/>
<path d="M34.0 29.0L188.0 29.0L188.0 126.1L165.0 145.8L158.8 150.0L152.7 153.0L34.0 153.0L34.0 29.0Z" fill="#0066ff"/>
<path d="M34.0 29.0L188.0 29.0L188.0 123.1L179.5 130.0L167.0 141.1L161.0 145.7L153.6 150.0L146.0 152.5L143.1 153.0L134.6 153.0L118.0 150.3L115.0 150.9L111.3 153.0L75.7 153.0L69.0 150.3L64.0 149.3L60.0 149.0L55.0 149.7L46.9 153.0L34.0 153.0L34.0 29.0Z" fill="#0077ff"/>
<path d="M34.0 29.0L188.0 29.0L188.0 120.2L179.0 127.1L165.5 139.0L160.0 143.3L153.0 147.6L146.0 150.0L141.0 150.6L136.0 150.4L120.0 146.8L115.0 146.3L112.0 147.0L111.2 151.0L108.9 153.0L78.8 153.0L77.2 152.0L74.6 149.0L73.0 148.0L64.0 145.4L59.0 144.7L54.0 145.6L44.0 150.6L40.0 152.3L37.5 153.0L34.0 153.0L34.0 29.0Z" fill="#0088ff"/>
<path d="M34.0 29.0L188.0 29.0L188.0 117.4L176.3 126.0L158.0 141.6L152.0 145.2L146.0 147.4L142.0 148.0L137.0 147.8L132.0 146.8L119.0 143.1L113.0 142.6L107.0 143.9L104.7 145.0L105.2 146.0L109.0 148.9L109.5 150.0L109.5 151.0L108.8 152.0L107.4 153.0L80.6 153.0L78.4 151.0L78.2 149.0L79.0 147.0L78.1 146.0L62.0 141.2L58.0 140.6L56.0 140.8L53.0 141.8L42.0 148.1L38.0 149.7L34.0 150.6L34.0 29.0Z" fill="#0099ff"/>
<path d="M34.0 29.0L188.0 29.0L188.0 114.7L174.6 124.0L161.0 135.7L155.4 140.0L150.0 143.2L145.0 144.9L141.0 145.3L137.0 144.9L121.0 140.2L115.0 139.1L111.0 139.6L94.0 143.5L90.0 143.9L86.0 143.7L76.0 142.0L62.0 138.0L57.0 137.3L54.0 137.7L51.0 138.7L48.0 140.3L41.0 145.1L38.0 146.4L34.0 147.4L34.0 29.0ZM90.5 145.0L92.0 144.7L97.0 145.2L103.0 146.6L107.0 148.6L108.2 150.0L108.2 151.0L107.6 152.0L106.2 153.0L81.9 153.0L80.5 152.0L79.8 151.0L79.8 150.0L81.0 148.3L84.0 146.5L87.0 145.4L90.5 145.0Z" fill="#00aaff"/>
<path d="M34.0 29.0L188.0 29.0L188.0 112.1L172.8 122.0L153.1 138.0L148.0 140.9L144.0 142.2L141.0 142.4L137.8 142.0L124.0 137.7L117.0 136.3L111.0 136.6L96.0 139.8L87.0 140.4L79.0 139.4L62.0 135.1L56.0 134.5L52.0 134.9L48.3 136.0L46.0 137.3L39.0 142.5L34.0 144.0L34.0 29.0ZM86.1 147.0L92.0 146.1L100.0 146.6L103.0 147.4L106.0 148.8L107.1 150.0L107.2 151.0L106.7 152.0L105.2 153.0L83.0 153.0L81.6 152.0L80.9 151.0L81.0 150.0L83.0 148.1L86.1 147.0Z" fill="#00bbff"/>
<path d="M34.0 29.0L188.0 29.0L188.0 109.7L171.0 120.0L157.0 131.0L150.0 136.0L146.0 138.2L143.0 139.1L139.0 138.8L126.0 135.0L118.0 133.6L112.0 133.7L97.0 136.5L87.0 137.1L78.0 136.0L61.0 132.4L53.0 131.8L49.0 132.0L45.5 133.0L43.0 134.5L38.0 139.0L34.0 140.2L34.0 29.0ZM88.9 147.0L95.0 146.6L101.0 147.3L105.2 149.0L106.2 150.0L106.4 151.0L105.8 152.0L104.3 153.0L84.0 153.0L82.5 152.0L81.9 151.0L82.0 150.0L84.0 148.4L88.9 147.0Z" fill="#00ccff"/>
<path d="M34.0 29.0L188.0 29.0L188.0 107.3L182.0 111.1L169.1 118.0L157.0 126.7L151.0 130.5L146.0 133.3L143.0 134.3L139.0 134.4L125.0 131.5L117.0 130.7L110.0 131.1L96.0 133.2L86.0 133.4L78.0 132.6L60.0 129.8L47.0 128.6L44.0 128.8L42.0 129.6L36.0 133.6L34.0 134.5L34.0 29.0ZM86.3 148.0L92.0 147.0L99.0 147.3L104.0 148.9L105.4 150.0L105.7 151.0L105.1 152.0L103.5 153.0L84.9 153.0L83.3 152.0L82.7 151.0L82.9 150.0L84.0 149.0L86.3 148.0Z" fill="#00ddff"/>
<path d="M34.0 29.0L188.0 29.0L188.0 104.9L182.0 108.8L169.2 115.0L153.0 124.5L146.0 127.4L140.0 128.9L135.0 129.1L117.0 127.8L110.0 128.2L96.0 129.8L83.0 129.7L59.0 127.4L44.0 124.9L40.0 125.6L34.0 127.9L34.0 29.0ZM87.7 148.0L93.0 147.3L99.0 147.6L103.4 149.0L104.7 150.0L105.0 151.0L104.4 152.0L102.7 153.0L85.7 153.0L84.0 152.0L83.4 151.0L83.7 150.0L85.0 149.0L87.7 148.0Z" fill="#00eeff"/>
<path d="M34.0 29.0L188.0 29.0L188.0 102.5L180.0 107.7L170.0 112.0L153.0 120.0L147.0 122.0L136.0 124.5L130.0 124.9L118.0 124.7L99.0 126.3L93.0 126.5L76.0 126.2L62.0 125.3L57.0 124.8L43.0 122.1L34.0 123.1L34.0 29.0ZM89.1 148.0L94.0 147.5L99.0 148.0L102.5 149.0L104.0 150.0L104.4 151.0L103.7 152.0L101.9 153.0L86.5 153.0L84.7 152.0L84.1 151.0L84.4 150.0L86.0 148.9L89.1 148.0Z" fill="#00ffff"/>
<path d="M34.0 29.0L188.0 29.0L188.0 100.1L183.0 103.9L179.0 106.2L164.0 112.1L149.0 117.4L134.0 120.5L115.0 121.4L97.0 123.0L70.0 123.3L59.0 122.7L44.0 119.7L34.0 119.2L34.0 29.0ZM90.8 148.0L95.0 147.8L100.0 148.4L103.0 149.7L103.8 151.0L103.1 152.0L101.2 153.0L87.3 153.0L85.3 152.0L84.7 151.0L85.1 150.0L87.0 148.8L90.8 148.0Z" fill="#11ffee"/>
<path d="M34.0 29.0L188.0 29.0L188.0 97.7L181.0 103.1L174.0 106.4L164.0 109.8L151.0 113.5L134.0 116.7L114.0 117.8L96.0 119.7L65.0 120.7L57.0 120.1L45.0 117.5L34.0 115.7L34.0 29.0ZM87.5 149.0L92.0 148.1L98.0 148.3L102.0 149.5L102.7 150.0L103.2 151.0L102.5 152.0L100.4 153.0L88.1 153.0L85.9 152.0L85.3 151.0L85.7 150.0L87.5 149.0Z" fill="#22ffdd"/>
<path d="M34.0 29.0L188.0 29.0L188.0 95.2L180.0 101.6L176.0 103.8L172.0 105.3L164.0 107.7L151.0 110.7L135.0 113.2L115.0 114.0L94.0 116.6L63.0 118.3L54.0 117.2L40.4 114.0L34.0 112.1L34.0 29.0ZM88.3 149.0L93.0 148.2L98.0 148.5L101.0 149.4L102.1 150.0L102.6 151.0L101.9 152.0L99.6 153.0L88.9 153.0L86.5 152.0L85.8 151.0L86.3 150.0L88.3 149.0Z" fill="#33ffcc"/>
<path d="M34.0 29.0L188.0 29.0L188.0 92.6L180.7 99.0L177.0 101.4L173.6 103.0L164.0 105.8L147.0 108.8L133.0 110.3L114.0 110.5L91.0 113.7L64.0 115.8L59.0 115.7L55.0 115.1L40.0 110.9L34.0 108.0L34.0 29.0ZM89.2 149.0L93.0 148.4L98.0 148.7L101.0 149.7L102.1 151.0L101.4 152.0L98.8 153.0L89.7 153.0L87.1 152.0L86.4 151.0L86.9 150.0L89.2 149.0Z" fill="#44ffbb"/>
<path d="M34.0 29.0L188.0 29.0L188.0 89.9L180.0 97.3L174.0 101.1L166.0 103.5L153.0 105.6L134.0 107.4L113.0 107.6L88.0 110.9L63.0 113.2L59.0 113.2L55.0 112.6L44.0 109.4L39.4 107.0L34.0 102.9L34.0 29.0ZM90.1 149.0L94.0 148.6L98.0 148.9L101.0 150.0L101.6 151.0L100.8 152.0L97.8 153.0L90.7 153.0L87.7 152.0L86.9 151.0L87.5 150.0L90.1 149.0Z" fill="#55ffaa"/>
<path d="M34.0 29.0L188.0 29.0L188.0 87.3L179.8 95.0L174.3 99.0L169.0 101.0L161.0 102.6L137.0 104.5L111.0 104.9L61.0 110.5L56.0 110.1L49.1 108.0L44.7 106.0L40.4 103.0L36.6 99.0L34.0 95.0L34.0 29.0ZM91.3 149.0L95.0 148.8L98.0 149.2L100.4 150.0L101.0 151.0L100.2 152.0L97.0 152.9L91.0 152.8L88.3 152.0L87.5 151.0L88.2 150.0L91.3 149.0Z" fill="#66ff99"/>
<path d="M34.0 29.0L188.0 29.0L188.0 84.8L178.0 94.0L174.2 97.0L170.0 98.9L164.0 100.1L157.0 101.0L143.0 101.8L108.0 102.3L77.0 105.0L61.0 107.1L57.4 107.0L53.7 106.0L48.0 103.4L43.7 100.0L39.9 95.0L37.5 89.0L36.7 84.0L36.8 79.0L37.5 74.0L39.4 66.0L39.6 63.0L39.0 61.4L38.0 60.5L34.0 59.3L34.0 29.0ZM93.0 149.0L98.0 149.4L99.7 150.0L100.5 151.0L99.6 152.0L96.0 152.9L93.0 152.9L90.0 152.4L88.9 152.0L88.0 151.0L88.8 150.0L93.0 149.0Z" fill="#77ff88"/>
<path d="M34.0 29.0L188.0 29.0L188.0 82.4L172.0 96.0L169.0 97.1L163.0 98.1L155.0 99.0L106.0 99.5L76.0 100.9L62.0 102.7L58.0 102.5L55.0 101.7L51.0 99.6L47.8 97.0L44.9 93.0L43.0 88.5L42.1 82.0L42.6 76.0L43.7 72.0L48.7 59.0L49.1 57.0L48.8 56.0L48.0 55.0L45.5 54.0L41.0 53.5L34.0 53.8L34.0 29.0ZM89.5 150.0L93.0 149.2L96.0 149.3L99.1 150.0L100.0 151.0L99.0 152.0L98.0 152.3L93.0 152.7L89.6 152.0L88.6 151.0L89.5 150.0Z" fill="#88ff77"/>
<path d="M34.0 29.0L188.0 29.0L188.0 80.3L171.0 93.6L167.0 95.0L159.0 96.2L75.0 96.3L63.0 97.2L60.0 97.0L57.0 96.2L53.0 93.9L49.6 90.0L47.5 85.0L46.8 80.0L47.3 74.0L49.5 67.0L51.3 63.0L55.8 56.0L56.2 54.0L55.7 53.0L54.5 52.0L52.0 51.0L49.0 50.4L42.0 49.9L34.0 50.3L34.0 29.0ZM90.2 150.0L93.0 149.4L96.0 149.5L98.4 150.0L99.4 151.0L98.0 152.1L93.0 152.5L90.0 151.8L89.2 151.0L90.2 150.0Z" fill="#99ff66"/>
<path d="M34.0 29.0L188.0 29.0L188.0 78.3L170.0 90.3L166.0 91.8L159.0 92.8L114.0 93.1L88.0 92.4L74.0 91.2L64.0 91.2L60.0 90.5L56.0 88.4L53.0 85.0L51.4 81.0L50.8 76.0L51.2 72.0L52.5 67.0L54.0 63.9L58.8 57.0L59.7 55.0L59.9 53.0L59.0 51.5L57.0 50.0L52.0 48.3L44.0 47.4L34.0 47.6L34.0 29.0ZM91.0 150.0L96.0 149.7L97.6 150.0L98.8 151.0L97.0 152.1L93.0 152.3L91.1 152.0L89.8 151.0L91.0 150.0Z" fill="#aaff55"/>
<path d="M34.0 29.0L188.0 29.0L188.0 76.0L184.0 79.1L171.0 85.7L167.0 87.3L162.0 88.0L118.0 89.2L103.0 88.4L91.0 88.4L84.0 87.8L73.0 85.7L65.0 85.2L62.0 84.6L59.0 83.2L56.8 81.0L55.0 77.3L54.3 73.0L54.4 70.0L55.2 67.0L59.8 60.0L61.1 57.0L61.8 54.0L61.1 51.0L60.0 49.7L58.0 48.4L52.0 46.4L44.0 45.3L34.0 45.3L34.0 29.0ZM92.0 150.0L96.0 149.9L98.1 151.0L96.0 152.1L92.1 152.0L90.4 151.0L92.0 150.0Z" fill="#bbff44"/>
<path d="M34.0 29.0L188.0 29.0L188.0 61.4L187.1 63.0L186.9 65.0L187.7 73.0L187.0 74.7L186.0 75.8L182.0 78.2L170.0 82.6L164.0 83.8L156.0 83.6L144.0 84.1L136.0 83.6L129.0 84.3L115.0 84.5L103.0 83.8L91.0 84.3L85.0 83.6L73.0 80.4L64.2 79.0L61.9 78.0L59.7 76.0L58.1 73.0L57.6 70.0L58.0 67.4L61.4 62.0L62.8 58.0L63.2 53.0L62.4 50.0L61.0 48.5L59.0 47.1L53.0 45.0L44.0 43.5L34.0 43.3L34.0 29.0ZM94.0 150.0L96.0 150.3L97.4 151.0L95.0 151.9L93.0 151.8L91.2 151.0L94.0 150.0Z" fill="#ccff33"/>
<path d="M34.0 29.0L188.0 29.0L188.0 59.9L186.7 61.0L185.6 64.0L186.0 71.0L185.7 73.0L183.9 75.0L180.0 76.9L168.0 80.2L164.0 80.8L149.0 80.3L139.0 78.5L128.0 78.4L115.0 76.5L112.0 76.8L103.0 79.4L97.0 80.3L91.0 80.3L85.0 79.3L68.0 73.8L64.7 72.0L63.8 71.0L63.0 69.0L64.8 59.0L64.6 52.0L63.6 49.0L62.0 47.4L59.8 46.0L53.0 43.5L44.0 41.9L34.0 41.4L34.0 29.0ZM92.1 151.0L94.0 150.5L96.4 151.0L94.0 151.5L92.1 151.0Z" fill="#ddff22"/>
<path d="M34.0 29.0L188.0 29.0L188.0 58.9L186.3 60.0L185.1 62.0L184.3 65.0L184.0 70.4L182.7 73.0L181.0 74.2L178.0 75.4L166.0 78.3L161.0 78.5L150.0 77.6L140.0 75.1L128.0 74.0L117.0 70.8L113.0 70.2L109.0 70.8L104.0 74.5L100.0 76.2L95.0 76.7L90.0 76.2L86.0 75.1L80.9 73.0L74.0 69.3L70.9 67.0L69.4 65.0L68.3 62.0L66.4 54.0L66.2 50.0L64.8 48.0L62.3 46.0L57.0 43.5L50.0 41.5L42.0 40.2L34.0 39.7L34.0 29.0Z" fill="#eeff11"/>
<path d="M34.0 29.0L188.0 29.0L188.0 58.2L186.3 59.0L184.7 61.0L183.3 64.0L182.0 69.7L180.1 72.0L176.0 73.9L166.0 76.4L161.0 76.7L152.0 75.8L141.0 73.0L129.0 71.6L118.0 68.1L108.0 66.5L106.0 66.6L105.4 67.0L102.5 71.0L100.0 72.5L97.0 73.1L93.0 72.8L89.0 71.7L85.0 70.1L81.5 68.0L79.1 66.0L72.3 57.0L70.8 52.0L69.5 50.0L67.3 48.0L62.9 45.0L57.0 42.3L50.0 40.2L43.0 38.9L34.0 38.1L34.0 29.0Z" fill="#ffff00"/>
<path d="M34.0 29.0L188.0 29.0L188.0 57.6L186.0 58.5L184.5 60.0L182.7 63.0L180.6 68.0L178.0 70.8L173.2 73.0L165.0 74.9L161.0 75.1L155.0 74.6L142.0 71.5L130.0 69.9L120.0 66.7L111.0 64.9L104.0 62.3L103.0 62.2L101.3 63.0L100.4 65.0L100.1 68.0L99.0 68.6L97.0 68.8L92.0 68.2L87.0 66.7L83.0 64.2L80.5 61.0L78.5 56.0L77.1 54.0L72.0 49.0L63.2 44.0L57.0 41.2L50.0 39.0L42.0 37.5L34.0 36.6L34.0 29.0Z" fill="#ffee00"/>
<path d="M34.0 29.0L188.0 29.0L188.0 57.1L186.0 57.8L184.7 59.0L179.0 67.1L175.9 70.0L171.0 72.2L163.0 73.6L156.0 73.2L144.0 70.3L129.0 68.1L120.0 65.3L112.0 63.8L103.0 60.0L100.0 60.6L94.0 63.9L92.0 64.2L89.0 63.9L86.0 62.8L84.0 61.2L82.4 59.0L80.2 54.0L71.4 47.0L60.0 41.4L53.0 38.7L44.0 36.5L34.0 35.2L34.0 29.0Z" fill="#ffdd00"/>
<path d="M34.0 29.0L188.0 29.0L188.0 56.6L185.0 58.0L177.0 66.9L174.0 69.3L170.0 71.1L162.0 72.2L157.0 72.0L145.0 69.0L128.0 66.6L121.0 64.4L112.0 62.7L103.0 58.6L99.9 59.0L93.0 61.3L89.0 61.3L87.0 60.6L84.8 59.0L81.6 53.0L77.0 50.2L73.0 46.8L61.0 40.8L54.0 38.0L44.0 35.3L34.0 33.8L34.0 29.0Z" fill="#ffcc00"/>
<path d="M34.0 29.0L188.0 29.0L188.0 56.2L185.0 57.5L176.0 65.9L172.0 68.8L169.0 70.0L162.0 70.9L157.0 70.6L145.0 67.6L130.0 65.9L121.0 63.5L115.0 62.6L111.0 61.3L105.0 58.2L103.0 57.6L100.0 57.8L93.0 59.4L89.0 59.3L87.0 58.5L85.2 57.0L83.5 53.0L82.5 52.0L78.0 49.8L73.0 45.9L61.0 39.9L53.0 36.6L44.0 34.1L34.0 32.5L34.0 29.0Z" fill="#ffbb00"/>
<path d="M34.0 29.0L188.0 29.0L188.0 55.8L185.0 57.1L181.0 60.5L172.0 67.2L169.0 68.6L166.0 69.2L158.0 69.4L145.0 66.3L129.0 64.7L121.0 62.7L114.0 61.5L103.0 56.8L93.0 57.9L90.0 57.7L88.0 57.2L86.0 55.8L84.0 51.9L78.0 49.0L72.0 44.6L61.0 39.0L53.0 35.6L44.0 33.0L34.0 31.2L34.0 29.0Z" fill="#ffaa00"/>
<path d="M34.0 29.0L188.0 29.0L188.0 55.4L185.0 56.7L181.0 59.8L171.0 66.2L169.0 67.1L166.0 67.9L159.0 68.1L145.0 65.0L128.0 63.7L114.0 60.8L105.8 57.0L103.0 56.1L93.0 56.6L89.0 55.9L87.0 54.7L85.3 52.0L84.3 51.0L79.0 48.9L73.0 44.5L61.0 38.1L54.0 35.0L48.0 33.0L41.0 31.2L34.0 29.9L34.0 29.0Z" fill="#ff9900"/>
<path d="M35.9 29.0L188.0 29.0L188.0 55.0L185.0 56.4L181.0 59.2L176.0 61.6L170.0 65.3L165.0 66.7L158.0 66.6L149.0 64.6L143.0 63.7L132.0 63.3L127.0 62.7L114.0 60.1L104.0 55.7L101.0 55.4L94.0 55.6L90.0 54.9L88.0 53.7L85.0 50.7L79.0 48.3L73.0 43.9L59.0 36.3L48.0 32.0L35.9 29.0Z" fill="#ff8800"/>
<path d="M41.2 29.0L188.0 29.0L188.0 54.7L185.0 56.1L181.0 58.7L176.0 60.6L170.0 64.1L165.0 65.5L159.0 65.5L149.0 63.4L143.0 62.6L132.0 62.5L126.0 61.8L115.0 59.7L104.0 55.2L94.0 54.7L91.0 54.0L89.0 53.0L85.1 50.0L79.0 47.7L72.0 42.7L60.0 35.9L51.0 32.0L41.2 29.0Z" fill="#ff7700"/>
<path d="M45.1 29.0L188.0 29.0L188.0 54.3L181.0 58.2L175.3 60.0L169.0 63.4L164.0 64.4L159.0 64.3L144.0 61.7L129.0 61.5L118.0 59.8L113.0 58.4L104.0 54.6L95.0 54.0L91.0 53.0L86.0 49.8L79.0 47.1L72.0 42.0L60.0 35.0L53.0 31.8L45.1 29.0Z" fill="#ff6600"/>
<path d="M48.2 29.0L188.0 29.0L188.0 53.9L181.0 57.8L175.8 59.0L169.0 62.4L165.0 63.3L160.0 63.2L151.0 61.6L143.0 60.7L129.0 60.8L118.0 59.3L114.0 58.2L104.0 54.1L95.0 53.2L91.0 52.1L86.0 49.2L79.0 46.6L72.0 41.4L61.0 34.7L55.0 31.7L48.2 29.0Z" fill="#ff5500"/>
<path d="M50.8 29.0L188.0 29.0L188.0 53.6L181.0 57.4L176.0 58.3L169.0 61.5L165.0 62.3L160.0 62.1L152.0 60.7L143.0 59.9L129.0 60.2L118.0 58.8L114.0 57.7L105.0 53.9L93.0 52.1L86.0 48.7L81.0 47.2L78.8 46.0L72.0 40.8L64.0 35.6L57.0 31.8L50.8 29.0Z" fill="#ff4400"/>
<path d="M53.0 29.0L188.0 29.0L188.0 53.2L181.0 57.1L175.0 57.9L169.0 60.7L165.0 61.4L161.0 61.2L153.0 59.8L142.0 59.0L129.0 59.6L119.0 58.5L115.0 57.5L105.0 53.4L93.0 51.4L86.0 48.1L81.0 46.7L79.0 45.6L72.0 40.2L65.0 35.5L59.0 32.0L53.0 29.0Z" fill="#ff3300"/>
<path d="M54.9 29.0L188.0 29.0L188.0 52.8L181.0 56.7L175.0 57.3L170.0 59.6L166.0 60.5L162.0 60.3L154.0 59.0L142.0 58.3L129.0 59.0L119.0 58.0L115.0 56.9L106.0 53.2L94.0 51.0L86.9 48.0L81.0 46.3L78.7 45.0L66.0 35.4L54.9 29.0Z" fill="#ff2200"/>
<path d="M56.7 29.0L188.0 29.0L188.0 52.4L181.0 56.4L175.0 56.7L170.0 58.9L166.0 59.7L163.0 59.6L154.0 58.0L141.0 57.6L128.0 58.4L119.0 57.5L115.0 56.4L106.0 52.7L95.0 50.7L87.0 47.6L81.0 45.9L79.0 44.7L67.0 35.3L56.7 29.0Z" fill="#ff1100"/>
<path d="M58.3 29.0L188.0 29.0L188.0 52.0L182.0 55.7L180.0 56.2L175.0 56.2L170.0 58.3L167.0 59.0L164.0 58.9L155.0 57.2L140.0 57.0L127.0 57.8L119.0 57.1L115.3 56.0L106.0 52.2L95.0 50.1L87.0 47.2L81.0 45.5L78.7 44.0L68.0 35.3L58.3 29.0Z" fill="#ff0000"/>
<path d="M59.8 29.0L188.0 29.0L188.0 51.6L182.0 55.4L180.0 55.9L175.0 55.8L170.0 57.8L167.0 58.3L164.0 58.2L156.0 56.3L140.0 56.4L127.0 57.3L120.0 56.8L116.0 55.8L106.7 52.0L96.0 49.8L87.8 47.0L82.0 45.6L79.0 43.8L68.0 34.5L59.8 29.0Z" fill="#ee0000"/>
<path d="M61.1 29.0L188.0 29.0L188.0 51.2L182.0 55.2L180.0 55.5L175.0 55.3L170.0 57.2L167.0 57.7L164.0 57.5L157.0 55.5L149.0 55.9L139.0 55.9L126.0 56.8L120.0 56.4L116.0 55.3L107.0 51.6L96.0 49.2L88.0 46.6L82.0 45.2L79.0 43.3L69.0 34.6L61.1 29.0Z" fill="#dd0000"/>
<path d="M62.4 29.0L188.0 29.0L188.0 50.8L182.0 54.9L180.0 55.2L176.0 54.6L168.0 57.1L164.0 56.8L157.0 54.7L149.0 55.3L138.0 55.3L126.0 56.2L120.0 55.9L116.6 55.0L107.0 51.1L97.0 48.9L82.0 44.8L79.2 43.0L69.0 33.8L62.4 29.0Z" fill="#cc0000"/>
<path d="M63.6 29.0L188.0 29.0L188.0 50.3L182.0 54.6L180.0 54.8L176.0 54.1L170.0 56.2L168.0 56.6L164.0 56.2L159.0 54.3L157.0 54.0L150.0 54.7L138.0 54.7L125.0 55.8L120.0 55.5L117.0 54.6L108.0 50.9L82.0 44.4L79.0 42.3L70.0 33.9L63.6 29.0Z" fill="#bb0000"/>
<path d="M64.8 29.0L188.0 29.0L188.0 49.8L182.0 54.3L180.0 54.4L176.0 53.6L171.0 55.5L168.0 56.1L165.0 55.9L159.0 53.6L157.0 53.3L150.0 54.1L137.0 54.2L125.0 55.3L120.0 55.0L108.0 50.4L82.0 44.1L79.2 42.0L71.0 34.0L64.8 29.0Z" fill="#aa0000"/>
<path d="M65.9 29.0L188.0 29.0L188.0 49.4L182.0 53.9L180.0 54.1L176.0 53.0L171.0 55.1L168.0 55.6L165.0 55.3L158.0 52.8L150.0 53.6L135.0 53.7L124.0 54.8L120.0 54.6L108.0 49.9L90.0 45.4L82.7 44.0L79.8 42.0L72.0 34.2L65.9 29.0Z" fill="#990000"/>
<path d="M66.9 29.0L188.0 29.0L188.0 48.8L182.0 53.5L180.0 53.5L176.0 52.3L172.0 54.2L169.0 55.1L167.0 55.1L164.0 54.5L158.0 52.2L150.0 53.0L136.0 53.1L124.0 54.3L120.0 54.1L109.0 49.7L101.2 48.0L89.0 44.7L84.0 44.1L82.0 43.3L72.0 33.5L66.9 29.0Z" fill="#880000"/>
<path d="M53.0 55.7 L75.6 60.0 L75.4 56.2 L75.6 53.9 L75.6 49.3 L75.4 47.0 L75.9 42.5 L83.5 43.6 L83.8 41.5 L84.7 42.1 L85.3 45.6 L88.2 46.8 L91.4 46.8 L94.8 49.0 L96.9 50.7 L99.4 50.6 L103.7 51.6 L108.3 50.2 L121.5 58.8 L122.8 61.1 L124.3 62.8 L125.1 63.6 L126.7 65.1 L130.6 67.9 L131.0 80.9 L130.6 83.1 L129.4 84.3 L128.1 85.1 L127.9 86.5 L131.0 88.3 L136.8 85.3 L145.0 81.7 L144.7 79.2 L146.1 77.0 L153.8 76.6 L155.3 73.9 L157.6 72.0 L161.7 68.3 L174.4 66.9 L174.6 65.5 L175.8 65.0 L177.1 72.3 L177.6 75.6 L178.9 77.1 L178.7 78.3 L178.9 80.0 L178.7 81.7 L180.0 83.2 L182.6 82.6 L183.1 84.8 L180.3 85.7 L178.0 86.3 L176.8 87.0 L175.0 89.5 L171.0 91.7 L166.8 92.7 L167.1 95.5 L165.7 99.5 L163.8 102.2 L161.8 100.1 L160.6 98.8 L159.6 98.2 L163.0 98.0 L140.0 98.0 L138.0 96.5 L134.0 99.0 L128.0 101.6 L122.0 97.0 L120.0 96.8 L109.0 97.2 L98.5 97.5 L96.0 99.5 L85.0 99.8 L74.0 99.4 L71.5 97.6 L67.3 94.9 L62.3 95.1 L58.0 96.3 L52.0 98.4 L45.6 99.4 L46.4 88.4 L47.9 77.4Z" fill="#000" fill-opacity="0.30"/>
<path d="M53.0 55.7 L75.6 60.0 L75.4 56.2 L75.6 53.9 L75.6 49.3 L75.4 47.0 L75.9 42.5 L83.5 43.6 L83.8 41.5 L84.7 42.1 L85.3 45.6 L88.2 46.8 L91.4 46.8 L94.8 49.0 L96.9 50.7 L99.4 50.6 L103.7 51.6 L108.3 50.2 L121.5 58.8 L122.8 61.1 L124.3 62.8 L125.1 63.6 L126.7 65.1 L130.6 67.9 L131.0 80.9 L130.6 83.1 L129.4 84.3 L128.1 85.1 L127.9 86.5 L131.0 88.3 L136.8 85.3 L145.0 81.7 L144.7 79.2 L146.1 77.0 L153.8 76.6 L155.3 73.9 L157.6 72.0 L161.7 68.3 L174.4 66.9 L174.6 65.5 L175.8 65.0 L177.1 72.3 L177.6 75.6 L178.9 77.1 L178.7 78.3 L178.9 80.0 L178.7 81.7 L180.0 83.2 L182.6 82.6 L183.1 84.8 L180.3 85.7 L178.0 86.3 L176.8 87.0 L175.0 89.5 L171.0 91.7 L166.8 92.7 L167.1 95.5 L165.7 99.5 L163.8 102.2 L161.8 100.1 L160.6 98.8 L159.6 98.2 L163.0 98.0 L140.0 98.0 L138.0 96.5 L134.0 99.0 L128.0 101.6 L122.0 97.0 L120.0 96.8 L109.0 97.2 L98.5 97.5 L96.0 99.5 L85.0 99.8 L74.0 99.4 L71.5 97.6 L67.3 94.9 L62.3 95.1 L58.0 96.3 L52.0 98.4 L45.6 99.4 L46.4 88.4 L47.9 77.4Z" fill="none" stroke="#000" stroke-width="0.9" stroke-dasharray="0.9 1.1"/>
<path d="M103.2 31.0 L185.1 55.9 L185.7 76.0 L183.0 86.0 L162.6 117.5 L138.5 138.0 L102.0 149.2 L94.3 151.0 L77.5 148.7 L36.4 132.0 L48.0 64.2 L60.4 52.0Z" fill="none" stroke="#fff" stroke-opacity="0.45" stroke-width="2.6"/>
</g>
<path d="M103.0 30.4h0.01M60.1 51.9h0.01M48.2 63.7h0.01M67.5 60.2h0.01M85.8 66.3h0.01M54.3 82.9h0.01M71.8 83.8h0.01M121.8 68.9h0.01M127.0 80.3h0.01M155.7 60.2h0.01M53.4 101.9h0.01M72.4 98.4h0.01M43.5 114.1h0.01M62.2 117.6h0.01M36.8 130.9h0.01M61.3 130.9h0.01M110.0 133.9h0.01M120.5 133.4h0.01M94.2 137.9h0.01M101.6 95.4h0.01M111.2 117.3h0.01M94.3 150.0h0.01M162.3 116.4h0.01M184.5 57.5h0.01M183.5 84.5h0.01" fill="none" stroke="#0a0a30" stroke-width="3.0" stroke-linecap="round"/>
<use href="#bm"/>
</g>
<text transform="translate(289.1 139.3) rotate(14.4)" text-anchor="end" class="tl"><tspan>30</tspan><tspan class="dg" dy="-3.3">o</tspan><tspan dy="3.3">N</tspan></text>
<text transform="translate(297.4 107.0) rotate(14.4)" text-anchor="end" class="tl"><tspan>36</tspan><tspan class="dg" dy="-3.3">o</tspan><tspan dy="3.3">N</tspan></text>
<text transform="translate(305.7 74.8) rotate(14.4)" text-anchor="end" class="tl"><tspan>42</tspan><tspan class="dg" dy="-3.3">o</tspan><tspan dy="3.3">N</tspan></text>
<text transform="translate(314.0 42.6) rotate(14.4)" text-anchor="end" class="tl"><tspan>48</tspan><tspan class="dg" dy="-3.3">o</tspan><tspan dy="3.3">N</tspan></text>
<text transform="translate(322.4 9.8) rotate(14.4)" text-anchor="end" class="tl"><tspan>54</tspan><tspan class="dg" dy="-3.3">o</tspan><tspan dy="3.3">N</tspan></text>
<text transform="translate(314.6 180.2) rotate(10.5)" text-anchor="middle" class="tl"><tspan>99</tspan><tspan class="dg" dy="-3.3">o</tspan><tspan dy="3.3">W</tspan></text>
<text transform="translate(361.5 186.5) rotate(4.8)" text-anchor="middle" class="tl"><tspan>90</tspan><tspan class="dg" dy="-3.3">o</tspan><tspan dy="3.3">W</tspan></text>
<text transform="translate(408.8 188.0) rotate(-1.0)" text-anchor="middle" class="tl"><tspan>81</tspan><tspan class="dg" dy="-3.3">o</tspan><tspan dy="3.3">W</tspan></text>
<text transform="translate(456.1 184.9) rotate(-6.7)" text-anchor="middle" class="tl"><tspan>72</tspan><tspan class="dg" dy="-3.3">o</tspan><tspan dy="3.3">W</tspan></text>
<text transform="translate(502.8 177.0) rotate(-12.5)" text-anchor="middle" class="tl"><tspan>63</tspan><tspan class="dg" dy="-3.3">o</tspan><tspan dy="3.3">W</tspan></text>
<text transform="translate(279.7 19.0) scale(0.9 1)" class="pl">d</text>
<g transform="translate(270.76 214.82) scale(1.0079 1.0104)">
<g clip-path="url(#hull)">
<rect x="32" y="27" width="158" height="128" fill="#0044ff"/>
<path d="M34.0 29.0L188.0 29.0L188.0 153.0L34.0 153.0L34.0 29.0ZM114.0 138.0L113.0 139.0L114.0 140.4L114.6 139.0L114.0 138.0Z" fill="#0055ff"/>
<path d="M34.0 29.0L188.0 29.0L188.0 153.0L34.0 153.0L34.0 29.0ZM113.0 134.0L111.0 135.0L109.6 137.0L108.8 140.0L109.0 143.4L109.6 145.0L111.0 146.4L114.0 148.2L116.0 148.8L117.6 148.0L118.8 146.0L119.4 143.0L119.2 139.0L118.6 137.0L117.0 134.9L115.0 133.9L113.0 134.0Z" fill="#0066ff"/>
<path d="M34.0 29.0L188.0 29.0L188.0 153.0L122.7 153.0L122.7 143.0L121.3 136.0L120.0 133.7L118.2 132.0L116.0 131.0L114.0 130.9L111.0 131.7L108.4 134.0L106.9 137.0L106.0 142.0L106.3 145.0L112.0 150.0L112.5 151.0L111.9 153.0L34.0 153.0L34.0 29.0Z" fill="#0077ff"/>
<path d="M34.0 29.0L188.0 29.0L188.0 102.9L187.0 105.0L186.8 107.0L188.0 118.9L188.0 135.5L186.3 145.0L183.3 153.0L127.7 153.0L124.4 137.0L123.0 132.8L121.8 131.0L120.0 129.4L118.0 128.4L115.0 128.0L113.0 128.2L110.4 129.0L107.0 131.7L105.0 135.6L103.4 142.0L103.2 144.0L103.6 145.0L109.0 148.6L110.3 150.0L110.6 151.0L110.5 152.0L109.7 153.0L60.1 153.0L58.8 148.0L58.8 140.0L58.0 138.0L57.0 137.6L55.6 138.0L54.5 139.0L50.9 146.0L49.4 148.0L47.0 150.1L44.0 151.8L40.8 153.0L34.0 153.0L34.0 29.0Z" fill="#0088ff"/>
<path d="M34.0 29.0L188.0 29.0L188.0 95.0L185.0 96.0L183.0 97.4L180.7 100.0L179.7 102.0L179.5 104.0L181.0 111.0L181.5 116.0L181.1 135.0L180.4 140.0L179.2 145.0L177.7 149.0L175.5 153.0L132.6 153.0L129.0 143.3L127.4 138.0L126.5 133.0L125.5 130.0L124.0 127.9L122.0 126.3L120.0 125.4L117.0 124.8L112.0 125.3L108.0 126.9L105.0 129.8L103.0 134.0L100.4 144.0L101.1 145.0L107.0 148.2L109.0 150.0L109.4 151.0L109.1 152.0L108.3 153.0L70.3 153.0L69.2 151.0L68.2 148.0L66.0 137.0L65.0 133.9L63.8 132.0L62.0 130.5L58.0 129.1L53.0 129.2L49.0 130.8L46.7 133.0L43.6 138.0L41.0 140.9L38.0 142.7L34.0 143.6L34.0 29.0Z" fill="#0099ff"/>
<path d="M34.0 29.0L188.0 29.0L188.0 91.0L185.0 91.6L182.0 93.0L179.0 96.0L174.3 102.0L174.4 104.0L176.3 109.0L176.6 112.0L176.3 115.0L174.3 123.0L174.0 137.0L172.9 142.0L171.5 146.0L169.2 150.0L167.0 152.7L166.7 153.0L138.5 153.0L135.0 148.1L132.0 141.4L130.9 137.0L130.2 129.0L129.2 126.0L128.0 124.4L126.3 123.0L122.0 121.3L116.0 121.1L109.0 122.6L104.8 125.0L103.0 126.9L101.6 129.0L100.5 132.0L99.3 138.0L97.2 143.0L97.2 144.0L98.2 145.0L104.0 147.3L107.1 149.0L108.4 151.0L108.1 152.0L107.2 153.0L75.8 153.0L74.4 151.0L74.2 147.0L72.1 140.0L70.8 130.0L69.0 127.2L66.0 125.5L58.0 123.8L47.0 123.4L42.0 124.3L34.0 127.8L34.0 29.0Z" fill="#00aaff"/>
<path d="M34.0 29.0L188.0 29.0L188.0 88.1L184.0 88.6L180.0 90.8L171.3 101.0L170.8 102.0L170.9 104.0L172.8 109.0L172.7 111.0L172.0 112.5L171.0 113.3L169.0 113.5L165.0 111.4L163.0 111.2L161.2 112.0L159.6 114.0L159.4 115.0L159.8 117.0L164.1 123.0L165.7 126.0L166.9 132.0L166.8 136.0L166.0 140.0L164.2 144.0L162.0 147.1L159.9 149.0L157.0 150.8L152.0 152.1L147.0 151.5L144.0 150.2L142.0 148.8L139.2 146.0L137.2 143.0L135.9 140.0L135.3 137.0L135.5 134.0L136.3 131.0L138.0 127.9L141.0 124.0L141.3 122.0L140.6 120.0L138.2 118.0L135.0 116.9L128.0 116.0L121.0 116.0L112.0 117.5L105.0 119.8L100.2 123.0L98.4 125.0L97.3 127.0L96.5 130.0L95.6 137.0L94.3 140.0L92.4 143.0L92.3 144.0L94.2 145.0L103.0 147.4L106.0 148.9L107.2 150.0L107.6 151.0L107.3 152.0L106.2 153.0L78.6 153.0L77.5 152.0L77.1 150.0L78.0 148.2L80.1 146.0L80.4 145.0L78.3 141.0L77.7 139.0L77.5 135.0L78.7 127.0L77.9 125.0L76.9 124.0L73.2 122.0L69.0 121.1L56.0 119.6L43.0 117.5L34.0 117.8L34.0 29.0Z" fill="#00bbff"/>
<path d="M34.0 29.0L188.0 29.0L188.0 85.7L183.0 86.3L180.0 87.8L178.0 89.4L173.3 96.0L169.0 101.0L168.0 103.0L167.5 107.0L167.0 107.4L164.0 107.1L161.0 107.4L151.0 110.5L148.0 110.6L138.0 109.2L126.0 109.5L120.0 110.6L108.0 113.8L95.0 117.8L90.0 118.4L60.0 116.8L53.0 115.6L42.0 112.7L34.0 112.0L34.0 29.0ZM152.6 124.0L154.0 123.7L155.0 123.9L157.0 126.6L158.1 131.0L157.8 136.0L156.0 139.8L153.7 142.0L151.0 143.2L147.0 143.1L144.5 142.0L142.3 140.0L141.4 138.0L141.6 136.0L143.5 133.0L151.0 125.2L152.6 124.0ZM86.4 146.0L91.0 145.6L99.0 146.6L105.0 148.8L106.5 150.0L106.8 151.0L106.5 152.0L105.4 153.0L80.4 153.0L79.3 152.0L78.8 151.0L79.5 149.0L82.0 147.3L86.4 146.0Z" fill="#00ccff"/>
<path d="M34.0 29.0L188.0 29.0L188.0 83.7L183.0 84.1L178.8 86.0L175.6 89.0L171.2 96.0L169.0 98.3L164.0 102.1L160.0 103.3L148.0 104.3L131.0 103.0L126.0 103.1L121.0 104.2L108.0 109.0L95.0 112.2L90.0 112.9L72.0 114.2L63.0 114.1L57.0 113.5L52.0 112.2L43.0 109.1L34.0 107.7L34.0 29.0ZM85.7 147.0L91.0 146.3L98.0 146.8L104.0 148.6L105.8 150.0L106.2 151.0L105.8 152.0L104.6 153.0L81.8 153.0L80.5 152.0L80.1 151.0L80.3 150.0L82.0 148.4L85.7 147.0Z" fill="#00ddff"/>
<path d="M34.0 29.0L188.0 29.0L188.0 81.9L182.0 82.4L177.0 84.9L174.6 87.0L173.0 89.0L168.9 96.0L166.0 97.7L162.0 99.0L142.0 99.2L139.0 98.8L130.0 96.2L125.0 96.2L120.0 97.9L108.7 104.0L102.0 106.4L92.0 108.6L69.0 111.3L61.0 111.2L56.0 110.6L44.0 106.5L34.0 103.9L34.0 29.0ZM88.7 147.0L94.0 146.7L100.0 147.5L103.9 149.0L105.2 150.0L105.6 151.0L105.2 152.0L103.9 153.0L82.9 153.0L81.6 152.0L81.1 151.0L81.3 150.0L82.0 149.3L85.0 147.7L88.7 147.0Z" fill="#00eeff"/>
<path d="M34.0 29.0L188.0 29.0L188.0 80.3L182.0 80.8L176.4 83.0L173.6 85.0L171.6 87.0L167.0 93.5L164.0 94.8L161.0 94.9L153.0 93.8L142.0 93.3L132.0 88.7L129.0 87.8L127.0 87.8L125.0 88.3L122.0 89.8L107.0 100.5L102.0 102.7L97.0 104.2L90.0 105.6L67.0 108.5L59.0 108.5L52.0 106.8L34.0 100.3L34.0 29.0ZM85.8 148.0L91.0 147.1L98.0 147.4L103.3 149.0L104.6 150.0L105.0 151.0L104.6 152.0L103.2 153.0L83.9 153.0L82.5 152.0L82.0 151.0L82.3 150.0L83.4 149.0L85.8 148.0Z" fill="#00ffff"/>
<path d="M34.0 29.0L188.0 29.0L188.0 78.8L181.0 79.5L176.2 81.0L172.5 83.0L165.0 89.0L162.0 89.7L145.0 87.5L130.0 82.6L128.0 82.3L126.0 82.4L123.0 83.5L120.0 85.3L110.1 94.0L106.0 97.1L102.0 99.3L98.0 100.8L90.0 102.6L65.0 105.9L59.0 105.9L53.0 104.6L42.0 100.4L34.0 96.8L34.0 29.0ZM87.2 148.0L92.0 147.3L98.0 147.7L102.6 149.0L104.1 150.0L104.5 151.0L104.0 152.0L102.5 153.0L84.8 153.0L83.3 152.0L82.8 151.0L83.1 150.0L84.4 149.0L87.2 148.0Z" fill="#11ffee"/>
<path d="M34.0 29.0L188.0 29.0L188.0 77.4L181.7 78.0L176.5 79.0L173.0 80.2L166.0 83.6L162.0 84.4L147.0 83.5L130.0 79.3L125.0 79.1L122.0 80.0L119.0 81.6L116.0 84.0L106.0 93.4L102.0 96.0L97.0 98.1L90.0 99.7L75.0 101.4L64.0 103.3L58.0 103.3L53.0 102.2L42.9 98.0L34.0 93.0L34.0 29.0ZM88.6 148.0L94.0 147.5L99.0 148.1L102.0 149.0L103.5 150.0L104.0 151.0L103.5 152.0L101.9 153.0L85.7 153.0L84.0 152.0L83.5 151.0L83.9 150.0L86.0 148.7L88.6 148.0Z" fill="#22ffdd"/>
<path d="M34.0 29.0L188.0 29.0L188.0 76.0L175.0 77.5L165.0 79.9L160.0 80.4L147.0 80.3L139.0 78.8L130.0 76.4L127.0 76.1L124.0 76.2L120.0 77.4L117.0 79.1L114.0 81.6L104.5 91.0L100.0 93.9L96.0 95.6L89.0 97.2L74.0 98.6L63.0 100.8L58.0 100.8L53.0 99.8L48.0 97.8L42.6 95.0L38.1 92.0L34.0 88.7L34.0 29.0ZM90.2 148.0L95.0 147.8L99.0 148.3L102.0 149.3L103.0 150.0L103.5 151.0L103.0 152.0L101.2 153.0L86.5 153.0L84.7 152.0L84.1 151.0L84.6 150.0L87.0 148.7L90.2 148.0Z" fill="#33ffcc"/>
<path d="M34.0 29.0L188.0 29.0L188.0 74.6L180.0 75.4L169.0 75.7L159.0 77.3L150.0 77.7L141.0 76.6L128.0 73.3L125.0 73.1L122.0 73.4L119.0 74.4L116.0 76.2L113.0 78.7L104.0 88.0L100.0 90.8L96.0 92.7L92.0 93.9L87.0 94.8L72.0 96.0L62.0 98.4L58.0 98.5L54.0 97.7L48.0 95.2L42.9 92.0L38.1 88.0L34.0 83.2L34.0 29.0ZM92.8 148.0L97.0 148.2L100.0 148.8L102.5 150.0L103.0 151.0L102.5 152.0L100.5 153.0L87.3 153.0L85.3 152.0L84.8 151.0L85.2 150.0L88.0 148.7L92.8 148.0Z" fill="#44ffbb"/>
<path d="M34.0 29.0L188.0 29.0L188.0 73.2L184.0 73.8L179.0 74.0L167.0 72.5L156.0 74.8L149.0 75.0L141.0 74.1L128.0 70.4L124.0 70.0L121.0 70.3L118.0 71.2L115.0 73.1L112.0 75.8L103.0 85.5L99.0 88.4L95.0 90.3L87.0 92.2L72.0 93.4L62.0 95.8L58.0 96.0L55.0 95.5L51.1 94.0L48.0 92.3L42.5 88.0L37.8 82.0L34.8 75.0L34.0 72.1L34.0 29.0ZM87.8 149.0L92.0 148.2L97.0 148.4L101.0 149.4L102.0 150.0L102.6 151.0L102.0 152.0L99.9 153.0L88.1 153.0L86.0 152.0L85.3 151.0L85.9 150.0L87.8 149.0Z" fill="#55ffaa"/>
<path d="M34.0 29.0L188.0 29.0L188.0 71.7L183.0 72.6L178.0 72.5L174.0 71.6L168.0 69.3L166.0 69.0L163.0 69.4L155.0 72.0L144.0 71.8L139.3 71.0L129.0 67.2L125.0 66.4L121.0 66.4L117.0 67.6L114.0 69.7L102.2 83.0L99.0 85.5L95.0 87.6L91.0 88.8L87.0 89.6L72.0 90.8L61.0 93.4L58.0 93.4L55.0 92.8L50.0 90.5L45.6 87.0L42.5 83.0L40.2 78.0L39.4 74.0L39.2 70.0L41.1 57.0L41.2 54.0L40.3 51.0L39.0 49.1L36.7 47.0L34.0 45.2L34.0 29.0ZM88.6 149.0L93.0 148.4L97.0 148.5L101.0 149.7L102.1 151.0L101.4 152.0L99.1 153.0L88.9 153.0L86.6 152.0L85.9 151.0L86.5 150.0L88.6 149.0Z" fill="#66ff99"/>
<path d="M34.0 29.0L188.0 29.0L188.0 70.1L183.0 71.2L178.0 70.9L174.0 69.6L168.0 66.4L161.0 65.1L158.0 65.6L155.0 68.1L149.0 67.6L142.0 68.3L140.0 67.8L133.0 64.5L129.0 63.2L123.0 61.8L119.0 61.8L117.0 62.4L114.0 64.6L111.0 67.9L101.8 80.0L99.0 82.5L95.0 84.9L89.0 86.7L73.0 88.0L62.0 90.6L59.0 90.8L56.0 90.3L52.0 88.6L47.8 85.0L44.9 80.0L43.8 75.0L44.1 71.0L45.4 66.0L47.7 61.0L52.4 54.0L53.1 52.0L52.9 50.0L51.0 46.7L47.0 43.3L41.1 40.0L34.0 37.1L34.0 29.0ZM89.5 149.0L93.0 148.5L97.0 148.7L101.0 150.0L101.6 151.0L100.9 152.0L98.3 153.0L89.8 153.0L87.2 152.0L86.5 151.0L87.1 150.0L89.5 149.0Z" fill="#77ff88"/>
<path d="M34.0 29.0L188.0 29.0L188.0 68.4L183.0 69.8L180.0 69.7L177.0 69.0L163.0 61.2L157.0 57.1L155.0 56.4L152.1 57.0L145.0 59.8L141.0 60.7L136.0 60.4L128.0 58.6L123.0 56.6L118.3 54.0L116.3 52.0L114.0 46.5L113.0 45.6L112.0 45.4L110.9 46.0L110.4 48.0L111.0 50.1L113.3 54.0L112.3 58.0L109.4 64.0L104.8 72.0L101.2 77.0L98.0 80.2L94.0 82.6L89.0 84.2L83.0 84.9L73.0 85.2L62.0 87.7L57.0 87.6L53.3 86.0L50.3 83.0L48.3 79.0L47.9 74.0L48.8 70.0L51.5 64.0L54.0 61.0L60.2 55.0L60.9 52.0L60.1 48.0L57.7 44.0L53.4 40.0L45.0 35.3L34.0 31.1L34.0 29.0ZM90.5 149.0L94.0 148.7L97.5 149.0L100.4 150.0L101.2 151.0L100.4 152.0L97.4 153.0L90.8 153.0L87.8 152.0L87.0 151.0L87.7 150.0L90.5 149.0Z" fill="#88ff77"/>
<path d="M42.5 29.0L188.0 29.0L188.0 66.3L185.0 67.8L183.0 68.2L181.0 68.2L178.0 67.5L175.0 66.0L167.0 60.4L159.0 56.0L156.0 54.8L154.0 54.7L146.0 56.1L137.0 56.3L133.0 56.0L129.0 55.1L126.0 53.8L123.4 52.0L121.0 49.7L115.6 43.0L114.0 41.8L112.0 41.3L109.5 42.0L107.6 43.0L106.5 44.0L105.3 46.0L105.2 49.0L107.0 57.0L106.3 62.0L104.4 67.0L101.7 72.0L99.0 75.8L96.8 78.0L93.0 80.4L88.0 81.9L82.0 82.4L72.0 82.2L62.0 84.6L58.0 84.6L55.0 83.1L53.0 80.7L51.8 77.0L51.9 73.0L53.1 69.0L54.7 66.0L62.0 59.0L63.9 56.0L65.1 51.0L64.4 46.0L62.0 41.4L57.6 37.0L51.0 32.8L42.5 29.0ZM91.8 149.0L95.0 148.9L98.0 149.3L99.9 150.0L100.7 151.0L99.9 152.0L97.0 152.9L91.0 152.8L88.4 152.0L87.5 151.0L88.3 150.0L91.8 149.0Z" fill="#99ff66"/>
<path d="M52.7 29.0L188.0 29.0L188.0 63.4L186.1 65.0L184.0 66.1L182.0 66.4L180.0 66.2L176.0 64.4L171.0 59.8L169.0 58.5L163.4 56.0L157.5 54.0L155.0 53.6L145.0 54.0L135.0 53.3L130.0 52.3L127.0 50.9L124.0 48.8L115.9 41.0L114.0 39.9L112.0 39.7L107.0 40.8L104.1 42.0L102.8 43.0L101.5 45.0L101.2 48.0L103.3 57.0L102.9 62.0L101.7 66.0L99.3 71.0L97.2 74.0L95.0 76.2L91.0 78.6L86.0 79.8L81.0 79.9L71.0 78.8L62.0 80.2L59.0 80.0L57.7 79.0L56.7 77.0L56.3 74.0L56.8 71.0L58.1 68.0L64.0 62.4L66.8 58.0L68.6 52.0L68.9 46.0L67.2 41.0L64.1 37.0L59.4 33.0L52.7 29.0ZM181.0 52.6L180.2 53.0L181.0 53.5L181.6 53.0L181.0 52.6ZM88.9 150.0L92.0 149.2L96.0 149.1L99.4 150.0L100.2 151.0L99.3 152.0L98.0 152.4L93.0 152.9L89.0 152.0L88.1 151.0L88.9 150.0Z" fill="#aaff55"/>
<path d="M60.4 29.0L188.0 29.0L188.0 47.2L183.0 47.4L180.0 48.2L178.0 49.3L176.2 51.0L173.7 55.0L172.0 55.6L170.0 55.5L157.9 53.0L147.0 52.5L132.0 50.3L129.0 49.3L126.0 47.6L118.1 41.0L114.0 38.7L108.0 38.9L102.0 40.0L99.6 41.0L98.3 42.0L97.5 43.0L96.8 45.0L97.0 48.0L99.6 55.0L100.0 59.0L99.3 64.0L96.9 70.0L94.0 73.8L90.8 76.0L86.0 77.4L81.0 77.3L76.0 76.1L70.7 74.0L68.0 72.3L67.1 71.0L67.1 68.0L73.0 50.0L73.6 47.0L73.5 44.0L72.6 41.0L70.0 37.0L65.9 33.0L60.4 29.0ZM175.8 57.0L181.0 56.8L184.0 57.5L185.6 59.0L185.8 60.0L185.2 62.0L184.0 63.2L182.3 64.0L181.0 64.1L179.0 63.6L176.7 62.0L175.5 60.0L175.2 58.0L175.8 57.0ZM89.6 150.0L93.0 149.3L96.0 149.3L98.8 150.0L99.7 151.0L98.0 152.2L93.0 152.7L89.6 152.0L88.6 151.0L89.6 150.0Z" fill="#bbff44"/>
<path d="M66.9 29.0L188.0 29.0L188.0 43.5L183.0 44.3L179.0 45.8L170.0 51.9L168.0 52.4L164.0 52.4L149.0 51.3L133.0 48.5L128.0 46.5L118.8 40.0L114.0 37.9L102.0 37.7L97.0 38.4L91.9 41.0L90.8 42.0L89.6 44.0L89.6 45.0L90.3 47.0L94.8 54.0L96.0 57.0L96.4 62.0L95.3 67.0L93.7 70.0L90.8 73.0L87.0 74.7L83.0 74.9L79.4 74.0L76.1 72.0L74.0 69.0L73.3 66.0L73.3 63.0L74.3 59.0L76.0 54.8L80.7 46.0L80.9 43.0L79.2 40.0L76.5 37.0L72.1 33.0L66.9 29.0ZM90.3 150.0L93.0 149.5L96.0 149.5L98.1 150.0L99.2 151.0L98.1 152.0L97.0 152.3L93.0 152.5L90.0 151.7L89.2 151.0L90.3 150.0Z" fill="#ccff33"/>
<path d="M73.3 29.0L188.0 29.0L188.0 40.5L183.0 41.7L179.0 43.2L170.0 48.9L167.6 50.0L163.0 50.7L154.3 51.0L132.0 46.2L127.0 44.0L119.3 39.0L115.0 37.4L100.0 35.6L89.0 36.0L85.0 35.4L80.0 33.3L73.3 29.0ZM83.2 55.0L86.0 54.5L89.0 55.6L91.3 58.0L92.4 61.0L92.4 65.0L91.4 68.0L89.0 70.8L86.0 72.1L83.0 71.9L80.9 71.0L78.8 69.0L77.7 66.0L77.7 63.0L79.0 59.2L81.0 56.5L83.2 55.0ZM91.1 150.0L96.0 149.7L97.3 150.0L98.6 151.0L97.0 152.1L92.0 152.2L89.8 151.0L91.1 150.0Z" fill="#ddff22"/>
<path d="M80.3 29.0L188.0 29.0L188.0 37.8L179.0 40.8L169.0 47.0L166.0 48.3L162.0 49.3L155.0 50.1L132.0 44.4L128.0 42.7L121.0 38.6L117.0 37.1L101.0 33.8L89.0 32.1L85.0 31.0L80.3 29.0ZM83.7 64.0L85.0 63.0L86.0 63.1L87.0 64.0L87.3 66.0L86.9 67.0L86.0 68.0L84.8 68.0L83.6 67.0L83.3 66.0L83.7 64.0ZM92.1 150.0L96.0 149.9L98.0 151.0L96.0 152.1L92.2 152.0L90.5 151.0L92.1 150.0Z" fill="#eeff11"/>
<path d="M89.0 29.0L188.0 29.0L188.0 35.2L183.0 36.8L178.0 39.0L165.0 46.7L160.0 48.2L155.0 49.0L132.0 42.6L119.0 36.6L113.0 35.7L102.0 32.3L89.0 29.0ZM91.2 151.0L94.0 150.0L96.0 150.3L97.3 151.0L96.0 151.6L94.0 151.9L91.2 151.0Z" fill="#ffff00"/>
<path d="M97.3 29.0L188.0 29.0L188.0 32.7L178.0 36.7L164.0 45.1L158.8 47.0L155.0 47.5L133.0 41.2L121.0 36.2L113.0 34.7L97.3 29.0ZM92.2 151.0L94.0 150.5L96.4 151.0L94.0 151.5L92.2 151.0Z" fill="#ffee00"/>
<path d="M102.5 29.0L188.0 29.0L188.0 30.2L182.0 32.5L177.0 34.9L162.0 44.0L158.0 45.5L155.0 45.8L151.1 45.0L133.0 39.5L121.0 34.9L113.0 33.5L102.5 29.0Z" fill="#ffdd00"/>
<path d="M106.2 29.0L184.5 29.0L176.0 33.1L162.0 41.9L158.0 43.4L155.0 43.9L150.0 42.9L133.0 37.7L122.0 33.9L113.0 32.1L106.2 29.0Z" fill="#ffcc00"/>
<path d="M109.5 29.0L179.2 29.0L162.0 39.5L158.0 41.2L155.0 41.7L150.0 40.9L124.0 33.1L114.1 31.0L109.5 29.0Z" fill="#ffbb00"/>
<path d="M113.2 29.0L174.7 29.0L161.0 37.5L157.0 39.0L154.0 39.3L148.0 38.4L125.0 31.9L113.2 29.0Z" fill="#ffaa00"/>
<path d="M119.2 29.0L170.6 29.0L160.0 35.3L156.0 36.6L153.0 36.9L146.0 35.8L119.2 29.0Z" fill="#ff9900"/>
<path d="M126.8 29.0L166.3 29.0L158.0 33.4L155.0 34.1L152.0 34.4L144.0 33.2L126.8 29.0Z" fill="#ff8800"/>
<path d="M134.5 29.0L161.4 29.0L156.0 31.2L151.0 31.8L145.0 31.2L134.5 29.0Z" fill="#ff7700"/>
<path d="M146.6 29.0L152.4 29.0L146.6 29.0Z" fill="#ff6600"/>
<path d="M53.0 55.7 L75.6 60.0 L75.4 56.2 L75.6 53.9 L75.6 49.3 L75.4 47.0 L75.9 42.5 L83.5 43.6 L83.8 41.5 L84.7 42.1 L85.3 45.6 L88.2 46.8 L91.4 46.8 L94.8 49.0 L96.9 50.7 L99.4 50.6 L103.7 51.6 L108.3 50.2 L121.5 58.8 L122.8 61.1 L124.3 62.8 L125.1 63.6 L126.7 65.1 L130.6 67.9 L131.0 80.9 L130.6 83.1 L129.4 84.3 L128.1 85.1 L127.9 86.5 L131.0 88.3 L136.8 85.3 L145.0 81.7 L144.7 79.2 L146.1 77.0 L153.8 76.6 L155.3 73.9 L157.6 72.0 L161.7 68.3 L174.4 66.9 L174.6 65.5 L175.8 65.0 L177.1 72.3 L177.6 75.6 L178.9 77.1 L178.7 78.3 L178.9 80.0 L178.7 81.7 L180.0 83.2 L182.6 82.6 L183.1 84.8 L180.3 85.7 L178.0 86.3 L176.8 87.0 L175.0 89.5 L171.0 91.7 L166.8 92.7 L167.1 95.5 L165.7 99.5 L163.8 102.2 L161.8 100.1 L160.6 98.8 L159.6 98.2 L163.0 98.0 L140.0 98.0 L138.0 96.5 L134.0 99.0 L128.0 101.6 L122.0 97.0 L120.0 96.8 L109.0 97.2 L98.5 97.5 L96.0 99.5 L85.0 99.8 L74.0 99.4 L71.5 97.6 L67.3 94.9 L62.3 95.1 L58.0 96.3 L52.0 98.4 L45.6 99.4 L46.4 88.4 L47.9 77.4Z" fill="#000" fill-opacity="0.30"/>
<path d="M53.0 55.7 L75.6 60.0 L75.4 56.2 L75.6 53.9 L75.6 49.3 L75.4 47.0 L75.9 42.5 L83.5 43.6 L83.8 41.5 L84.7 42.1 L85.3 45.6 L88.2 46.8 L91.4 46.8 L94.8 49.0 L96.9 50.7 L99.4 50.6 L103.7 51.6 L108.3 50.2 L121.5 58.8 L122.8 61.1 L124.3 62.8 L125.1 63.6 L126.7 65.1 L130.6 67.9 L131.0 80.9 L130.6 83.1 L129.4 84.3 L128.1 85.1 L127.9 86.5 L131.0 88.3 L136.8 85.3 L145.0 81.7 L144.7 79.2 L146.1 77.0 L153.8 76.6 L155.3 73.9 L157.6 72.0 L161.7 68.3 L174.4 66.9 L174.6 65.5 L175.8 65.0 L177.1 72.3 L177.6 75.6 L178.9 77.1 L178.7 78.3 L178.9 80.0 L178.7 81.7 L180.0 83.2 L182.6 82.6 L183.1 84.8 L180.3 85.7 L178.0 86.3 L176.8 87.0 L175.0 89.5 L171.0 91.7 L166.8 92.7 L167.1 95.5 L165.7 99.5 L163.8 102.2 L161.8 100.1 L160.6 98.8 L159.6 98.2 L163.0 98.0 L140.0 98.0 L138.0 96.5 L134.0 99.0 L128.0 101.6 L122.0 97.0 L120.0 96.8 L109.0 97.2 L98.5 97.5 L96.0 99.5 L85.0 99.8 L74.0 99.4 L71.5 97.6 L67.3 94.9 L62.3 95.1 L58.0 96.3 L52.0 98.4 L45.6 99.4 L46.4 88.4 L47.9 77.4Z" fill="none" stroke="#000" stroke-width="0.9" stroke-dasharray="0.9 1.1"/>
<path d="M103.2 31.0 L185.1 55.9 L185.7 76.0 L183.0 86.0 L162.6 117.5 L138.5 138.0 L102.0 149.2 L94.3 151.0 L77.5 148.7 L36.4 132.0 L48.0 64.2 L60.4 52.0Z" fill="none" stroke="#fff" stroke-opacity="0.45" stroke-width="2.6"/>
</g>
<path d="M103.0 30.4h0.01M60.1 51.9h0.01M48.2 63.7h0.01M67.5 60.2h0.01M85.8 66.3h0.01M54.3 82.9h0.01M71.8 83.8h0.01M121.8 68.9h0.01M127.0 80.3h0.01M155.7 60.2h0.01M53.4 101.9h0.01M72.4 98.4h0.01M43.5 114.1h0.01M62.2 117.6h0.01M36.8 130.9h0.01M61.3 130.9h0.01M110.0 133.9h0.01M120.5 133.4h0.01M94.2 137.9h0.01M101.6 95.4h0.01M111.2 117.3h0.01M94.3 150.0h0.01M162.3 116.4h0.01M184.5 57.5h0.01M183.5 84.5h0.01" fill="none" stroke="#0a0a30" stroke-width="3.0" stroke-linecap="round"/>
<use href="#bm"/>
</g>
<text transform="translate(288.3 359.6) rotate(14.4)" text-anchor="end" class="tl"><tspan>30</tspan><tspan class="dg" dy="-3.3">o</tspan><tspan dy="3.3">N</tspan></text>
<text transform="translate(296.8 326.4) rotate(14.4)" text-anchor="end" class="tl"><tspan>36</tspan><tspan class="dg" dy="-3.3">o</tspan><tspan dy="3.3">N</tspan></text>
<text transform="translate(305.2 293.4) rotate(14.4)" text-anchor="end" class="tl"><tspan>42</tspan><tspan class="dg" dy="-3.3">o</tspan><tspan dy="3.3">N</tspan></text>
<text transform="translate(313.7 260.3) rotate(14.4)" text-anchor="end" class="tl"><tspan>48</tspan><tspan class="dg" dy="-3.3">o</tspan><tspan dy="3.3">N</tspan></text>
<text transform="translate(322.3 226.6) rotate(14.4)" text-anchor="end" class="tl"><tspan>54</tspan><tspan class="dg" dy="-3.3">o</tspan><tspan dy="3.3">N</tspan></text>
<text transform="translate(314.3 401.4) rotate(10.5)" text-anchor="middle" class="tl"><tspan>99</tspan><tspan class="dg" dy="-3.3">o</tspan><tspan dy="3.3">W</tspan></text>
<text transform="translate(362.2 407.9) rotate(4.8)" text-anchor="middle" class="tl"><tspan>90</tspan><tspan class="dg" dy="-3.3">o</tspan><tspan dy="3.3">W</tspan></text>
<text transform="translate(410.4 409.5) rotate(-1.0)" text-anchor="middle" class="tl"><tspan>81</tspan><tspan class="dg" dy="-3.3">o</tspan><tspan dy="3.3">W</tspan></text>
<text transform="translate(458.7 406.3) rotate(-6.7)" text-anchor="middle" class="tl"><tspan>72</tspan><tspan class="dg" dy="-3.3">o</tspan><tspan dy="3.3">W</tspan></text>
<text transform="translate(506.3 398.2) rotate(-12.5)" text-anchor="middle" class="tl"><tspan>63</tspan><tspan class="dg" dy="-3.3">o</tspan><tspan dy="3.3">W</tspan></text>
<text transform="translate(276.0 232.8) scale(0.9 1)" class="pl">e</text>
<g transform="translate(269.90 423.08) scale(1.0000 1.0058)">
<g clip-path="url(#hull)">
<rect x="32" y="27" width="158" height="128" fill="#000099"/>
<path d="M34.0 29.0L188.0 29.0L188.0 152.5L187.5 153.0L34.0 153.0L34.0 29.0Z" fill="#0000aa"/>
<path d="M34.0 29.0L188.0 29.0L188.0 142.6L183.0 147.3L177.8 153.0L40.7 153.0L39.7 149.0L38.3 146.0L36.5 144.0L34.0 142.5L34.0 29.0Z" fill="#0000bb"/>
<path d="M34.0 29.0L188.0 29.0L188.0 133.6L178.0 142.2L174.0 146.7L169.2 153.0L45.8 153.0L45.3 143.0L44.0 138.8L42.5 137.0L41.0 136.2L34.0 135.4L34.0 29.0Z" fill="#0000cc"/>
<path d="M34.0 29.0L188.0 29.0L188.0 125.4L176.9 134.0L172.0 138.4L168.0 143.1L161.4 153.0L49.7 153.0L50.5 140.0L50.1 137.0L49.2 135.0L47.0 132.9L42.0 130.6L38.0 129.8L34.0 130.2L34.0 29.0Z" fill="#0000dd"/>
<path d="M34.0 29.0L188.0 29.0L188.0 117.6L180.0 124.2L169.2 132.0L165.8 135.0L163.0 138.5L157.3 148.0L153.8 153.0L53.0 153.0L53.4 147.0L55.0 137.0L54.7 134.0L53.9 132.0L52.9 131.0L51.2 130.0L40.0 126.5L38.0 126.3L34.0 126.9L34.0 29.0Z" fill="#0000ee"/>
<path d="M34.0 29.0L188.0 29.0L188.0 109.3L179.3 118.0L175.0 121.7L171.0 124.5L163.0 129.0L160.4 131.0L158.0 134.1L152.0 145.1L149.0 149.1L145.3 153.0L55.8 153.0L56.3 146.0L58.1 136.0L57.8 132.0L56.7 129.0L55.9 128.0L54.0 127.1L46.0 126.1L40.0 124.0L34.0 124.5L34.0 29.0Z" fill="#0000ff"/>
<path d="M34.0 29.0L188.0 29.0L188.0 100.7L184.0 104.0L176.5 114.0L172.0 118.6L167.0 121.9L158.0 125.7L155.1 128.0L152.7 131.0L149.0 138.8L146.8 142.0L143.0 145.3L135.0 149.9L132.6 153.0L58.3 153.0L58.5 147.0L60.2 134.0L59.9 129.0L58.7 126.0L57.6 125.0L56.0 124.4L46.0 124.2L40.0 122.2L34.0 122.6L34.0 29.0ZM124.0 85.8L121.9 87.0L120.4 89.0L120.7 91.0L123.0 93.0L126.0 94.1L129.0 94.2L131.8 93.0L134.6 91.0L135.0 90.0L134.7 89.0L133.8 88.0L131.0 86.3L127.0 85.4L124.0 85.8Z" fill="#0011ff"/>
<path d="M34.0 29.0L188.0 29.0L188.0 93.4L183.0 95.5L179.0 98.7L177.0 102.0L173.2 111.0L169.2 116.0L165.0 119.1L156.0 122.5L148.9 127.0L145.5 130.0L142.0 136.1L139.8 136.0L134.1 131.0L129.0 128.5L124.8 128.0L123.0 128.4L121.0 129.6L118.9 133.0L118.5 137.0L122.3 148.0L123.2 153.0L60.7 153.0L60.7 146.0L62.0 135.0L62.2 130.0L61.8 127.0L60.4 124.0L59.0 122.8L57.0 122.2L47.0 122.7L45.0 122.5L40.0 120.8L34.0 120.9L34.0 29.0ZM122.0 80.9L114.0 85.0L111.4 87.0L110.6 88.0L110.3 90.0L111.3 92.0L113.6 94.0L116.0 95.3L123.0 97.5L128.0 97.7L142.0 94.3L144.3 93.0L145.7 91.0L145.7 90.0L145.1 89.0L144.0 88.0L132.0 81.8L127.0 80.3L125.0 80.3L122.0 80.9Z" fill="#0022ff"/>
<path d="M34.0 29.0L188.0 29.0L188.0 87.9L183.0 89.1L175.1 92.0L171.0 93.9L170.0 94.8L169.7 97.0L170.6 104.0L169.6 109.0L168.1 112.0L166.6 114.0L162.0 117.4L150.0 122.3L145.0 123.6L137.0 124.3L128.0 122.3L124.0 122.0L121.0 122.6L118.0 124.3L116.7 126.0L115.4 129.0L114.2 136.0L115.0 140.0L117.6 149.0L118.0 153.0L62.9 153.0L62.6 145.0L64.0 128.1L63.5 125.0L62.4 123.0L60.0 121.2L58.0 120.6L47.0 121.2L40.0 119.6L34.0 119.5L34.0 29.0ZM122.0 76.8L107.9 83.0L105.0 85.0L103.7 87.0L103.1 90.0L103.7 92.0L104.5 93.0L107.2 95.0L113.4 98.0L121.0 100.4L124.0 100.8L127.0 100.5L150.0 94.5L157.0 94.1L159.1 93.0L159.6 92.0L158.6 90.0L155.6 88.0L141.0 82.8L130.0 77.2L126.0 76.2L122.0 76.8Z" fill="#0033ff"/>
<path d="M34.0 29.0L188.0 29.0L188.0 83.6L184.0 84.2L173.0 87.2L167.0 87.2L156.0 83.6L142.0 80.4L137.1 78.0L130.0 73.6L128.0 72.8L126.0 72.5L122.0 73.3L104.2 81.0L102.0 82.6L100.9 84.0L99.6 87.0L99.2 90.0L99.3 92.0L100.0 94.1L101.0 95.2L103.9 97.0L118.0 103.1L123.0 104.1L128.0 103.2L139.0 99.3L148.0 97.5L153.0 97.3L160.0 98.2L163.6 100.0L165.7 103.0L166.3 107.0L164.9 111.0L162.4 114.0L159.3 116.0L152.0 118.9L147.0 120.3L137.0 120.5L127.0 117.7L123.0 117.2L119.0 118.2L116.0 120.2L114.4 122.0L113.1 125.0L111.7 134.0L112.2 140.0L114.6 150.0L114.5 153.0L65.1 153.0L64.4 148.0L64.4 143.0L65.8 127.0L65.3 124.0L64.3 122.0L62.0 120.2L59.0 119.2L56.0 119.1L47.0 119.8L40.0 118.4L34.0 118.1L34.0 29.0Z" fill="#0044ff"/>
<path d="M34.0 29.0L188.0 29.0L188.0 80.2L184.0 80.6L173.0 83.5L170.0 83.7L167.0 83.3L157.0 80.7L147.0 79.2L143.0 78.2L138.0 75.9L130.0 70.3L127.0 69.2L125.0 69.3L122.0 70.3L102.0 79.2L99.0 82.0L97.1 86.0L96.4 91.0L97.3 95.0L98.8 97.0L100.1 98.0L115.6 106.0L117.7 108.0L118.6 110.0L118.0 112.0L112.0 119.9L110.8 123.0L110.2 126.0L109.6 132.0L109.7 137.0L110.5 145.0L112.3 150.0L111.9 153.0L67.2 153.0L66.3 148.0L66.0 142.0L67.7 125.0L67.3 123.0L66.0 120.7L63.7 119.0L60.0 117.9L57.0 117.8L47.0 118.4L39.0 117.2L34.0 116.9L34.0 29.0ZM144.6 100.0L150.0 99.6L155.0 100.0L158.6 101.0L161.0 102.6L162.1 104.0L162.8 106.0L162.5 109.0L160.7 112.0L158.1 114.0L154.0 115.9L149.0 117.5L145.0 118.1L140.0 118.0L136.0 117.2L132.9 116.0L128.3 113.0L126.5 111.0L126.3 110.0L127.2 108.0L131.3 105.0L138.0 101.5L144.6 100.0Z" fill="#0055ff"/>
<path d="M34.0 29.0L188.0 29.0L188.0 77.3L183.0 78.0L174.0 80.1L170.0 80.5L157.0 78.0L147.0 76.8L143.0 75.9L140.0 74.6L137.0 72.8L130.0 67.4L127.0 66.5L124.0 67.0L121.1 68.0L101.0 77.3L97.8 80.0L95.4 84.0L94.2 88.0L94.0 93.0L95.0 96.6L96.9 99.0L107.7 105.0L110.2 107.0L111.6 109.0L111.8 112.0L108.6 121.0L107.7 129.0L108.2 145.0L110.5 150.0L110.4 152.0L109.9 153.0L69.4 153.0L68.0 147.0L67.5 140.0L67.9 135.0L69.7 124.0L69.1 121.0L68.0 119.4L65.0 117.5L61.0 116.6L57.0 116.5L47.0 117.2L34.0 115.6L34.0 29.0ZM143.1 102.0L151.0 101.8L156.5 103.0L158.1 104.0L159.5 106.0L159.3 109.0L158.0 110.9L156.7 112.0L154.0 113.5L150.0 114.9L144.0 115.8L141.0 115.6L138.0 114.8L136.0 113.8L134.0 112.0L133.1 110.0L133.4 108.0L134.9 106.0L137.4 104.0L140.0 102.8L143.1 102.0Z" fill="#0066ff"/>
<path d="M34.0 29.0L188.0 29.0L188.0 74.6L175.0 76.9L171.0 77.3L158.0 75.5L147.0 74.6L143.0 73.6L140.0 72.3L130.0 65.2L126.0 64.5L123.0 65.0L120.0 66.1L100.0 75.6L96.2 79.0L93.2 84.0L91.7 90.0L91.7 96.0L92.5 99.0L94.0 100.9L103.0 105.2L105.1 107.0L107.0 110.0L107.3 113.0L105.9 121.0L105.6 125.0L105.9 144.0L106.3 146.0L109.0 150.0L108.9 152.0L108.3 153.0L71.7 153.0L69.8 147.0L69.0 140.0L69.4 135.0L72.1 123.0L71.7 120.0L70.5 118.0L69.0 116.8L67.1 116.0L63.0 115.3L58.0 115.2L47.0 116.0L34.0 114.4L34.0 29.0ZM142.9 104.0L147.9 104.0L153.2 105.0L155.3 106.0L156.0 107.0L155.9 108.0L154.0 110.2L149.0 112.4L145.0 113.2L141.0 112.8L138.1 111.0L137.6 110.0L137.5 108.0L138.8 106.0L140.0 105.0L142.9 104.0Z" fill="#0077ff"/>
<path d="M34.0 29.0L188.0 29.0L188.0 71.9L179.0 73.5L171.0 74.2L159.0 72.9L146.0 72.2L143.0 71.4L140.0 70.1L133.4 65.0L131.0 63.6L129.0 62.9L126.0 62.6L122.7 63.0L119.0 64.2L104.0 71.3L99.0 74.1L94.6 78.0L92.5 81.0L91.0 84.0L89.5 89.0L88.2 99.0L86.1 106.0L87.0 107.0L94.0 106.3L99.0 106.7L101.0 107.8L102.5 110.0L103.3 114.0L103.1 122.0L104.0 136.0L103.9 145.0L104.3 146.0L107.7 150.0L107.6 152.0L106.8 153.0L74.0 153.0L72.6 150.0L71.5 146.0L70.5 139.0L71.0 134.0L74.7 122.0L74.7 118.0L73.8 116.0L72.6 115.0L71.0 114.3L67.0 113.7L61.0 113.8L47.0 114.9L34.0 113.2L34.0 29.0ZM142.9 107.0L144.0 107.0L145.6 108.0L145.1 109.0L144.0 109.3L142.6 109.0L141.9 108.0L142.9 107.0Z" fill="#0088ff"/>
<path d="M34.0 29.0L188.0 29.0L188.0 68.8L183.0 70.1L174.0 70.8L160.0 69.9L146.0 69.9L143.0 69.2L141.0 68.4L135.0 63.8L131.0 61.6L126.0 60.8L120.0 61.6L116.0 63.1L102.0 70.1L97.4 73.0L94.0 76.0L90.9 80.0L88.8 84.0L87.5 88.0L86.0 94.7L85.0 96.8L78.0 107.1L75.0 109.7L69.0 111.3L49.0 113.8L44.0 113.6L34.0 112.0L34.0 29.0ZM89.6 113.0L93.0 112.5L96.0 112.9L97.5 114.0L98.6 116.0L100.0 121.4L101.9 133.0L102.1 138.0L101.7 145.0L102.2 146.0L106.6 150.0L106.8 151.0L106.5 152.0L105.5 153.0L76.4 153.0L74.7 150.0L72.9 144.0L72.1 139.0L72.4 135.0L74.0 130.1L79.0 118.6L80.9 116.0L84.0 114.2L89.6 113.0Z" fill="#0099ff"/>
<path d="M34.0 29.0L188.0 29.0L188.0 64.5L185.0 66.2L182.0 66.7L163.0 66.0L146.0 67.3L142.0 66.4L136.0 61.9L131.0 59.7L128.0 59.1L124.0 58.9L118.0 59.9L113.0 62.0L103.0 67.3L97.0 71.0L93.0 74.5L90.0 78.0L87.6 82.0L83.6 92.0L82.0 95.0L75.0 104.2L71.0 107.7L67.0 109.4L62.0 110.8L50.0 112.6L44.0 112.6L34.0 110.8L34.0 29.0ZM87.3 118.0L90.0 117.7L93.0 118.4L95.0 119.8L97.0 122.9L98.8 128.0L100.0 134.0L100.1 138.0L99.4 145.0L100.1 146.0L104.0 148.5L105.5 150.0L105.8 151.0L105.4 152.0L104.3 153.0L78.8 153.0L77.2 151.0L74.1 141.0L73.9 137.0L74.5 134.0L77.0 128.1L81.0 121.8L84.0 119.2L87.3 118.0Z" fill="#00aaff"/>
<path d="M34.0 29.0L188.0 29.0L188.0 52.3L184.0 53.0L174.0 52.3L171.0 52.5L169.8 53.0L165.0 57.3L160.2 60.0L154.0 62.5L148.0 63.8L145.0 63.8L143.0 63.3L136.0 59.2L130.0 57.4L122.0 56.9L118.0 57.5L115.0 58.4L109.0 61.3L102.0 65.4L96.0 69.3L92.0 72.9L89.2 76.0L86.4 80.0L79.6 93.0L72.0 103.0L68.7 106.0L64.0 108.5L58.0 110.3L49.0 111.5L42.0 111.3L34.0 109.5L34.0 29.0ZM87.7 122.0L90.0 122.1L92.1 123.0L94.0 124.7L96.0 127.9L97.4 132.0L97.9 136.0L97.8 139.0L96.8 145.0L97.6 146.0L103.0 148.7L104.5 150.0L104.8 151.0L104.4 152.0L103.1 153.0L81.1 153.0L79.3 151.0L78.6 147.0L76.8 143.0L76.0 140.0L75.9 137.0L76.2 135.0L78.0 130.6L81.0 126.1L84.0 123.4L86.0 122.4L87.7 122.0Z" fill="#00bbff"/>
<path d="M34.0 29.0L188.0 29.0L188.0 40.5L175.0 42.0L168.0 44.2L161.8 48.0L152.0 56.4L149.2 58.0L147.0 58.6L143.0 58.4L133.0 55.6L123.0 54.5L117.0 55.0L112.0 56.8L105.0 60.7L98.0 65.1L94.0 68.2L91.0 71.2L85.4 78.0L77.7 91.0L70.0 101.5L66.4 105.0L62.0 107.6L58.0 109.0L50.0 110.3L44.0 110.4L34.0 108.2L34.0 29.0ZM88.0 126.0L90.0 126.4L92.0 127.7L93.7 130.0L95.0 133.0L95.4 138.0L93.5 145.0L94.4 146.0L101.0 148.3L103.6 150.0L103.9 151.0L103.4 152.0L102.0 153.0L83.2 153.0L81.1 151.0L81.0 150.0L81.7 147.0L81.5 146.0L79.1 142.0L78.4 140.0L78.2 138.0L78.6 135.0L79.8 132.0L82.0 129.0L85.0 126.7L88.0 126.0Z" fill="#00ccff"/>
<path d="M34.0 29.0L188.0 29.0L188.0 32.2L175.0 34.7L166.0 37.9L159.0 42.1L149.0 50.0L145.0 52.1L142.0 52.7L138.0 52.8L129.0 52.6L122.0 51.7L119.0 51.7L115.0 52.4L110.0 54.6L98.0 61.8L92.0 67.0L84.4 76.0L76.3 89.0L68.4 100.0L65.0 103.6L61.5 106.0L58.0 107.6L50.8 109.0L45.0 109.4L41.0 108.8L34.0 106.9L34.0 29.0ZM84.5 131.0L87.0 130.1L89.0 130.5L90.9 132.0L92.0 134.0L92.4 137.0L91.8 140.0L90.0 142.5L88.0 143.7L86.0 143.8L84.0 143.0L82.0 141.0L81.2 139.0L81.0 137.0L81.4 135.0L83.0 132.3L84.5 131.0ZM86.7 147.0L88.0 146.6L90.0 146.5L97.0 147.6L101.2 149.0L102.6 150.0L103.0 151.0L102.5 152.0L100.7 153.0L85.2 153.0L83.5 152.0L82.8 151.0L82.8 150.0L84.0 148.4L86.7 147.0Z" fill="#00ddff"/>
<path d="M34.0 29.0L171.6 29.0L166.0 31.2L160.0 34.2L146.0 44.2L141.0 46.8L137.0 48.1L131.0 48.9L120.0 47.9L115.0 48.6L110.0 50.8L97.0 58.5L93.0 61.6L83.3 74.0L73.8 89.0L67.0 98.5L63.9 102.0L60.0 105.0L57.0 106.3L50.0 107.8L45.0 108.2L41.0 107.6L34.0 105.4L34.0 29.0ZM88.5 148.0L93.0 147.7L98.0 148.4L101.0 149.6L102.1 151.0L101.5 152.0L99.4 153.0L87.2 153.0L85.2 152.0L84.4 151.0L84.6 150.0L86.0 148.8L88.5 148.0Z" fill="#00eeff"/>
<path d="M34.0 29.0L157.1 29.0L142.0 38.8L137.0 41.4L133.0 42.6L130.0 43.1L120.0 42.6L116.0 43.2L111.0 45.6L101.0 52.1L92.0 56.0L90.0 58.3L86.4 66.0L80.0 75.0L72.9 87.0L64.0 99.2L61.0 102.1L57.0 104.6L51.0 106.3L45.0 107.0L41.0 106.3L34.0 103.9L34.0 29.0ZM88.0 149.0L92.0 148.3L96.0 148.5L100.0 149.7L101.2 151.0L100.4 152.0L97.8 153.0L89.4 153.0L86.7 152.0L85.9 151.0L86.3 150.0L88.0 149.0Z" fill="#00ffff"/>
<path d="M34.0 29.0L144.9 29.0L138.0 32.7L133.0 34.7L128.0 35.6L119.0 36.1L115.0 37.0L113.0 38.1L105.7 44.0L101.0 47.1L97.0 48.7L90.0 50.4L87.0 51.9L85.7 54.0L84.3 62.0L82.8 66.0L77.0 75.6L70.8 87.0L65.0 95.1L60.5 100.0L56.2 103.0L51.0 104.7L45.0 105.5L41.0 104.8L34.0 102.2L34.0 29.0ZM91.0 149.0L94.0 148.8L97.0 149.2L99.4 150.0L100.2 151.0L99.3 152.0L96.0 152.9L93.0 153.0L90.0 152.6L88.3 152.0L87.4 151.0L88.0 150.0L91.0 149.0Z" fill="#11ffee"/>
<path d="M34.0 29.0L124.9 29.0L118.0 30.6L114.0 32.1L110.0 34.6L104.0 39.9L101.0 41.9L97.0 43.7L89.0 46.1L85.0 48.4L83.0 50.9L82.1 53.0L80.5 62.0L79.2 66.0L70.5 84.0L66.8 90.0L62.0 95.9L57.0 100.3L54.0 101.9L51.0 102.9L45.0 103.8L41.0 103.1L34.0 100.4L34.0 29.0ZM89.8 150.0L92.0 149.5L95.0 149.4L98.0 150.0L99.0 151.0L97.9 152.0L97.0 152.2L92.0 152.4L90.1 152.0L88.9 151.0L89.8 150.0Z" fill="#22ffdd"/>
<path d="M34.0 29.0L110.2 29.0L100.0 37.4L87.0 42.6L84.0 44.6L82.0 46.6L80.4 49.0L79.1 52.0L76.7 63.0L74.6 69.0L69.5 82.0L66.2 88.0L62.0 93.3L56.0 98.6L51.0 100.9L46.0 101.8L41.0 101.1L34.0 98.4L34.0 29.0ZM92.5 150.0L95.7 150.0L97.6 151.0L95.5 152.0L92.8 152.0L90.7 151.0L92.5 150.0Z" fill="#33ffcc"/>
<path d="M34.0 29.0L102.6 29.0L97.0 33.2L85.0 39.2L82.0 41.5L79.7 44.0L77.8 47.0L76.5 50.0L69.7 76.0L68.0 81.0L66.2 85.0L62.7 90.0L58.0 94.5L54.0 97.3L49.0 99.2L45.0 99.6L42.0 99.2L34.0 96.2L34.0 29.0Z" fill="#44ffbb"/>
<path d="M34.0 29.0L93.8 29.0L82.0 36.3L79.0 39.0L76.0 42.8L73.5 48.0L69.7 60.0L68.7 65.0L67.3 77.0L66.2 81.0L64.9 84.0L62.0 88.3L58.0 92.2L53.0 95.4L49.0 96.8L45.0 97.1L42.0 96.8L38.0 95.6L34.0 93.7L34.0 29.0Z" fill="#55ffaa"/>
<path d="M34.0 29.0L84.3 29.0L79.0 33.1L75.0 37.2L71.7 42.0L69.4 47.0L64.8 59.0L64.1 62.0L64.0 65.0L65.1 72.0L65.2 76.0L64.6 80.0L63.0 84.0L60.9 87.0L57.8 90.0L54.0 92.5L50.0 94.0L46.0 94.5L42.0 94.2L38.0 92.9L34.0 90.9L34.0 29.0Z" fill="#66ff99"/>
<path d="M34.0 29.0L76.5 29.0L71.6 34.0L68.0 39.0L56.8 60.0L56.6 63.0L57.2 65.0L61.0 70.1L62.6 74.0L63.0 78.0L62.0 82.0L60.3 85.0L58.0 87.4L55.0 89.5L51.0 91.2L47.0 91.8L42.0 91.3L38.0 89.8L34.0 87.4L34.0 29.0Z" fill="#77ff88"/>
<path d="M34.0 29.0L69.2 29.0L64.1 35.0L57.0 45.1L50.1 54.0L47.7 59.0L47.5 62.0L48.5 65.0L50.0 66.7L55.0 69.6L58.0 72.0L59.5 74.0L60.6 77.0L60.6 80.0L59.0 83.6L56.0 86.4L52.0 88.4L48.0 89.0L43.0 88.4L38.0 86.0L34.0 82.8L34.0 29.0Z" fill="#88ff77"/>
<path d="M34.0 29.0L61.4 29.0L41.2 51.0L37.6 56.0L34.0 62.9L34.0 29.0ZM36.7 69.0L38.0 68.8L40.0 69.2L51.0 72.2L54.0 73.4L56.2 75.0L57.6 77.0L58.2 79.0L57.8 81.0L57.0 82.3L55.0 84.1L51.0 85.7L47.0 85.7L43.0 84.2L39.3 81.0L36.8 77.0L35.6 72.0L35.8 70.0L36.7 69.0Z" fill="#99ff66"/>
<path d="M34.0 29.0L52.2 29.0L43.0 37.1L34.0 44.1L34.0 29.0ZM49.1 79.0L50.0 78.4L51.0 78.3L52.4 79.0L52.6 80.0L51.0 80.8L50.0 80.5L49.3 80.0L49.1 79.0Z" fill="#aaff55"/>
<path d="M34.0 29.0L40.3 29.0L34.0 33.2L34.0 29.0Z" fill="#bbff44"/>
<path d="M53.0 55.7 L75.6 60.0 L75.4 56.2 L75.6 53.9 L75.6 49.3 L75.4 47.0 L75.9 42.5 L83.5 43.6 L83.8 41.5 L84.7 42.1 L85.3 45.6 L88.2 46.8 L91.4 46.8 L94.8 49.0 L96.9 50.7 L99.4 50.6 L103.7 51.6 L108.3 50.2 L121.5 58.8 L122.8 61.1 L124.3 62.8 L125.1 63.6 L126.7 65.1 L130.6 67.9 L131.0 80.9 L130.6 83.1 L129.4 84.3 L128.1 85.1 L127.9 86.5 L131.0 88.3 L136.8 85.3 L145.0 81.7 L144.7 79.2 L146.1 77.0 L153.8 76.6 L155.3 73.9 L157.6 72.0 L161.7 68.3 L174.4 66.9 L174.6 65.5 L175.8 65.0 L177.1 72.3 L177.6 75.6 L178.9 77.1 L178.7 78.3 L178.9 80.0 L178.7 81.7 L180.0 83.2 L182.6 82.6 L183.1 84.8 L180.3 85.7 L178.0 86.3 L176.8 87.0 L175.0 89.5 L171.0 91.7 L166.8 92.7 L167.1 95.5 L165.7 99.5 L163.8 102.2 L161.8 100.1 L160.6 98.8 L159.6 98.2 L163.0 98.0 L140.0 98.0 L138.0 96.5 L134.0 99.0 L128.0 101.6 L122.0 97.0 L120.0 96.8 L109.0 97.2 L98.5 97.5 L96.0 99.5 L85.0 99.8 L74.0 99.4 L71.5 97.6 L67.3 94.9 L62.3 95.1 L58.0 96.3 L52.0 98.4 L45.6 99.4 L46.4 88.4 L47.9 77.4Z" fill="#000" fill-opacity="0.30"/>
<path d="M53.0 55.7 L75.6 60.0 L75.4 56.2 L75.6 53.9 L75.6 49.3 L75.4 47.0 L75.9 42.5 L83.5 43.6 L83.8 41.5 L84.7 42.1 L85.3 45.6 L88.2 46.8 L91.4 46.8 L94.8 49.0 L96.9 50.7 L99.4 50.6 L103.7 51.6 L108.3 50.2 L121.5 58.8 L122.8 61.1 L124.3 62.8 L125.1 63.6 L126.7 65.1 L130.6 67.9 L131.0 80.9 L130.6 83.1 L129.4 84.3 L128.1 85.1 L127.9 86.5 L131.0 88.3 L136.8 85.3 L145.0 81.7 L144.7 79.2 L146.1 77.0 L153.8 76.6 L155.3 73.9 L157.6 72.0 L161.7 68.3 L174.4 66.9 L174.6 65.5 L175.8 65.0 L177.1 72.3 L177.6 75.6 L178.9 77.1 L178.7 78.3 L178.9 80.0 L178.7 81.7 L180.0 83.2 L182.6 82.6 L183.1 84.8 L180.3 85.7 L178.0 86.3 L176.8 87.0 L175.0 89.5 L171.0 91.7 L166.8 92.7 L167.1 95.5 L165.7 99.5 L163.8 102.2 L161.8 100.1 L160.6 98.8 L159.6 98.2 L163.0 98.0 L140.0 98.0 L138.0 96.5 L134.0 99.0 L128.0 101.6 L122.0 97.0 L120.0 96.8 L109.0 97.2 L98.5 97.5 L96.0 99.5 L85.0 99.8 L74.0 99.4 L71.5 97.6 L67.3 94.9 L62.3 95.1 L58.0 96.3 L52.0 98.4 L45.6 99.4 L46.4 88.4 L47.9 77.4Z" fill="none" stroke="#000" stroke-width="0.9" stroke-dasharray="0.9 1.1"/>
<path d="M103.2 31.0 L185.1 55.9 L185.7 76.0 L183.0 86.0 L162.6 117.5 L138.5 138.0 L102.0 149.2 L94.3 151.0 L77.5 148.7 L36.4 132.0 L48.0 64.2 L60.4 52.0Z" fill="none" stroke="#fff" stroke-opacity="0.45" stroke-width="2.6"/>
</g>
<path d="M103.0 30.4h0.01M60.1 51.9h0.01M48.2 63.7h0.01M67.5 60.2h0.01M85.8 66.3h0.01M54.3 82.9h0.01M71.8 83.8h0.01M121.8 68.9h0.01M127.0 80.3h0.01M155.7 60.2h0.01M53.4 101.9h0.01M72.4 98.4h0.01M43.5 114.1h0.01M62.2 117.6h0.01M36.8 130.9h0.01M61.3 130.9h0.01M110.0 133.9h0.01M120.5 133.4h0.01M94.2 137.9h0.01M101.6 95.4h0.01M111.2 117.3h0.01M94.3 150.0h0.01M162.3 116.4h0.01M184.5 57.5h0.01M183.5 84.5h0.01" fill="none" stroke="#0a0a30" stroke-width="3.0" stroke-linecap="round"/>
<use href="#bm"/>
</g>
<text transform="translate(287.3 567.3) rotate(14.4)" text-anchor="end" class="tl"><tspan>30</tspan><tspan class="dg" dy="-3.3">o</tspan><tspan dy="3.3">N</tspan></text>
<text transform="translate(295.7 534.2) rotate(14.4)" text-anchor="end" class="tl"><tspan>36</tspan><tspan class="dg" dy="-3.3">o</tspan><tspan dy="3.3">N</tspan></text>
<text transform="translate(304.1 501.4) rotate(14.4)" text-anchor="end" class="tl"><tspan>42</tspan><tspan class="dg" dy="-3.3">o</tspan><tspan dy="3.3">N</tspan></text>
<text transform="translate(312.5 468.4) rotate(14.4)" text-anchor="end" class="tl"><tspan>48</tspan><tspan class="dg" dy="-3.3">o</tspan><tspan dy="3.3">N</tspan></text>
<text transform="translate(321.0 434.8) rotate(14.4)" text-anchor="end" class="tl"><tspan>54</tspan><tspan class="dg" dy="-3.3">o</tspan><tspan dy="3.3">N</tspan></text>
<text transform="translate(313.1 608.9) rotate(10.5)" text-anchor="middle" class="tl"><tspan>99</tspan><tspan class="dg" dy="-3.3">o</tspan><tspan dy="3.3">W</tspan></text>
<text transform="translate(360.6 615.3) rotate(4.8)" text-anchor="middle" class="tl"><tspan>90</tspan><tspan class="dg" dy="-3.3">o</tspan><tspan dy="3.3">W</tspan></text>
<text transform="translate(408.5 616.9) rotate(-1.0)" text-anchor="middle" class="tl"><tspan>81</tspan><tspan class="dg" dy="-3.3">o</tspan><tspan dy="3.3">W</tspan></text>
<text transform="translate(456.3 613.7) rotate(-6.7)" text-anchor="middle" class="tl"><tspan>72</tspan><tspan class="dg" dy="-3.3">o</tspan><tspan dy="3.3">W</tspan></text>
<text transform="translate(503.6 605.7) rotate(-12.5)" text-anchor="middle" class="tl"><tspan>63</tspan><tspan class="dg" dy="-3.3">o</tspan><tspan dy="3.3">W</tspan></text>
<text transform="translate(276.0 450.7) scale(0.9 1)" class="pl">f</text>
<defs><linearGradient id="cbg" x1="0" y1="1" x2="0" y2="0">
<stop offset="0.0000" stop-color="#000080"/>
<stop offset="0.0156" stop-color="#00008f"/>
<stop offset="0.0312" stop-color="#00009f"/>
<stop offset="0.0469" stop-color="#0000af"/>
<stop offset="0.0625" stop-color="#0000bf"/>
<stop offset="0.0781" stop-color="#0000cf"/>
<stop offset="0.0938" stop-color="#0000df"/>
<stop offset="0.1094" stop-color="#0000ef"/>
<stop offset="0.1250" stop-color="#0000ff"/>
<stop offset="0.1406" stop-color="#0010ff"/>
<stop offset="0.1562" stop-color="#0020ff"/>
<stop offset="0.1719" stop-color="#0030ff"/>
<stop offset="0.1875" stop-color="#0040ff"/>
<stop offset="0.2031" stop-color="#0050ff"/>
<stop offset="0.2188" stop-color="#0060ff"/>
<stop offset="0.2344" stop-color="#0070ff"/>
<stop offset="0.2500" stop-color="#0080ff"/>
<stop offset="0.2656" stop-color="#008fff"/>
<stop offset="0.2812" stop-color="#009fff"/>
<stop offset="0.2969" stop-color="#00afff"/>
<stop offset="0.3125" stop-color="#00bfff"/>
<stop offset="0.3281" stop-color="#00cfff"/>
<stop offset="0.3438" stop-color="#00dfff"/>
<stop offset="0.3594" stop-color="#00efff"/>
<stop offset="0.3750" stop-color="#00ffff"/>
<stop offset="0.3906" stop-color="#10ffef"/>
<stop offset="0.4062" stop-color="#20ffdf"/>
<stop offset="0.4219" stop-color="#30ffcf"/>
<stop offset="0.4375" stop-color="#40ffbf"/>
<stop offset="0.4531" stop-color="#50ffaf"/>
<stop offset="0.4688" stop-color="#60ff9f"/>
<stop offset="0.4844" stop-color="#70ff8f"/>
<stop offset="0.5000" stop-color="#80ff80"/>
<stop offset="0.5156" stop-color="#8fff70"/>
<stop offset="0.5312" stop-color="#9fff60"/>
<stop offset="0.5469" stop-color="#afff50"/>
<stop offset="0.5625" stop-color="#bfff40"/>
<stop offset="0.5781" stop-color="#cfff30"/>
<stop offset="0.5938" stop-color="#dfff20"/>
<stop offset="0.6094" stop-color="#efff10"/>
<stop offset="0.6250" stop-color="#ffff00"/>
<stop offset="0.6406" stop-color="#ffef00"/>
<stop offset="0.6562" stop-color="#ffdf00"/>
<stop offset="0.6719" stop-color="#ffcf00"/>
<stop offset="0.6875" stop-color="#ffbf00"/>
<stop offset="0.7031" stop-color="#ffaf00"/>
<stop offset="0.7188" stop-color="#ff9f00"/>
<stop offset="0.7344" stop-color="#ff8f00"/>
<stop offset="0.7500" stop-color="#ff8000"/>
<stop offset="0.7656" stop-color="#ff7000"/>
<stop offset="0.7812" stop-color="#ff6000"/>
<stop offset="0.7969" stop-color="#ff5000"/>
<stop offset="0.8125" stop-color="#ff4000"/>
<stop offset="0.8281" stop-color="#ff3000"/>
<stop offset="0.8438" stop-color="#ff2000"/>
<stop offset="0.8594" stop-color="#ff1000"/>
<stop offset="0.8750" stop-color="#ff0000"/>
<stop offset="0.8906" stop-color="#ef0000"/>
<stop offset="0.9062" stop-color="#df0000"/>
<stop offset="0.9219" stop-color="#cf0000"/>
<stop offset="0.9375" stop-color="#bf0000"/>
<stop offset="0.9531" stop-color="#af0000"/>
<stop offset="0.9688" stop-color="#9f0000"/>
<stop offset="0.9844" stop-color="#8f0000"/>
<stop offset="1.0000" stop-color="#800000"/>
</linearGradient></defs>
<rect x="535.5" y="407.0" width="18.2" height="181.1" fill="url(#cbg)" stroke="#000" stroke-width="0.7"/>
<text x="556.2" y="410.0" class="cb">150</text>
<text x="556.2" y="440.2" class="cb">100</text>
<text x="556.2" y="470.4" class="cb">50</text>
<text x="556.2" y="500.6" class="cb">0</text>
<text x="556.2" y="530.7" class="cb">-50</text>
<text x="556.2" y="560.9" class="cb">-100</text>
<text x="556.2" y="591.1" class="cb">-150</text>
</svg></body></html>
